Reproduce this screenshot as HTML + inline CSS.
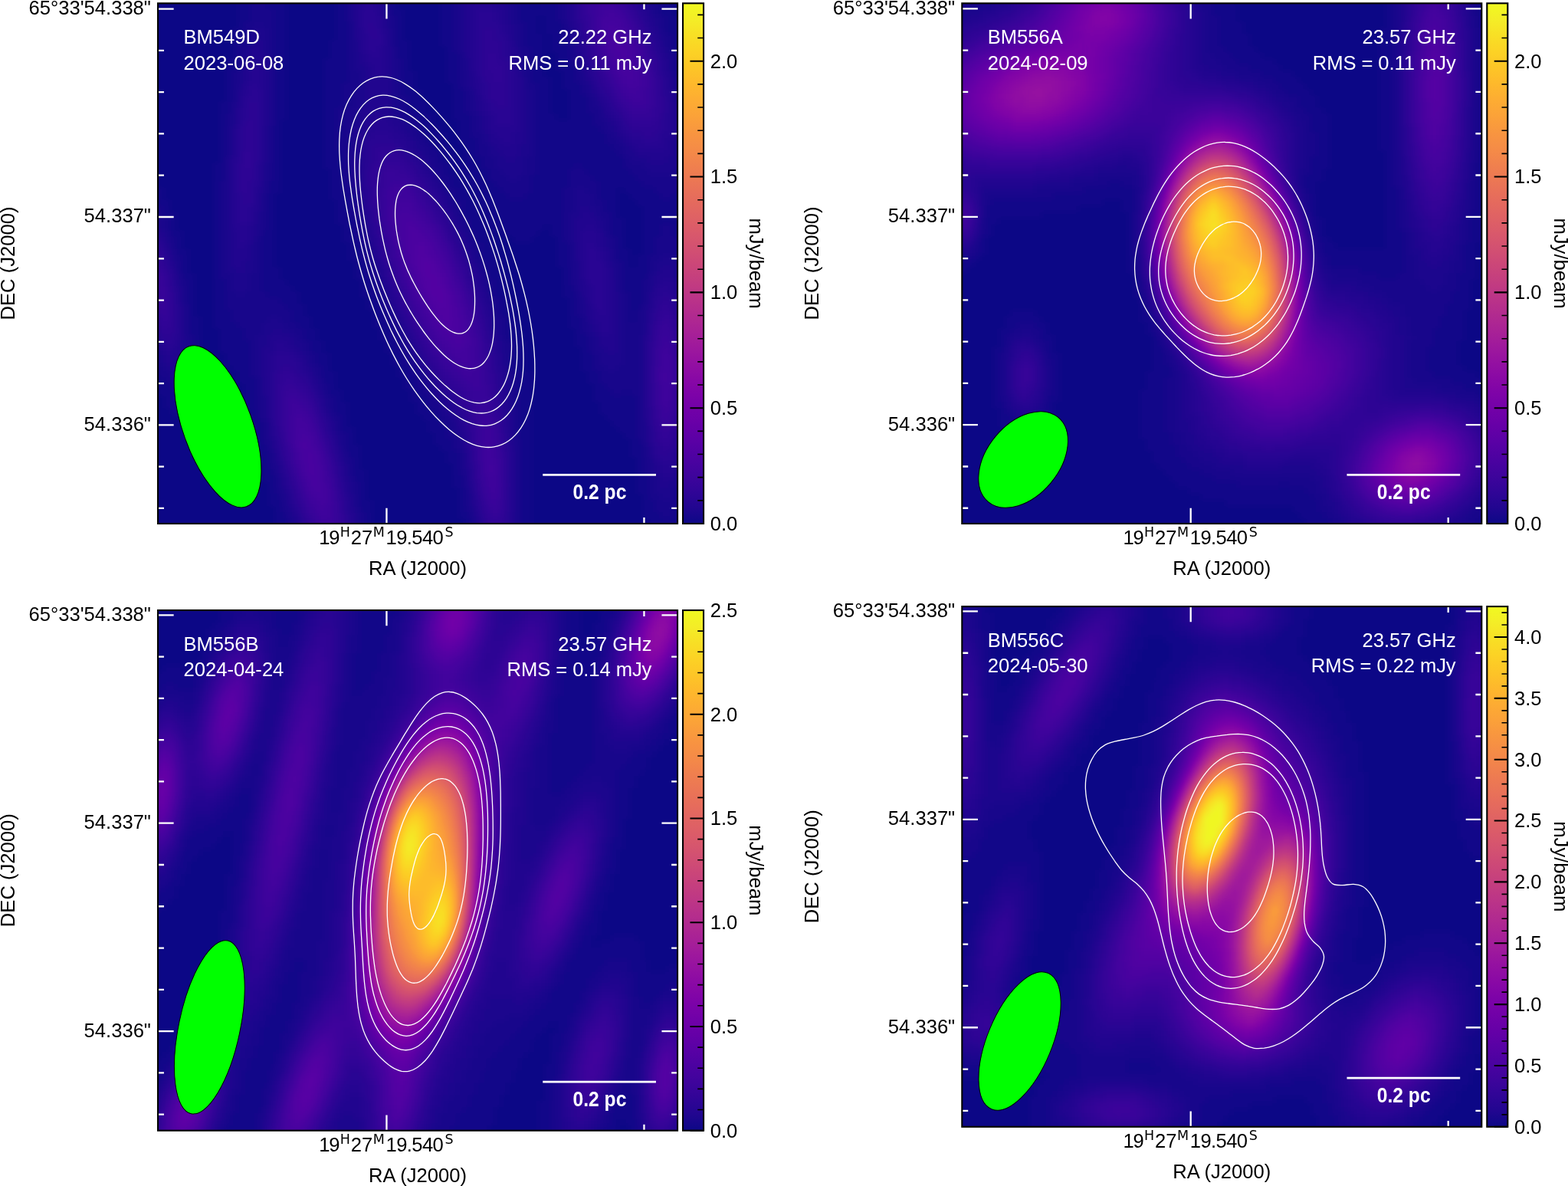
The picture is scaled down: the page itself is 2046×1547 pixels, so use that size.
<!DOCTYPE html>
<html lang="en"><head><meta charset="utf-8"><title>VLBA maps</title>
<style>html,body{margin:0;padding:0;background:#fff;overflow:hidden}svg{display:block}text{font-family:"Liberation Sans", Arial, Helvetica, sans-serif;font-size:25.6px}.w{fill:#fff}.k{fill:#000}.b{font-weight:bold}.s{font-family:"DejaVu Sans", "Liberation Sans", sans-serif;font-size:17.5px}</style></head><body>
<svg width="2046" height="1547" viewBox="0 0 2046 1547">
<defs>
<filter id="pl" filterUnits="userSpaceOnUse" x="-40" y="-40" width="760" height="760" color-interpolation-filters="sRGB">
<feGaussianBlur stdDeviation="4"/>
<feComponentTransfer>
<feFuncR type="table" tableValues="0.050 0.096 0.132 0.164 0.193 0.221 0.248 0.274 0.300 0.325 0.350 0.375 0.399 0.424 0.448 0.471 0.501 0.524 0.546 0.568 0.590 0.611 0.631 0.651 0.670 0.688 0.706 0.723 0.740 0.756 0.772 0.787 0.805 0.820 0.833 0.847 0.860 0.872 0.884 0.896 0.907 0.918 0.928 0.938 0.947 0.955 0.963 0.970 0.978 0.983 0.987 0.991 0.993 0.994 0.994 0.993 0.991 0.988 0.983 0.976 0.968 0.959 0.949 0.940"/>
<feFuncG type="table" tableValues="0.030 0.025 0.022 0.020 0.018 0.016 0.014 0.012 0.010 0.007 0.004 0.002 0.001 0.001 0.002 0.006 0.014 0.025 0.039 0.056 0.073 0.090 0.108 0.125 0.143 0.161 0.178 0.196 0.214 0.232 0.249 0.267 0.289 0.307 0.325 0.343 0.361 0.379 0.397 0.416 0.435 0.454 0.473 0.493 0.513 0.533 0.554 0.575 0.602 0.624 0.647 0.670 0.693 0.717 0.741 0.765 0.791 0.816 0.842 0.868 0.895 0.921 0.948 0.975"/>
<feFuncB type="table" tableValues="0.528 0.547 0.563 0.577 0.590 0.602 0.613 0.623 0.632 0.640 0.646 0.652 0.656 0.659 0.660 0.660 0.657 0.653 0.647 0.639 0.630 0.620 0.608 0.596 0.582 0.568 0.554 0.539 0.524 0.509 0.495 0.480 0.462 0.448 0.434 0.421 0.407 0.393 0.380 0.366 0.353 0.340 0.326 0.313 0.299 0.285 0.272 0.258 0.241 0.228 0.215 0.202 0.189 0.177 0.166 0.157 0.149 0.144 0.142 0.143 0.147 0.152 0.152 0.131"/>
</feComponentTransfer></filter>
<linearGradient id="cb" x1="0" y1="1" x2="0" y2="0">
<stop offset="0" stop-color="#0d0887"/>
<stop offset="0.03125" stop-color="#220690"/>
<stop offset="0.0625" stop-color="#310597"/>
<stop offset="0.09375" stop-color="#3f049c"/>
<stop offset="0.125" stop-color="#4c02a1"/>
<stop offset="0.15625" stop-color="#5901a5"/>
<stop offset="0.1875" stop-color="#6600a7"/>
<stop offset="0.21875" stop-color="#7201a8"/>
<stop offset="0.25" stop-color="#7e03a8"/>
<stop offset="0.28125" stop-color="#8a09a5"/>
<stop offset="0.3125" stop-color="#9511a1"/>
<stop offset="0.34375" stop-color="#a01a9c"/>
<stop offset="0.375" stop-color="#aa2395"/>
<stop offset="0.40625" stop-color="#b32c8e"/>
<stop offset="0.4375" stop-color="#bc3587"/>
<stop offset="0.46875" stop-color="#c43e7f"/>
<stop offset="0.5" stop-color="#cc4778"/>
<stop offset="0.53125" stop-color="#d35171"/>
<stop offset="0.5625" stop-color="#da5a6a"/>
<stop offset="0.59375" stop-color="#e06363"/>
<stop offset="0.625" stop-color="#e66c5c"/>
<stop offset="0.65625" stop-color="#eb7655"/>
<stop offset="0.6875" stop-color="#f0804e"/>
<stop offset="0.71875" stop-color="#f58b47"/>
<stop offset="0.75" stop-color="#f89540"/>
<stop offset="0.78125" stop-color="#fba139"/>
<stop offset="0.8125" stop-color="#fdac33"/>
<stop offset="0.84375" stop-color="#feb82c"/>
<stop offset="0.875" stop-color="#fdc527"/>
<stop offset="0.90625" stop-color="#fcd225"/>
<stop offset="0.9375" stop-color="#f8df25"/>
<stop offset="0.96875" stop-color="#f4ed27"/>
<stop offset="1" stop-color="#f0f921"/>
</linearGradient>
<clipPath id="ax"><rect x="0" y="0" width="678" height="678.7"/></clipPath>
</defs>
<rect width="2046" height="1547" fill="#fff"/>
<g transform="translate(206.05 4.3)">
<g clip-path="url(#ax)">
<g filter="url(#pl)"><rect x="-24" y="-24" width="728" height="728" fill="#000000"/><g stroke-width="8.3" fill="none"><path stroke="#020202" d="M112 -20h48M232 -20h16M296 -20h16M368 -20h16M464 -20h16M496 -20h16M640 -20h16M112 -12h48M232 -12h16M296 -12h16M368 -12h16M464 -12h24M496 -12h24M648 -12h16M104 -4h24M144 -4h24M232 -4h16M304 -4h8M368 -4h16M464 -4h24M496 -4h24M648 -4h16M104 4h16M144 4h24M232 4h16M304 4h8M368 4h16M472 4h16M496 4h24M656 4h16M104 12h16M152 12h16M232 12h16M304 12h16M368 12h16M472 12h48M656 12h16M104 20h16M152 20h16M232 20h16M312 20h8M368 20h16M472 20h24M504 20h16M664 20h16M104 28h8M152 28h16M232 28h16M312 28h8M368 28h16M480 28h16M504 28h24M664 28h16M96 36h16M152 36h16M232 36h16M312 36h8M368 36h16M480 36h16M504 36h24M664 36h16M96 44h16M152 44h16M232 44h16M312 44h8M368 44h16M480 44h24M512 44h16M672 44h16M96 52h8M152 52h16M224 52h24M312 52h16M368 52h16M480 52h24M512 52h16M672 52h16M96 60h8M152 60h16M224 60h24M312 60h16M376 60h8M488 60h16M512 60h24M672 60h16M96 68h8M152 68h16M224 68h24M312 68h16M376 68h16M488 68h16M520 68h16M680 68h16M88 76h16M152 76h16M216 76h32M320 76h8M376 76h16M488 76h16M520 76h16M680 76h16M88 84h16M152 84h16M216 84h32M320 84h8M376 84h16M488 84h16M520 84h24M680 84h16M88 92h8M152 92h16M216 92h32M320 92h16M376 92h16M488 92h16M528 92h16M688 92h8M88 100h8M152 100h16M216 100h32M320 100h16M376 100h16M488 100h24M528 100h16M688 100h16M88 108h8M152 108h16M216 108h24M320 108h16M384 108h8M496 108h16M528 108h24M688 108h16M88 116h8M152 116h16M216 116h24M320 116h24M384 116h16M496 116h16M536 116h16M688 116h16M88 124h8M152 124h16M216 124h24M328 124h16M384 124h16M496 124h16M536 124h24M688 124h16M80 132h16M152 132h16M216 132h24M328 132h24M384 132h16M496 132h16M536 132h24M696 132h8M80 140h16M152 140h16M216 140h16M328 140h24M384 140h16M496 140h16M536 140h24M696 140h8M80 148h8M152 148h16M216 148h16M336 148h24M384 148h24M496 148h24M536 148h32M696 148h8M80 156h8M152 156h8M216 156h16M344 156h16M392 156h16M496 156h72M696 156h8M80 164h8M152 164h8M216 164h16M344 164h24M392 164h16M496 164h80M696 164h8M80 172h8M152 172h8M216 172h16M352 172h24M392 172h16M496 172h88M696 172h8M80 180h8M152 180h8M216 180h16M352 180h24M392 180h24M496 180h88M696 180h8M80 188h8M152 188h8M216 188h16M360 188h24M400 188h16M496 188h96M696 188h8M80 196h8M152 196h8M216 196h24M368 196h16M400 196h16M496 196h104M696 196h8M80 204h8M152 204h8M216 204h24M368 204h24M400 204h24M496 204h112M696 204h8M72 212h16M152 212h8M216 212h24M376 212h48M496 212h48M552 212h56M696 212h8M-24 220h16M72 220h16M152 220h8M224 220h16M376 220h56M496 220h40M560 220h56M688 220h16M-24 228h24M72 228h16M152 228h8M224 228h16M384 228h48M488 228h48M568 228h56M688 228h16M-24 236h24M72 236h8M144 236h16M224 236h16M384 236h56M488 236h48M576 236h56M688 236h16M-24 244h32M72 244h8M144 244h16M224 244h16M392 244h56M488 244h40M576 244h24M608 244h40M680 244h24M-8 252h16M72 252h8M144 252h8M224 252h24M392 252h64M480 252h48M576 252h24M616 252h40M672 252h32M0 260h16M72 260h8M144 260h8M232 260h16M400 260h128M584 260h16M624 260h80M8 268h8M72 268h8M144 268h8M232 268h16M400 268h128M584 268h16M632 268h72M8 276h16M72 276h8M144 276h8M232 276h16M400 276h128M592 276h8M632 276h72M16 284h8M72 284h8M144 284h8M232 284h24M408 284h120M592 284h16M632 284h64M16 292h8M72 292h8M144 292h8M240 292h16M408 292h96M512 292h16M592 292h16M632 292h24M672 292h24M16 300h16M72 300h8M136 300h16M240 300h16M416 300h24M448 300h48M512 300h16M592 300h16M632 300h24M672 300h24M24 308h8M72 308h8M136 308h16M240 308h16M416 308h24M464 308h24M520 308h8M600 308h8M632 308h16M680 308h16M24 316h8M72 316h8M136 316h16M248 316h16M424 316h16M520 316h16M600 316h8M632 316h16M680 316h16M24 324h16M72 324h8M136 324h16M248 324h16M424 324h16M520 324h16M600 324h16M632 324h16M680 324h16M32 332h8M72 332h8M136 332h16M248 332h16M424 332h24M520 332h16M600 332h16M624 332h16M688 332h8M32 340h8M72 340h8M136 340h16M256 340h16M432 340h16M520 340h16M608 340h8M624 340h16M688 340h8M32 348h8M72 348h8M136 348h24M256 348h16M432 348h16M528 348h8M608 348h32M688 348h8M32 356h16M72 356h8M136 356h24M256 356h16M432 356h24M528 356h8M608 356h32M688 356h16M40 364h8M72 364h16M136 364h32M264 364h16M440 364h16M528 364h8M608 364h24M688 364h16M40 372h8M72 372h16M136 372h40M264 372h16M440 372h16M528 372h16M608 372h24M696 372h8M40 380h8M72 380h16M144 380h40M264 380h16M440 380h16M528 380h16M616 380h16M696 380h8M40 388h8M72 388h16M160 388h24M272 388h16M448 388h16M536 388h8M616 388h16M696 388h8M40 396h8M72 396h16M168 396h24M272 396h16M448 396h16M536 396h8M616 396h16M696 396h8M40 404h8M72 404h24M176 404h16M280 404h16M448 404h16M536 404h8M616 404h8M696 404h8M40 412h16M72 412h24M176 412h24M280 412h16M456 412h16M536 412h16M616 412h8M696 412h8M40 420h16M72 420h32M184 420h16M280 420h24M456 420h16M536 420h16M696 420h8M40 428h16M80 428h32M192 428h16M288 428h16M456 428h16M544 428h8M696 428h8M-24 436h8M48 436h8M80 436h32M192 436h16M288 436h16M456 436h16M544 436h16M696 436h8M-24 444h8M48 444h8M80 444h40M200 444h16M296 444h16M464 444h16M544 444h16M696 444h8M-24 452h8M40 452h16M80 452h40M200 452h16M296 452h16M464 452h16M552 452h8M696 452h8M-24 460h16M40 460h16M88 460h32M208 460h16M304 460h16M464 460h16M552 460h16M696 460h8M-16 468h8M40 468h16M88 468h32M208 468h16M304 468h16M464 468h16M552 468h16M696 468h8M-16 476h16M40 476h16M96 476h24M216 476h8M312 476h16M464 476h16M552 476h16M696 476h8M-16 484h16M40 484h16M104 484h16M216 484h16M312 484h16M472 484h16M560 484h16M696 484h8M-8 492h16M40 492h16M104 492h24M216 492h16M320 492h16M472 492h16M560 492h16M696 492h8M-8 500h24M32 500h16M112 500h16M224 500h8M320 500h16M472 500h16M568 500h16M696 500h8M0 508h48M112 508h16M224 508h16M328 508h16M472 508h16M568 508h24M608 508h8M696 508h8M8 516h40M112 516h16M232 516h8M328 516h24M472 516h16M568 516h56M696 516h8M8 524h40M112 524h16M232 524h16M336 524h16M472 524h16M576 524h48M696 524h8M16 532h24M120 532h8M232 532h16M336 532h24M472 532h16M576 532h48M696 532h8M120 540h8M240 540h8M344 540h24M472 540h16M584 540h40M696 540h8M120 548h16M240 548h8M352 548h16M472 548h16M592 548h32M696 548h8M120 556h16M240 556h16M352 556h24M472 556h16M600 556h24M696 556h8M128 564h8M248 564h8M360 564h16M472 564h16M608 564h16M696 564h8M128 572h8M248 572h8M360 572h24M472 572h16M616 572h16M696 572h8M128 580h16M248 580h16M368 580h16M472 580h16M616 580h16M696 580h8M128 588h16M248 588h16M376 588h16M472 588h16M616 588h16M696 588h8M136 596h8M256 596h8M376 596h16M472 596h16M624 596h8M696 596h8M136 604h8M256 604h8M384 604h8M472 604h16M624 604h8M688 604h16M136 612h16M256 612h16M384 612h8M472 612h16M624 612h8M688 612h16M136 620h16M256 620h16M384 620h16M472 620h16M624 620h16M688 620h8M144 628h8M264 628h8M384 628h16M472 628h16M624 628h16M688 628h8M144 636h8M264 636h8M392 636h8M472 636h16M624 636h16M688 636h8M144 644h16M264 644h8M392 644h8M472 644h16M632 644h8M680 644h16M144 652h16M264 652h16M392 652h8M472 652h16M632 652h16M680 652h16M152 660h8M264 660h16M392 660h8M472 660h16M632 660h16M672 660h24M152 668h16M272 668h8M392 668h16M472 668h16M632 668h24M672 668h16M152 676h16M272 676h8M400 676h8M472 676h16M640 676h48M160 684h8M272 684h8M400 684h8M472 684h16M640 684h48M160 692h16M272 692h16M400 692h8M472 692h8M640 692h40M160 700h16M272 700h16M400 700h16M472 700h8M648 700h32"/><path stroke="#040404" d="M248 -20h8M288 -20h8M384 -20h8M448 -20h16M512 -20h16M632 -20h8M248 -12h8M384 -12h8M456 -12h8M520 -12h8M640 -12h8M128 -4h16M296 -4h8M384 -4h8M456 -4h8M520 -4h8M640 -4h8M120 4h24M296 4h8M384 4h8M464 4h8M520 4h8M648 4h8M120 12h32M384 12h8M464 12h8M520 12h8M648 12h8M120 20h32M304 20h8M384 20h8M464 20h8M520 20h8M656 20h8M112 28h16M136 28h16M248 28h8M304 28h8M384 28h8M472 28h8M528 28h8M656 28h8M112 36h8M144 36h8M248 36h8M304 36h8M384 36h8M472 36h8M528 36h8M656 36h8M112 44h8M144 44h8M248 44h8M304 44h8M384 44h8M472 44h8M528 44h8M664 44h8M104 52h16M144 52h8M248 52h8M304 52h8M384 52h8M472 52h8M528 52h8M664 52h8M104 60h8M144 60h8M248 60h8M384 60h8M472 60h16M536 60h8M664 60h8M104 68h8M144 68h8M248 68h8M392 68h8M480 68h8M536 68h8M672 68h8M104 76h8M248 76h8M312 76h8M392 76h8M480 76h8M536 76h8M672 76h8M104 84h8M248 84h8M312 84h8M392 84h8M480 84h8M544 84h8M672 84h8M96 92h8M248 92h16M312 92h8M392 92h8M480 92h8M544 92h8M672 92h16M96 100h8M248 100h16M312 100h8M392 100h8M480 100h8M544 100h8M680 100h8M96 108h8M240 108h24M312 108h8M392 108h8M480 108h16M552 108h8M680 108h8M96 116h8M240 116h16M312 116h8M400 116h8M488 116h8M552 116h8M680 116h8M96 124h8M240 124h16M312 124h16M400 124h8M488 124h8M560 124h8M680 124h8M240 132h16M312 132h16M400 132h8M488 132h8M560 132h8M680 132h16M232 140h16M320 140h8M400 140h8M488 140h8M560 140h16M688 140h8M88 148h8M232 148h16M320 148h16M408 148h8M488 148h8M568 148h8M688 148h8M88 156h8M232 156h16M328 156h16M408 156h8M488 156h8M568 156h16M688 156h8M88 164h8M144 164h8M232 164h16M336 164h8M408 164h8M488 164h8M576 164h8M688 164h8M88 172h8M144 172h8M232 172h16M336 172h16M408 172h16M488 172h8M584 172h8M688 172h8M88 180h8M144 180h8M232 180h16M344 180h8M416 180h8M488 180h8M584 180h16M688 180h8M88 188h8M144 188h8M232 188h16M352 188h8M416 188h16M488 188h8M592 188h16M680 188h16M88 196h8M144 196h8M240 196h8M352 196h16M416 196h16M488 196h8M600 196h8M680 196h16M144 204h8M240 204h8M360 204h8M424 204h16M480 204h16M608 204h8M680 204h16M144 212h8M240 212h8M360 212h16M424 212h16M480 212h16M544 212h8M608 212h24M680 212h16M144 220h8M240 220h8M368 220h8M432 220h16M480 220h16M536 220h24M616 220h24M672 220h16M144 228h8M240 228h8M368 228h16M432 228h24M472 228h16M536 228h32M624 228h64M80 236h8M240 236h8M376 236h8M440 236h48M536 236h40M632 236h56M80 244h8M240 244h16M376 244h16M448 244h40M528 244h16M560 244h16M648 244h32M-24 252h16M80 252h8M136 252h8M248 252h8M384 252h8M456 252h24M528 252h16M568 252h8M656 252h16M-24 260h24M80 260h8M136 260h8M248 260h8M384 260h16M528 260h16M568 260h16M-8 268h16M80 268h8M136 268h8M248 268h8M392 268h8M528 268h16M576 268h8M0 276h8M80 276h8M136 276h8M248 276h8M392 276h8M528 276h8M576 276h16M8 284h8M80 284h8M136 284h8M256 284h8M400 284h8M528 284h8M584 284h8M8 292h8M80 292h8M136 292h8M256 292h8M400 292h8M528 292h8M584 292h8M656 292h16M80 300h8M256 300h8M408 300h8M528 300h8M584 300h8M656 300h16M16 308h8M80 308h8M128 308h8M256 308h8M408 308h8M528 308h8M592 308h8M648 308h32M16 316h8M80 316h8M128 316h8M264 316h8M408 316h16M536 316h8M592 316h8M648 316h32M80 324h8M128 324h8M264 324h8M416 324h8M536 324h8M592 324h8M648 324h32M24 332h8M80 332h8M128 332h8M264 332h8M416 332h8M536 332h8M592 332h8M640 332h16M672 332h16M24 340h8M80 340h8M128 340h8M272 340h8M424 340h8M536 340h8M600 340h8M640 340h8M680 340h8M24 348h8M80 348h8M128 348h8M272 348h8M424 348h8M536 348h8M600 348h8M640 348h8M680 348h8M80 356h16M120 356h16M272 356h8M424 356h8M536 356h8M600 356h8M680 356h8M32 364h8M88 364h8M120 364h16M280 364h8M432 364h8M536 364h8M600 364h8M632 364h8M32 372h8M88 372h8M120 372h16M280 372h8M432 372h8M600 372h8M632 372h8M688 372h8M32 380h8M88 380h16M112 380h32M280 380h16M432 380h8M544 380h8M608 380h8M632 380h8M688 380h8M32 388h8M88 388h72M288 388h8M440 388h8M544 388h8M608 388h8M632 388h8M688 388h8M88 396h80M288 396h8M440 396h8M544 396h8M608 396h8M688 396h8M96 404h80M296 404h8M440 404h8M544 404h8M608 404h8M624 404h8M688 404h8M-24 412h8M96 412h48M160 412h16M296 412h8M448 412h8M552 412h8M608 412h8M624 412h8M688 412h8M-24 420h8M104 420h32M168 420h16M304 420h8M448 420h8M552 420h8M608 420h24M-24 428h8M112 428h24M176 428h16M304 428h8M448 428h8M552 428h8M608 428h24M40 436h8M112 436h16M184 436h8M304 436h16M448 436h8M560 436h8M608 436h24M-16 444h8M40 444h8M120 444h8M192 444h8M312 444h8M456 444h8M560 444h8M608 444h24M-16 452h8M120 452h8M192 452h8M312 452h16M456 452h8M560 452h8M608 452h24M-8 460h8M120 460h8M200 460h8M320 460h8M456 460h8M568 460h8M608 460h24M-8 468h8M32 468h8M120 468h8M200 468h8M320 468h16M456 468h8M568 468h8M608 468h24M0 476h8M32 476h8M120 476h8M208 476h8M328 476h8M456 476h8M568 476h16M600 476h32M0 484h16M24 484h16M120 484h8M208 484h8M328 484h16M464 484h8M576 484h56M8 492h32M128 492h8M336 492h8M464 492h8M576 492h56M16 500h16M128 500h8M216 500h8M336 500h16M464 500h8M584 500h48M128 508h8M216 508h8M344 508h8M464 508h8M592 508h16M616 508h16M128 516h8M224 516h8M352 516h8M464 516h8M624 516h8M128 524h8M224 524h8M352 524h16M464 524h8M624 524h8M128 532h8M224 532h8M360 532h8M464 532h8M624 532h8M128 540h8M232 540h8M368 540h8M464 540h8M624 540h8M136 548h8M232 548h8M368 548h16M464 548h8M624 548h8M136 556h8M232 556h8M376 556h8M464 556h8M624 556h8M136 564h8M240 564h8M376 564h16M464 564h8M624 564h8M688 564h8M136 572h8M240 572h8M384 572h8M688 572h8M240 580h8M384 580h8M632 580h8M688 580h8M144 588h8M392 588h8M632 588h8M688 588h8M144 596h8M248 596h8M392 596h8M632 596h8M688 596h8M144 604h8M248 604h8M392 604h8M632 604h8M248 612h8M392 612h8M632 612h8M680 612h8M152 620h8M640 620h8M680 620h8M152 628h8M256 628h8M640 628h8M680 628h8M152 636h8M256 636h8M400 636h8M640 636h8M672 636h16M256 644h8M400 644h8M640 644h16M672 644h8M160 652h8M256 652h8M400 652h8M648 652h32M160 660h8M400 660h8M648 660h24M264 668h8M656 668h16M168 676h8M264 676h8M408 676h8M168 684h8M264 684h8M408 684h8M464 684h8M176 692h8M264 692h8M408 692h8M464 692h8M176 700h8M264 700h8M464 700h8"/><path stroke="#060606" d="M256 -20h8M280 -20h8M392 -20h16M440 -20h8M528 -20h8M624 -20h8M288 -12h8M392 -12h8M448 -12h8M528 -12h8M632 -12h8M248 -4h8M288 -4h8M392 -4h8M448 -4h8M528 -4h8M632 -4h8M248 4h8M392 4h8M456 4h8M528 4h8M640 4h8M248 12h8M296 12h8M392 12h8M456 12h8M528 12h8M640 12h8M248 20h8M296 20h8M392 20h8M456 20h8M528 20h8M648 20h8M128 28h8M296 28h8M392 28h8M464 28h8M648 28h8M120 36h24M392 36h8M464 36h8M536 36h8M120 44h24M392 44h8M464 44h8M536 44h8M656 44h8M120 52h8M136 52h8M256 52h8M392 52h8M464 52h8M536 52h8M656 52h8M112 60h8M136 60h8M256 60h8M304 60h8M392 60h8M112 68h8M256 68h8M304 68h8M472 68h8M544 68h8M664 68h8M112 76h8M144 76h8M256 76h8M304 76h8M400 76h8M472 76h8M544 76h8M664 76h8M144 84h8M256 84h16M304 84h8M400 84h8M472 84h8M664 84h8M104 92h8M144 92h8M264 92h8M304 92h8M400 92h8M472 92h8M552 92h8M104 100h8M144 100h8M264 100h8M304 100h8M400 100h8M552 100h8M672 100h8M104 108h8M144 108h8M264 108h8M304 108h8M400 108h8M560 108h8M672 108h8M144 116h8M256 116h16M304 116h8M408 116h8M480 116h8M560 116h8M672 116h8M144 124h8M256 124h16M304 124h8M408 124h8M480 124h8M568 124h8M672 124h8M96 132h8M144 132h8M256 132h16M304 132h8M408 132h8M480 132h8M568 132h8M96 140h8M144 140h8M248 140h16M304 140h16M408 140h8M480 140h8M576 140h8M680 140h8M96 148h8M144 148h8M248 148h16M312 148h8M416 148h8M480 148h8M576 148h8M680 148h8M96 156h8M144 156h8M248 156h16M320 156h8M416 156h8M480 156h8M584 156h8M680 156h8M248 164h8M320 164h16M416 164h8M480 164h8M584 164h16M680 164h8M248 172h8M328 172h8M424 172h8M480 172h8M592 172h8M680 172h8M248 180h8M336 180h8M424 180h8M480 180h8M600 180h8M672 180h16M248 188h8M336 188h16M432 188h8M472 188h16M608 188h8M672 188h8M248 196h8M344 196h8M432 196h16M472 196h16M608 196h16M672 196h8M88 204h8M248 204h8M352 204h8M440 204h16M464 204h16M616 204h24M664 204h16M88 212h8M136 212h8M248 212h8M352 212h8M440 212h40M632 212h48M88 220h8M136 220h8M248 220h8M360 220h8M448 220h32M640 220h32M88 228h8M136 228h8M248 228h8M360 228h8M456 228h16M88 236h8M136 236h8M248 236h8M368 236h8M88 244h8M136 244h8M368 244h8M544 244h16M88 252h8M256 252h8M376 252h8M544 252h24M88 260h8M256 260h8M376 260h8M544 260h24M-24 268h16M88 268h8M256 268h8M384 268h8M544 268h8M560 268h16M-24 276h24M88 276h8M128 276h8M256 276h8M384 276h8M536 276h16M568 276h8M0 284h8M88 284h8M128 284h8M264 284h8M392 284h8M536 284h8M576 284h8M0 292h8M88 292h8M128 292h8M264 292h8M392 292h8M536 292h8M576 292h8M8 300h8M88 300h8M128 300h8M264 300h8M400 300h8M536 300h8M8 308h8M88 308h8M264 308h8M400 308h8M536 308h8M584 308h8M88 316h8M120 316h8M272 316h8M584 316h8M16 324h8M88 324h8M120 324h8M272 324h8M408 324h8M16 332h8M88 332h8M120 332h8M272 332h8M408 332h8M656 332h16M88 340h8M112 340h16M280 340h8M416 340h8M544 340h8M592 340h8M648 340h32M88 348h16M112 348h16M280 348h8M416 348h8M544 348h8M592 348h8M648 348h8M672 348h8M24 356h8M96 356h24M280 356h8M544 356h8M592 356h8M640 356h8M672 356h8M24 364h8M96 364h24M288 364h8M424 364h8M544 364h8M640 364h8M680 364h8M96 372h24M288 372h8M424 372h8M544 372h8M640 372h8M680 372h8M104 380h8M600 380h8M680 380h8M296 388h8M432 388h8M552 388h8M600 388h8M680 388h8M-24 396h8M32 396h8M296 396h8M432 396h8M552 396h8M600 396h8M632 396h8M-24 404h8M32 404h8M304 404h8M552 404h8M600 404h8M632 404h8M32 412h8M144 412h16M304 412h8M440 412h8M600 412h8M632 412h8M32 420h8M136 420h32M312 420h8M440 420h8M560 420h8M600 420h8M632 420h8M688 420h8M-16 428h8M32 428h8M136 428h16M160 428h16M312 428h8M440 428h8M560 428h8M600 428h8M632 428h8M688 428h8M-16 436h8M32 436h8M128 436h16M176 436h8M568 436h8M600 436h8M688 436h8M32 444h8M128 444h16M176 444h16M320 444h8M448 444h8M568 444h8M600 444h8M688 444h8M-8 452h8M32 452h8M128 452h8M184 452h8M448 452h8M568 452h16M600 452h8M688 452h8M0 460h8M32 460h8M128 460h8M192 460h8M328 460h8M448 460h8M576 460h32M688 460h8M0 468h8M24 468h8M128 468h8M192 468h8M448 468h8M576 468h32M688 468h8M8 476h24M128 476h8M200 476h8M336 476h8M584 476h16M688 476h8M16 484h8M128 484h8M200 484h8M344 484h8M456 484h8M688 484h8M208 492h8M344 492h8M456 492h8M688 492h8M208 500h8M352 500h8M456 500h8M688 500h8M352 508h8M456 508h8M688 508h8M136 516h8M216 516h8M360 516h8M456 516h8M688 516h8M136 524h8M216 524h8M368 524h8M456 524h8M688 524h8M136 532h8M368 532h8M688 532h8M136 540h8M224 540h8M376 540h8M688 540h8M384 548h8M632 548h8M688 548h8M384 556h8M632 556h8M688 556h8M232 564h8M632 564h8M144 572h8M232 572h8M392 572h8M464 572h8M632 572h8M144 580h8M392 580h8M464 580h8M240 588h8M464 588h8M680 588h8M240 596h8M464 596h8M640 596h8M680 596h8M152 604h8M464 604h8M640 604h8M680 604h8M152 612h8M400 612h8M464 612h8M640 612h8M248 620h8M400 620h8M464 620h8M648 620h8M672 620h8M248 628h8M400 628h8M464 628h8M648 628h8M664 628h16M160 636h8M248 636h8M464 636h8M648 636h24M160 644h8M464 644h8M656 644h16M464 652h8M168 660h8M256 660h8M408 660h8M464 660h8M168 668h8M256 668h8M408 668h8M464 668h8M176 676h8M256 676h8M464 676h8M176 684h8M256 684h8M256 692h8M416 692h8M184 700h8M256 700h8M416 700h8M456 700h8"/><path stroke="#080808" d="M264 -20h16M408 -20h32M616 -20h8M256 -12h16M280 -12h8M400 -12h16M432 -12h16M624 -12h8M256 -4h8M280 -4h8M400 -4h16M440 -4h8M256 4h8M288 4h8M400 4h8M440 4h16M536 4h8M632 4h8M256 12h8M288 12h8M400 12h8M448 12h8M536 12h8M256 20h8M400 20h8M448 20h8M536 20h8M640 20h8M256 28h8M400 28h8M456 28h8M536 28h8M640 28h8M256 36h8M296 36h8M400 36h8M456 36h8M648 36h8M256 44h8M296 44h8M400 44h8M456 44h8M544 44h8M648 44h8M128 52h8M296 52h8M400 52h8M544 52h8M120 60h16M296 60h8M400 60h8M464 60h8M544 60h8M656 60h8M120 68h24M264 68h8M296 68h8M400 68h8M464 68h8M656 68h8M120 76h24M264 76h8M296 76h8M464 76h8M552 76h8M112 84h8M136 84h8M272 84h8M296 84h8M464 84h8M552 84h8M112 92h8M136 92h8M272 92h8M296 92h8M408 92h8M664 92h8M112 100h8M136 100h8M272 100h32M408 100h8M472 100h8M560 100h8M664 100h8M136 108h8M272 108h32M408 108h8M472 108h8M664 108h8M104 116h8M136 116h8M272 116h32M472 116h8M568 116h8M104 124h8M136 124h8M272 124h32M416 124h8M472 124h8M104 132h8M136 132h8M272 132h32M416 132h8M472 132h8M576 132h8M672 132h8M136 140h8M264 140h40M416 140h8M472 140h8M672 140h8M136 148h8M264 148h16M296 148h16M424 148h8M472 148h8M584 148h8M672 148h8M136 156h8M264 156h8M304 156h16M424 156h8M472 156h8M592 156h8M672 156h8M96 164h8M136 164h8M256 164h16M312 164h8M424 164h8M472 164h8M672 164h8M96 172h8M136 172h8M256 172h8M320 172h8M432 172h8M464 172h16M600 172h8M672 172h8M96 180h8M136 180h8M256 180h8M328 180h8M432 180h16M464 180h16M608 180h8M664 180h8M96 188h8M136 188h8M256 188h8M328 188h8M440 188h32M616 188h8M664 188h8M96 196h8M136 196h8M256 196h8M336 196h8M448 196h24M624 196h48M136 204h8M256 204h8M344 204h8M456 204h8M640 204h24M256 212h8M344 212h8M256 220h8M352 220h8M256 228h8M256 236h8M360 236h8M128 244h8M256 244h8M128 252h8M368 252h8M128 260h8M264 260h8M128 268h8M264 268h8M376 268h8M552 268h8M264 276h8M552 276h16M-24 284h24M384 284h8M544 284h32M-24 292h8M-8 292h8M120 292h8M544 292h16M568 292h8M0 300h8M96 300h8M120 300h8M272 300h8M392 300h8M544 300h8M576 300h8M96 308h8M120 308h8M272 308h8M544 308h8M576 308h8M8 316h8M96 316h8M112 316h8M400 316h8M544 316h8M576 316h8M96 324h24M280 324h8M400 324h8M544 324h8M584 324h8M96 332h24M280 332h8M544 332h8M584 332h8M16 340h8M96 340h16M408 340h8M584 340h8M104 348h8M288 348h8M656 348h16M288 356h8M416 356h8M648 356h24M416 364h8M552 364h8M592 364h8M648 364h8M672 364h8M24 372h8M296 372h8M552 372h8M592 372h8M672 372h8M-24 380h8M24 380h8M296 380h8M424 380h8M552 380h8M592 380h8M640 380h8M-24 388h8M24 388h8M424 388h8M592 388h8M640 388h8M304 396h8M560 396h8M592 396h8M640 396h8M680 396h8M432 404h8M560 404h8M592 404h8M680 404h8M-16 412h8M312 412h8M432 412h8M560 412h8M592 412h8M-16 420h8M432 420h8M568 420h8M592 420h8M152 428h8M320 428h8M568 428h8M592 428h8M-8 436h8M144 436h32M320 436h8M440 436h8M576 436h24M632 436h8M-8 444h8M24 444h8M144 444h8M168 444h8M328 444h8M440 444h8M576 444h24M632 444h8M0 452h8M24 452h8M136 452h16M176 452h8M328 452h8M440 452h8M584 452h16M632 452h8M8 460h24M136 460h8M184 460h8M336 460h8M632 460h8M8 468h16M136 468h8M336 468h8M632 468h8M136 476h8M192 476h8M344 476h8M448 476h8M632 476h8M136 484h8M448 484h8M632 484h8M136 492h8M200 492h8M352 492h8M448 492h8M632 492h8M136 500h8M360 500h8M448 500h8M632 500h8M136 508h8M208 508h8M360 508h8M632 508h8M368 516h8M632 516h8M376 524h8M632 524h8M216 532h8M376 532h8M456 532h8M632 532h8M384 540h8M456 540h8M632 540h8M144 548h8M224 548h8M456 548h8M144 556h8M224 556h8M392 556h8M456 556h8M144 564h8M392 564h8M456 564h8M680 564h8M456 572h8M680 572h8M232 580h8M640 580h8M680 580h8M152 588h8M400 588h8M640 588h8M152 596h8M400 596h8M240 604h8M400 604h8M648 604h8M672 604h8M240 612h8M648 612h8M672 612h8M160 620h8M240 620h8M656 620h16M160 628h8M656 628h8M168 644h8M248 644h8M408 644h8M168 652h8M248 652h8M408 652h8M248 660h8M176 668h8M416 676h8M416 684h8M456 684h8M184 692h8M456 692h8M424 700h8"/><path stroke="#0a0a0a" d="M536 -20h8M272 -12h8M416 -12h16M536 -12h8M616 -12h8M264 -4h16M416 -4h24M536 -4h8M624 -4h8M264 4h8M280 4h8M408 4h32M624 4h8M408 12h8M440 12h8M632 12h8M288 20h8M408 20h8M440 20h8M632 20h8M288 28h8M408 28h8M448 28h8M544 28h8M264 36h8M288 36h8M408 36h8M448 36h8M544 36h8M640 36h8M264 44h8M408 44h8M264 52h8M408 52h8M456 52h8M648 52h8M264 60h8M288 60h8M408 60h8M456 60h8M552 60h8M648 60h8M272 68h8M288 68h8M408 68h8M456 68h8M552 68h8M272 76h24M408 76h8M656 76h8M120 84h16M280 84h16M408 84h8M560 84h8M656 84h8M120 92h16M280 92h16M464 92h8M560 92h8M656 92h8M120 100h16M416 100h8M464 100h8M112 108h8M128 108h8M416 108h8M464 108h8M568 108h8M112 116h8M416 116h8M464 116h8M664 116h8M464 124h8M576 124h8M664 124h8M424 132h8M464 132h8M584 132h8M664 132h8M104 140h8M424 140h8M464 140h8M584 140h8M664 140h8M104 148h8M280 148h16M432 148h8M464 148h8M592 148h8M664 148h8M104 156h8M272 156h32M432 156h8M464 156h8M600 156h8M664 156h8M272 164h40M432 164h40M600 164h8M664 164h8M264 172h16M304 172h16M440 172h24M608 172h8M656 172h16M264 180h8M312 180h16M448 180h16M616 180h16M656 180h8M264 188h8M320 188h8M624 188h40M264 196h8M328 196h8M96 204h8M264 204h8M336 204h8M96 212h8M128 212h8M264 212h8M96 220h8M128 220h8M264 220h8M344 220h8M96 228h8M128 228h8M264 228h8M352 228h8M96 236h8M128 236h8M264 236h8M352 236h8M96 244h8M264 244h8M360 244h8M96 252h8M264 252h8M96 260h8M368 260h8M96 268h8M120 268h8M96 276h8M120 276h8M272 276h8M376 276h8M96 284h8M120 284h8M272 284h8M-16 292h8M96 292h24M272 292h8M384 292h8M560 292h8M-24 300h24M104 300h16M384 300h8M552 300h24M-24 308h8M0 308h8M104 308h16M280 308h8M392 308h8M552 308h24M-24 316h8M104 316h8M280 316h8M392 316h8M552 316h8M568 316h8M-24 324h8M8 324h8M552 324h8M576 324h8M400 332h8M552 332h8M576 332h8M288 340h8M552 340h8M16 348h8M408 348h8M552 348h8M584 348h8M-24 356h8M16 356h8M408 356h8M552 356h8M584 356h8M-24 364h8M296 364h8M584 364h8M656 364h16M-24 372h8M416 372h8M560 372h8M584 372h8M648 372h8M664 372h8M304 380h8M416 380h8M560 380h8M584 380h8M648 380h8M672 380h8M304 388h8M560 388h8M584 388h8M672 388h8M24 396h8M424 396h8M584 396h8M-16 404h8M24 404h8M312 404h8M424 404h8M568 404h8M584 404h8M640 404h8M24 412h8M568 412h24M640 412h8M680 412h8M24 420h8M320 420h8M576 420h16M680 420h8M-8 428h8M24 428h8M432 428h8M576 428h16M680 428h8M24 436h8M328 436h8M432 436h8M680 436h8M0 444h8M152 444h16M8 452h16M152 452h24M336 452h8M144 460h8M176 460h8M440 460h8M144 468h8M184 468h8M344 468h8M440 468h8M144 476h8M184 476h8M440 476h8M144 484h8M192 484h8M352 484h8M144 492h8M360 492h8M144 500h8M200 500h8M144 508h8M368 508h8M448 508h8M144 516h8M208 516h8M376 516h8M448 516h8M144 524h8M208 524h8M384 524h8M448 524h8M144 532h8M384 532h8M448 532h8M144 540h8M216 540h8M392 540h8M680 540h8M392 548h8M680 548h8M640 556h8M680 556h8M224 564h8M400 564h8M640 564h8M152 572h8M400 572h8M640 572h8M152 580h8M400 580h8M456 580h8M232 588h8M456 588h8M672 588h8M232 596h8M456 596h8M648 596h8M672 596h8M160 604h8M456 604h8M656 604h16M160 612h8M456 612h8M656 612h16M456 620h8M240 628h8M408 628h8M456 628h8M168 636h8M240 636h8M408 636h8M456 636h8M456 644h8M456 652h8M176 660h8M456 660h8M248 668h8M416 668h8M456 668h8M184 676h8M248 676h8M456 676h8M184 684h8M248 684h8M248 692h8M424 692h8M448 692h8M192 700h8M248 700h8M432 700h8M448 700h8"/><path stroke="#0c0c0c" d="M544 -20h8M608 -20h8M544 -12h8M544 -4h8M616 -4h8M272 4h8M544 4h8M264 12h24M416 12h24M544 12h8M624 12h8M264 20h24M416 20h24M544 20h8M264 28h8M280 28h8M416 28h32M632 28h8M416 36h8M440 36h8M272 44h8M288 44h8M416 44h8M440 44h16M552 44h8M640 44h8M272 52h24M416 52h8M448 52h8M552 52h8M272 60h16M416 60h8M448 60h8M280 68h8M416 68h8M448 68h8M648 68h8M416 76h8M456 76h8M560 76h8M416 84h8M456 84h8M416 92h8M456 92h8M568 92h8M456 100h8M568 100h8M656 100h8M120 108h8M424 108h8M456 108h8M656 108h8M120 116h16M424 116h8M456 116h8M576 116h8M656 116h8M112 124h24M424 124h8M456 124h8M584 124h8M112 132h8M128 132h8M432 132h8M456 132h8M112 140h8M128 140h8M432 140h32M592 140h8M112 148h8M128 148h8M440 148h24M600 148h8M656 148h8M128 156h8M440 156h24M656 156h8M104 164h8M128 164h8M608 164h8M656 164h8M104 172h8M128 172h8M280 172h24M616 172h16M648 172h8M104 180h8M128 180h8M272 180h40M632 180h24M104 188h8M128 188h8M272 188h8M312 188h8M104 196h8M128 196h8M272 196h8M320 196h8M104 204h8M128 204h8M272 204h8M328 204h8M272 212h8M336 212h8M336 220h8M344 228h8M120 236h8M120 244h8M272 244h8M352 244h8M104 252h8M120 252h8M272 252h8M360 252h8M104 260h8M120 260h8M272 260h8M360 260h8M104 268h16M272 268h8M368 268h8M104 276h16M104 284h16M376 284h8M280 292h8M376 292h8M280 300h8M-16 308h16M384 308h8M0 316h8M560 316h8M288 324h8M392 324h8M560 324h16M-24 332h8M8 332h8M288 332h8M560 332h16M-24 340h8M8 340h8M400 340h8M560 340h24M-24 348h8M296 348h8M560 348h24M296 356h8M560 356h24M16 364h8M408 364h8M560 364h24M16 372h8M304 372h8M568 372h16M656 372h8M568 380h16M656 380h16M-16 388h8M312 388h8M416 388h8M568 388h16M648 388h8M-16 396h8M312 396h8M568 396h16M648 396h8M672 396h8M576 404h8M672 404h8M320 412h8M424 412h8M-8 420h8M424 420h8M640 420h8M328 428h8M640 428h8M0 436h8M16 436h8M640 436h8M8 444h16M336 444h8M432 444h8M680 444h8M432 452h8M680 452h8M152 460h24M344 460h8M680 460h8M152 468h32M680 468h8M152 476h8M176 476h8M352 476h8M680 476h8M184 484h8M360 484h8M440 484h8M680 484h8M192 492h8M440 492h8M680 492h8M368 500h8M440 500h8M680 500h8M200 508h8M376 508h8M440 508h8M680 508h8M384 516h8M680 516h8M680 524h8M208 532h8M392 532h8M640 532h8M680 532h8M448 540h8M640 540h8M216 548h8M400 548h8M448 548h8M640 548h8M152 556h8M216 556h8M400 556h8M448 556h8M152 564h8M224 572h8M672 572h8M224 580h8M648 580h8M672 580h8M648 588h8M664 588h8M160 596h8M656 596h16M232 604h8M408 604h8M232 612h8M408 612h8M168 620h8M408 620h8M168 628h8M240 644h8M176 652h8M240 652h8M416 652h8M240 660h8M416 660h8M184 668h8M424 684h8M448 684h8M192 692h8M432 692h16M200 700h8M440 700h8"/><path stroke="#0e0e0e" d="M552 -20h8M600 -20h8M608 -12h8M616 4h8M624 20h8M272 28h8M552 28h8M272 36h16M424 36h16M552 36h8M632 36h8M280 44h8M424 44h16M424 52h24M640 52h8M424 60h24M560 60h8M640 60h8M424 68h8M440 68h8M560 68h8M424 76h8M440 76h16M648 76h8M424 84h8M448 84h8M568 84h8M648 84h8M424 92h16M448 92h8M648 92h8M424 100h16M448 100h8M576 100h8M432 108h24M576 108h8M432 116h24M584 116h8M432 124h24M656 124h8M120 132h8M440 132h16M592 132h8M656 132h8M120 140h8M600 140h8M656 140h8M120 148h8M112 156h16M608 156h8M648 156h8M112 164h16M616 164h40M112 172h16M632 172h16M112 180h16M112 188h16M280 188h32M120 196h8M280 196h8M312 196h8M120 204h8M280 204h8M320 204h8M104 212h8M120 212h8M328 212h8M104 220h24M272 220h8M104 228h24M272 228h8M336 228h8M104 236h16M272 236h8M344 236h8M104 244h16M112 252h8M352 252h8M112 260h8M280 268h8M360 268h8M280 276h8M368 276h8M280 284h8M368 284h8M376 300h8M288 308h8M-16 316h16M288 316h8M384 316h8M-16 324h8M0 324h8M0 332h8M392 332h8M296 340h8M8 348h8M400 348h8M400 356h8M304 364h8M-16 372h8M408 372h8M-16 380h8M16 380h8M312 380h8M16 388h8M656 388h16M16 396h8M416 396h8M664 396h8M16 404h8M320 404h8M416 404h8M648 404h8M-8 412h8M16 412h8M648 412h8M672 412h8M16 420h8M328 420h8M672 420h8M0 428h24M424 428h8M8 436h8M336 436h8M424 436h8M640 444h8M344 452h8M640 452h8M432 460h8M640 460h8M352 468h8M432 468h8M640 468h8M160 476h16M360 476h8M432 476h8M640 476h8M152 484h8M176 484h8M640 484h8M152 492h8M184 492h8M368 492h8M640 492h8M152 500h8M192 500h8M376 500h8M640 500h8M152 508h8M384 508h8M640 508h8M152 516h8M200 516h8M440 516h8M640 516h8M152 524h8M392 524h8M440 524h8M640 524h8M152 532h8M400 532h8M440 532h8M152 540h8M208 540h8M400 540h8M152 548h8M672 556h8M216 564h8M448 564h8M648 564h8M672 564h8M448 572h8M648 572h8M160 580h8M408 580h8M448 580h8M656 580h16M160 588h8M224 588h8M408 588h8M656 588h8M408 596h8M168 612h8M232 620h8M232 628h8M176 636h8M176 644h8M416 644h8M184 660h8M240 668h8M424 668h8M448 668h8M192 676h8M240 676h8M424 676h8M448 676h8M192 684h8M240 684h8M432 684h16M200 692h8M240 692h8M240 700h8"/><path stroke="#101010" d="M592 -20h8M552 -12h8M600 -12h8M552 -4h8M608 -4h8M552 4h8M552 12h8M616 12h8M552 20h8M624 28h8M560 44h8M632 44h8M560 52h8M432 68h8M640 68h8M432 76h8M568 76h8M432 84h16M440 92h8M576 92h8M440 100h8M648 100h8M584 108h8M648 108h8M648 116h8M592 124h8M648 124h8M648 132h8M648 140h8M608 148h8M648 148h8M616 156h32M112 196h8M288 196h24M112 204h8M288 204h32M112 212h8M280 212h16M320 212h8M280 220h8M328 220h8M280 228h8M280 236h8M336 236h8M280 244h8M344 244h8M280 252h8M280 260h8M352 260h8M360 276h8M288 292h8M288 300h8M376 308h8M-8 324h8M296 324h8M384 324h8M-16 332h16M296 332h8M-16 340h8M0 340h8M392 340h8M-16 348h8M304 348h8M-16 356h8M8 356h8M304 356h8M-16 364h8M8 364h8M400 364h8M312 372h8M408 380h8M408 388h8M-8 396h8M320 396h8M656 396h8M-8 404h8M656 404h16M0 412h8M328 412h8M416 412h8M0 420h16M648 420h8M336 428h8M672 428h8M672 436h8M344 444h8M424 444h8M424 452h8M352 460h8M360 468h8M160 484h16M368 484h8M432 484h8M160 492h8M176 492h8M376 492h8M432 492h8M184 500h8M384 500h8M432 500h8M192 508h8M392 508h8M432 508h8M392 516h8M200 524h8M400 524h8M440 540h8M672 540h8M208 548h8M408 548h8M440 548h8M648 548h8M672 548h8M408 556h8M648 556h8M160 564h8M408 564h8M664 564h8M160 572h8M216 572h8M408 572h8M656 572h16M448 588h8M224 596h8M448 596h8M168 604h8M448 604h8M448 612h8M448 620h8M176 628h8M416 628h8M232 636h8M416 636h8M448 636h8M232 644h8M448 644h8M184 652h8M448 652h8M424 660h8M448 660h8M432 676h16M200 684h8M208 700h8M232 700h8"/><path stroke="#121212" d="M560 -20h32M560 -12h8M592 -12h8M560 -4h8M600 -4h8M608 4h8M560 20h8M616 20h8M560 28h8M560 36h8M624 36h8M632 52h8M568 60h8M568 68h8M640 76h8M576 84h8M640 84h8M584 100h8M592 116h8M600 132h8M608 140h8M640 140h8M616 148h32M296 212h24M288 220h8M312 220h16M288 228h8M328 228h8M288 236h8M288 244h8M336 244h8M344 252h8M288 260h8M288 268h8M352 268h8M288 276h8M288 284h8M360 284h8M368 292h8M296 308h8M296 316h8M384 332h8M-8 340h8M304 340h8M-8 348h16M392 348h8M312 364h8M8 372h8M400 372h8M-8 380h8M8 380h8M320 380h8M-8 388h8M8 388h8M320 388h8M8 396h8M408 396h8M0 404h16M328 404h8M8 412h8M656 412h16M336 420h8M416 420h8M664 420h8M416 428h8M648 428h8M344 436h8M648 436h8M648 444h8M672 444h8M352 452h8M672 452h8M360 460h8M424 460h8M672 460h8M424 468h8M368 476h8M424 476h8M376 484h8M424 484h8M168 492h8M384 492h8M424 492h8M160 500h24M392 500h8M160 508h8M184 508h8M400 508h8M672 508h8M160 516h8M192 516h8M400 516h8M432 516h8M672 516h8M160 524h8M408 524h8M432 524h8M672 524h8M160 532h8M200 532h8M408 532h8M432 532h8M648 532h8M672 532h8M160 540h8M408 540h8M648 540h8M160 548h8M160 556h8M208 556h8M440 556h8M656 556h16M440 564h8M656 564h8M216 580h8M168 588h8M168 596h8M224 604h8M416 604h8M224 612h8M416 612h8M176 620h8M416 620h8M448 628h8M184 644h8M232 652h8M424 652h8M232 660h8M192 668h8M232 668h8M432 668h16M200 676h8M232 676h8M232 684h8M208 692h8M232 692h8M216 700h16"/><path stroke="#141414" d="M568 -12h24M568 -4h8M560 4h8M600 4h8M560 12h8M608 12h8M616 28h8M624 44h8M568 52h8M632 60h8M632 68h8M576 76h8M584 92h8M640 92h8M640 100h8M592 108h8M640 108h8M640 116h8M600 124h8M640 124h8M608 132h8M640 132h8M616 140h24M296 220h16M296 228h32M296 236h8M328 236h8M288 252h8M336 252h8M344 260h8M352 276h8M296 292h8M296 300h8M368 300h8M376 316h8M304 324h8M304 332h8M384 340h8M-8 356h16M312 356h8M392 356h8M-8 364h16M-8 372h16M320 372h8M0 380h8M400 380h8M0 388h8M0 396h8M328 396h8M408 404h8M336 412h8M408 412h8M656 420h8M344 428h8M656 428h16M416 436h8M664 436h8M352 444h8M416 444h8M416 452h8M648 452h8M416 460h8M648 460h8M368 468h8M648 468h8M672 468h8M376 476h8M672 476h8M384 484h8M672 484h8M392 492h8M672 492h8M400 500h8M424 500h8M648 500h8M672 500h8M168 508h16M408 508h24M648 508h8M184 516h8M408 516h24M648 516h8M192 524h8M416 524h16M648 524h8M416 532h16M200 540h8M416 540h8M432 540h8M664 540h8M416 548h8M432 548h8M656 548h16M416 556h8M208 564h8M416 564h8M416 572h8M440 572h8M168 580h8M416 580h8M440 580h8M216 588h8M416 588h8M440 588h8M416 596h8M176 612h8M224 620h8M224 628h8M184 636h8M424 636h8M424 644h8M440 652h8M192 660h8M432 660h16M200 668h8M208 684h24M216 692h16"/><path stroke="#161616" d="M576 -4h24M568 4h8M568 12h8M568 20h8M608 20h8M568 28h8M568 36h8M616 36h8M568 44h8M624 52h8M576 68h8M632 76h8M584 84h8M632 84h8M592 100h8M600 116h8M632 116h8M608 124h8M632 124h8M616 132h24M304 236h24M296 244h8M328 244h8M296 252h8M296 260h8M336 260h8M296 268h8M344 268h8M296 276h8M296 284h8M352 284h8M360 292h8M368 308h8M304 316h8M376 324h8M312 340h8M312 348h8M384 348h8M320 364h8M392 364h8M328 388h8M400 388h8M336 404h8M344 420h8M408 420h8M408 428h8M352 436h8M656 436h8M656 444h16M360 452h8M664 452h8M368 460h8M376 468h8M416 468h8M384 476h8M416 476h8M648 476h8M392 484h8M408 484h16M648 484h8M400 492h24M648 492h8M408 500h16M168 516h16M168 524h8M184 524h8M664 524h8M168 532h8M192 532h8M656 532h16M168 540h8M424 540h8M656 540h8M168 548h8M200 548h8M424 548h8M168 556h8M424 556h16M168 564h8M424 564h16M168 572h8M208 572h8M432 572h8M216 596h8M440 596h8M176 604h8M216 604h8M440 604h8M440 612h8M424 620h8M440 620h8M184 628h8M424 628h8M440 628h8M224 636h8M440 636h8M224 644h8M432 644h16M192 652h8M224 652h8M432 652h8M200 660h8M224 660h8M224 668h8M208 676h24"/><path stroke="#181818" d="M576 4h24M576 12h8M600 12h8M608 28h8M616 44h8M576 52h8M576 60h8M624 60h8M624 68h8M584 76h8M592 92h8M632 92h8M632 100h8M600 108h8M632 108h8M608 116h8M624 116h8M616 124h16M304 244h24M304 252h32M304 260h8M336 268h8M344 276h8M304 292h8M304 300h8M360 300h8M304 308h8M368 316h8M312 332h8M376 332h8M320 356h8M384 356h8M392 372h8M328 380h8M336 396h8M400 396h8M400 404h8M344 412h8M352 428h8M408 436h8M360 444h8M408 444h8M368 452h8M408 452h8M656 452h8M376 460h8M408 460h8M656 460h16M384 468h8M408 468h8M656 468h16M392 476h24M656 476h16M400 484h8M664 484h8M664 492h8M656 500h16M656 508h16M656 516h16M176 524h8M656 524h8M176 532h16M192 540h8M200 556h8M424 572h8M208 580h8M424 580h16M176 588h8M424 588h16M176 596h8M424 596h16M424 604h8M216 612h8M424 612h8M184 620h8M216 620h8M432 620h8M432 628h8M432 636h8M192 644h8M200 652h8M216 660h8M208 668h16"/><path stroke="#1a1a1a" d="M584 12h16M576 20h32M576 28h8M600 28h8M576 36h8M608 36h8M576 44h8M616 52h8M584 68h8M624 76h8M592 84h8M624 84h8M624 92h8M600 100h8M624 100h8M608 108h24M616 116h8M312 260h24M304 268h16M328 268h8M304 276h8M336 276h8M304 284h8M344 284h8M352 292h8M360 308h8M312 316h8M312 324h8M368 324h8M376 340h8M320 348h8M384 364h8M328 372h8M392 380h8M336 388h8M392 388h8M344 404h8M400 412h8M352 420h8M400 420h8M400 428h8M360 436h8M368 444h8M376 452h8M400 452h8M384 460h24M392 468h16M656 484h8M656 492h8M176 540h16M176 548h24M176 556h8M192 556h8M176 564h8M200 564h8M176 572h8M200 572h8M176 580h8M208 588h8M208 596h8M184 604h8M432 604h8M184 612h8M432 612h8M192 628h8M216 628h8M192 636h8M216 636h8M200 644h8M216 644h8M208 652h16M208 660h8"/><path stroke="#1c1c1c" d="M584 28h16M584 36h8M600 36h8M584 44h8M608 44h8M584 52h8M608 52h8M584 60h8M616 60h8M592 68h8M616 68h8M592 76h8M616 76h8M600 84h8M616 84h8M600 92h24M608 100h16M320 268h8M312 276h24M312 284h8M336 284h8M312 292h8M344 292h8M312 300h8M352 300h8M312 308h8M360 316h8M320 332h8M368 332h8M320 340h8M376 348h8M328 356h8M328 364h8M384 372h8M336 380h8M344 396h8M392 396h8M392 404h8M352 412h8M360 428h8M368 436h8M400 436h8M376 444h8M400 444h8M384 452h16M184 556h8M184 564h16M200 580h8M184 588h8M184 596h8M208 604h8M208 612h8M192 620h8M208 620h8M208 628h8M200 636h16M208 644h8"/><path stroke="#1e1e1e" d="M592 36h8M592 44h16M592 52h16M592 60h24M600 68h16M600 76h16M608 84h8M320 284h16M320 292h8M336 292h8M320 300h8M344 300h8M320 308h8M352 308h8M320 316h8M320 324h8M360 324h8M368 340h8M328 348h8M376 356h8M376 364h8M336 372h8M384 380h8M344 388h8M384 388h8M352 404h8M392 412h8M360 420h8M392 420h8M368 428h8M392 428h8M376 436h24M384 444h16M184 572h16M184 580h16M192 588h16M192 596h16M192 604h16M192 612h16M200 620h8M200 628h8"/><path stroke="#202020" d="M328 292h8M328 300h16M328 308h24M328 316h8M352 316h8M328 324h8M352 324h8M328 332h8M360 332h8M328 340h8M368 348h8M336 356h8M336 364h8M376 372h8M344 380h8M352 396h8M384 396h8M384 404h8M360 412h8M384 412h8M368 420h8M384 420h8M376 428h16"/><path stroke="#222222" d="M336 316h16M336 324h16M336 332h8M352 332h8M336 340h8M360 340h8M336 348h8M360 348h8M368 356h8M344 364h8M368 364h8M344 372h8M376 380h8M352 388h8M376 388h8M360 396h8M376 396h8M360 404h24M368 412h16M376 420h8"/><path stroke="#242424" d="M344 332h8M344 340h16M344 348h16M344 356h24M352 364h16M352 372h24M352 380h24M360 388h16M368 396h8"/></g></g>
<g fill="none" stroke="#fff" stroke-width="1.3" stroke-linejoin="round">
<path d="M476.7 372.8C478.3 378.8 479.9 384.8 481.2 390.9C482.6 396.9 483.9 403.1 485.0 409.2C486.2 415.3 487.2 421.5 488.1 427.6C489.0 433.8 489.7 439.9 490.3 446.0C490.9 452.2 491.3 458.3 491.6 464.3C491.8 470.3 491.9 476.3 491.8 482.1C491.7 488.0 491.4 493.7 490.8 499.2C490.3 504.7 489.5 510.1 488.5 515.2C487.5 520.3 486.3 525.2 484.9 529.8C483.5 534.4 481.8 538.7 479.9 542.8C478.0 546.8 476.0 550.5 473.7 553.9C471.4 557.3 469.0 560.4 466.4 563.1C463.8 565.9 461.0 568.3 458.0 570.4C455.1 572.5 452.0 574.3 448.8 575.6C445.6 577.0 442.2 578.0 438.7 578.6C435.2 579.2 431.5 579.3 427.8 579.1C424.1 578.8 420.2 578.1 416.3 577.0C412.4 575.9 408.4 574.3 404.4 572.3C400.4 570.4 396.4 567.9 392.3 565.2C388.3 562.5 384.2 559.4 380.2 556.1C376.2 552.8 372.2 549.1 368.3 545.2C364.4 541.4 360.5 537.3 356.8 533.0C353.0 528.7 349.2 524.2 345.6 519.5C341.9 514.9 338.4 510.0 334.9 505.1C331.4 500.1 328.1 495.0 324.8 489.7C321.5 484.5 318.4 479.1 315.3 473.7C312.3 468.2 309.4 462.7 306.5 457.1C303.7 451.5 301.0 445.9 298.4 440.2C295.9 434.6 293.4 428.9 291.0 423.2C288.6 417.5 286.3 411.8 284.1 406.2C281.9 400.5 279.8 394.8 277.8 389.2C275.7 383.5 273.8 377.8 271.9 372.2C270.0 366.5 268.3 360.9 266.6 355.2C264.9 349.5 263.3 343.9 261.8 338.2C260.2 332.5 258.8 326.9 257.5 321.2C256.1 315.5 254.8 309.8 253.6 304.1C252.4 298.4 251.2 292.8 250.0 287.0C248.9 281.2 247.8 275.4 246.7 269.5C245.6 263.6 244.5 257.7 243.5 251.6C242.4 245.6 241.4 239.4 240.6 233.2C239.7 227.0 238.8 220.7 238.2 214.5C237.6 208.2 237.1 201.9 236.8 195.7C236.6 189.6 236.5 183.4 236.8 177.6C237.0 171.7 237.5 166.0 238.3 160.6C239.1 155.2 240.2 150.1 241.5 145.3C242.8 140.5 244.4 136.0 246.2 131.9C248.1 127.8 250.1 124.0 252.4 120.5C254.6 117.1 257.1 113.9 259.7 111.1C262.3 108.3 265.2 105.8 268.1 103.7C271.1 101.6 274.2 99.9 277.5 98.5C280.7 97.2 284.2 96.3 287.7 95.9C291.3 95.4 295.0 95.5 298.8 96.0C302.6 96.6 306.6 97.6 310.6 99.2C314.6 100.7 318.7 102.8 322.7 105.3C326.8 107.7 330.9 110.7 334.9 113.8C339.0 117.0 343.0 120.6 347.0 124.2C350.9 127.9 354.8 131.8 358.6 135.8C362.5 139.8 366.2 143.9 369.9 148.1C373.6 152.3 377.2 156.5 380.8 160.9C384.4 165.3 387.9 169.7 391.3 174.3C394.8 178.9 398.2 183.7 401.4 188.5C404.7 193.4 407.9 198.5 411.0 203.7C414.1 208.8 417.0 214.2 419.9 219.7C422.7 225.1 425.4 230.7 428.0 236.3C430.6 241.9 433.0 247.6 435.4 253.3C437.7 258.9 439.9 264.6 442.1 270.3C444.3 275.9 446.3 281.5 448.4 287.1C450.5 292.7 452.5 298.3 454.5 303.9C456.4 309.5 458.4 315.0 460.4 320.7C462.3 326.3 464.3 331.9 466.1 337.7C468.0 343.4 469.9 349.2 471.7 355.0C473.4 360.9 475.1 366.8 476.7 372.8Z"/>
<path d="M463.6 367.4C464.8 372.7 465.9 377.9 467.0 383.2C468.1 388.4 469.1 393.7 470.1 399.1C471.0 404.4 472.0 409.8 472.8 415.3C473.6 420.7 474.4 426.1 475.0 431.6C475.6 437.0 476.1 442.5 476.5 447.9C476.8 453.3 477.0 458.8 477.0 464.0C477.0 469.3 476.9 474.5 476.5 479.4C476.1 484.4 475.5 489.3 474.7 493.9C473.9 498.5 472.8 502.9 471.6 507.1C470.4 511.3 469.0 515.2 467.3 518.9C465.7 522.5 463.9 525.9 461.9 529.0C459.9 532.1 457.8 534.9 455.5 537.4C453.1 539.9 450.6 542.1 448.0 544.0C445.4 545.8 442.5 547.4 439.6 548.5C436.7 549.6 433.6 550.4 430.4 550.8C427.2 551.2 423.9 551.1 420.5 550.7C417.1 550.3 413.6 549.5 410.1 548.4C406.6 547.2 403.0 545.6 399.4 543.8C395.7 541.9 392.1 539.7 388.5 537.2C384.9 534.8 381.2 532.0 377.6 529.0C374.1 526.1 370.5 522.8 367.0 519.4C363.5 516.0 360.0 512.3 356.6 508.5C353.2 504.7 349.8 500.7 346.6 496.6C343.3 492.5 340.1 488.2 337.0 483.8C333.9 479.3 330.8 474.8 327.9 470.1C325.0 465.5 322.1 460.7 319.4 455.9C316.6 451.1 314.0 446.2 311.4 441.2C308.9 436.3 306.4 431.3 304.0 426.4C301.7 421.4 299.4 416.4 297.2 411.3C295.0 406.3 292.8 401.3 290.8 396.3C288.8 391.2 286.8 386.2 284.9 381.1C283.0 376.1 281.2 371.0 279.5 366.0C277.8 360.9 276.2 355.8 274.6 350.7C273.1 345.6 271.7 340.6 270.3 335.5C268.9 330.4 267.7 325.3 266.4 320.3C265.2 315.2 264.1 310.1 263.0 305.0C261.9 299.9 260.9 294.9 259.8 289.7C258.8 284.6 257.8 279.4 256.9 274.2C255.9 269.0 255.0 263.7 254.1 258.3C253.2 253.0 252.4 247.5 251.7 242.1C250.9 236.7 250.2 231.1 249.7 225.6C249.2 220.2 248.8 214.6 248.6 209.2C248.5 203.8 248.4 198.4 248.6 193.2C248.8 188.1 249.2 182.9 249.9 178.1C250.5 173.3 251.4 168.6 252.4 164.2C253.5 159.8 254.9 155.6 256.4 151.8C257.9 147.9 259.6 144.3 261.6 141.1C263.5 137.8 265.7 134.9 268.0 132.3C270.3 129.8 272.8 127.5 275.5 125.7C278.2 123.9 281.1 122.5 284.1 121.5C287.1 120.5 290.3 120.0 293.6 119.9C296.9 119.8 300.4 120.2 303.8 121.0C307.3 121.8 311.0 123.1 314.6 124.7C318.2 126.3 321.9 128.4 325.5 130.7C329.2 133.1 332.8 135.8 336.4 138.6C340.0 141.5 343.6 144.6 347.2 147.8C350.7 151.1 354.1 154.5 357.6 158.0C361.0 161.4 364.3 165.0 367.6 168.7C370.9 172.3 374.2 176.0 377.4 179.9C380.6 183.7 383.7 187.6 386.8 191.6C389.9 195.6 393.0 199.6 395.9 203.9C398.9 208.1 401.8 212.4 404.7 216.8C407.5 221.3 410.3 225.8 413.0 230.5C415.7 235.1 418.3 239.9 420.8 244.7C423.3 249.6 425.7 254.5 428.1 259.5C430.4 264.4 432.6 269.5 434.7 274.6C436.9 279.6 438.9 284.7 440.8 289.9C442.8 295.0 444.6 300.1 446.4 305.3C448.1 310.5 449.8 315.6 451.3 320.8C452.9 326.0 454.4 331.1 455.9 336.3C457.3 341.5 458.6 346.7 459.9 351.9C461.2 357.0 462.4 362.2 463.6 367.4Z"/>
<path d="M455.3 365.3C456.6 370.2 457.8 375.1 458.9 380.0C460.0 385.0 461.0 389.9 462.0 394.9C463.0 400.0 463.9 405.0 464.7 410.1C465.5 415.1 466.3 420.3 466.9 425.3C467.4 430.4 467.9 435.5 468.2 440.5C468.6 445.5 468.7 450.5 468.7 455.4C468.7 460.2 468.6 465.0 468.2 469.6C467.8 474.3 467.3 478.8 466.5 483.0C465.8 487.3 464.8 491.4 463.7 495.2C462.6 499.0 461.2 502.7 459.7 506.0C458.2 509.4 456.5 512.5 454.7 515.3C452.8 518.1 450.8 520.7 448.6 523.0C446.4 525.2 444.1 527.2 441.6 528.8C439.2 530.4 436.5 531.7 433.8 532.7C431.1 533.7 428.2 534.3 425.2 534.6C422.3 534.8 419.2 534.7 416.0 534.3C412.9 533.8 409.6 533.0 406.4 531.9C403.1 530.7 399.7 529.2 396.4 527.4C393.1 525.7 389.7 523.6 386.3 521.2C383.0 518.9 379.6 516.3 376.3 513.5C373.0 510.7 369.7 507.7 366.5 504.5C363.2 501.4 360.0 498.0 356.9 494.5C353.7 491.0 350.6 487.4 347.6 483.6C344.6 479.9 341.6 475.9 338.7 471.9C335.8 467.9 333.0 463.8 330.2 459.5C327.5 455.3 324.8 450.9 322.2 446.5C319.6 442.1 317.2 437.6 314.7 433.1C312.3 428.6 310.0 424.0 307.8 419.3C305.5 414.7 303.4 410.1 301.3 405.4C299.2 400.8 297.2 396.1 295.3 391.4C293.3 386.8 291.5 382.1 289.7 377.4C287.9 372.7 286.2 368.0 284.5 363.2C282.9 358.5 281.3 353.8 279.8 349.0C278.3 344.3 276.9 339.5 275.6 334.8C274.3 330.0 273.1 325.3 271.9 320.5C270.8 315.8 269.7 311.0 268.8 306.3C267.8 301.5 266.8 296.8 266.0 292.1C265.1 287.3 264.3 282.6 263.5 277.8C262.7 273.0 262.0 268.2 261.3 263.3C260.6 258.5 260.0 253.6 259.4 248.7C258.8 243.7 258.3 238.7 257.9 233.7C257.4 228.8 257.1 223.7 256.9 218.8C256.7 213.8 256.6 208.8 256.8 204.0C256.9 199.2 257.2 194.4 257.7 189.8C258.2 185.3 258.9 180.8 259.8 176.7C260.7 172.6 261.9 168.6 263.2 165.0C264.5 161.3 266.1 157.9 267.9 154.9C269.6 151.9 271.6 149.2 273.8 146.8C275.9 144.5 278.3 142.4 280.7 140.8C283.2 139.2 285.9 137.9 288.7 137.0C291.5 136.1 294.4 135.6 297.5 135.5C300.5 135.4 303.7 135.7 306.9 136.4C310.1 137.1 313.4 138.2 316.7 139.6C320.1 141.0 323.5 142.8 326.8 144.8C330.2 146.9 333.6 149.3 337.0 151.9C340.3 154.4 343.7 157.3 347.0 160.3C350.3 163.3 353.5 166.5 356.7 169.8C359.9 173.1 363.0 176.5 366.1 180.0C369.2 183.5 372.2 187.1 375.2 190.8C378.1 194.5 381.1 198.2 383.9 202.1C386.8 205.9 389.6 209.9 392.3 213.9C395.0 217.9 397.7 222.1 400.3 226.3C402.9 230.5 405.4 234.8 407.9 239.2C410.3 243.5 412.7 248.0 414.9 252.5C417.2 257.0 419.4 261.6 421.5 266.2C423.6 270.8 425.6 275.5 427.5 280.1C429.4 284.8 431.3 289.4 433.0 294.1C434.8 298.8 436.5 303.5 438.2 308.2C439.8 312.9 441.4 317.6 442.9 322.3C444.5 327.0 445.9 331.8 447.4 336.5C448.8 341.3 450.2 346.0 451.5 350.8C452.8 355.6 454.1 360.4 455.3 365.3Z"/>
<path d="M449.1 362.8C450.2 367.4 451.3 371.9 452.3 376.5C453.3 381.1 454.3 385.7 455.1 390.4C456.0 395.0 456.9 399.7 457.7 404.4C458.4 409.1 459.1 413.9 459.7 418.6C460.2 423.3 460.7 428.1 461.0 432.7C461.3 437.4 461.5 442.0 461.5 446.5C461.5 451.0 461.3 455.5 461.0 459.7C460.6 464.0 460.1 468.2 459.4 472.1C458.7 476.1 457.9 479.8 456.8 483.4C455.8 487.0 454.6 490.4 453.2 493.6C451.9 496.7 450.4 499.7 448.7 502.4C447.0 505.1 445.2 507.6 443.2 509.9C441.3 512.1 439.2 514.0 436.9 515.7C434.6 517.3 432.2 518.6 429.7 519.6C427.2 520.5 424.5 521.1 421.7 521.4C418.9 521.6 416.0 521.4 413.0 520.9C410.1 520.3 407.0 519.4 403.9 518.2C400.8 516.9 397.6 515.3 394.5 513.4C391.3 511.6 388.1 509.3 385.0 507.0C381.8 504.7 378.7 502.0 375.6 499.3C372.5 496.6 369.5 493.7 366.5 490.8C363.4 487.8 360.5 484.7 357.5 481.4C354.6 478.2 351.7 474.9 348.9 471.5C346.1 468.0 343.3 464.5 340.6 460.8C337.9 457.2 335.2 453.4 332.7 449.5C330.1 445.6 327.6 441.6 325.1 437.5C322.7 433.4 320.4 429.2 318.1 425.0C315.9 420.8 313.7 416.5 311.6 412.2C309.5 407.9 307.5 403.5 305.5 399.2C303.6 394.9 301.7 390.5 299.9 386.2C298.1 381.8 296.3 377.4 294.6 373.1C292.9 368.7 291.2 364.3 289.6 359.9C288.0 355.5 286.5 351.1 285.0 346.7C283.5 342.3 282.1 337.8 280.8 333.4C279.5 328.9 278.3 324.4 277.2 320.0C276.1 315.5 275.0 311.0 274.0 306.5C273.1 302.1 272.2 297.6 271.4 293.2C270.5 288.7 269.8 284.2 269.1 279.8C268.3 275.3 267.7 270.8 267.0 266.2C266.4 261.7 265.8 257.1 265.3 252.5C264.8 248.0 264.3 243.3 263.9 238.7C263.6 234.1 263.2 229.4 263.1 224.8C262.9 220.2 262.9 215.5 263.0 211.1C263.1 206.6 263.4 202.2 263.9 198.0C264.4 193.7 265.0 189.6 265.9 185.8C266.8 182.0 267.8 178.3 269.1 175.0C270.4 171.6 271.8 168.5 273.5 165.7C275.1 162.9 277.0 160.4 278.9 158.2C280.9 156.0 283.1 154.1 285.4 152.6C287.8 151.1 290.2 149.9 292.8 149.1C295.4 148.3 298.2 147.8 301.0 147.7C303.8 147.6 306.8 147.9 309.8 148.5C312.8 149.1 315.9 150.1 319.0 151.4C322.1 152.7 325.2 154.4 328.4 156.3C331.6 158.2 334.7 160.5 337.9 162.9C341.0 165.3 344.2 168.0 347.2 170.8C350.3 173.6 353.4 176.6 356.4 179.7C359.3 182.8 362.3 186.0 365.2 189.3C368.1 192.6 370.9 196.0 373.7 199.5C376.5 203.0 379.2 206.6 381.9 210.2C384.5 213.8 387.2 217.6 389.7 221.4C392.3 225.2 394.8 229.1 397.2 233.0C399.6 237.0 402.0 241.0 404.2 245.1C406.5 249.2 408.7 253.3 410.9 257.5C413.0 261.7 415.1 266.0 417.1 270.2C419.1 274.5 421.0 278.8 422.8 283.2C424.7 287.5 426.5 291.8 428.2 296.2C429.9 300.6 431.5 305.0 433.1 309.4C434.7 313.8 436.2 318.2 437.6 322.6C439.1 327.0 440.5 331.5 441.8 335.9C443.1 340.4 444.4 344.8 445.6 349.3C446.8 353.8 448.0 358.3 449.1 362.8Z"/>
<path d="M430.2 356.9C431.1 360.4 431.9 363.9 432.7 367.4C433.4 371.0 434.2 374.5 434.8 378.0C435.4 381.6 436.0 385.1 436.5 388.6C437.0 392.1 437.4 395.7 437.7 399.2C438.1 402.7 438.3 406.2 438.5 409.6C438.6 413.0 438.7 416.5 438.7 419.8C438.7 423.2 438.5 426.5 438.3 429.7C438.1 432.9 437.7 436.1 437.2 439.1C436.8 442.1 436.2 445.1 435.5 447.9C434.8 450.7 433.9 453.4 432.9 455.8C432.0 458.3 430.9 460.6 429.6 462.7C428.4 464.8 427.0 466.7 425.5 468.4C424.0 470.1 422.4 471.5 420.6 472.7C418.9 473.8 417.0 474.7 415.0 475.3C413.1 476.0 411.0 476.3 408.8 476.4C406.7 476.5 404.4 476.3 402.2 475.8C399.9 475.3 397.5 474.6 395.1 473.6C392.8 472.6 390.3 471.3 387.9 469.9C385.5 468.5 383.1 466.8 380.6 464.9C378.2 463.1 375.8 461.1 373.4 458.9C371.1 456.8 368.7 454.4 366.4 452.0C364.1 449.6 361.8 447.1 359.6 444.5C357.4 441.9 355.2 439.3 353.0 436.6C350.9 433.8 348.8 431.1 346.7 428.2C344.7 425.4 342.7 422.5 340.7 419.6C338.7 416.7 336.8 413.8 334.9 410.8C333.0 407.9 331.2 404.8 329.4 401.8C327.6 398.7 325.8 395.6 324.1 392.5C322.4 389.3 320.7 386.2 319.1 382.9C317.5 379.7 315.9 376.4 314.4 373.1C312.9 369.8 311.5 366.5 310.1 363.1C308.7 359.8 307.4 356.4 306.2 353.0C304.9 349.6 303.7 346.1 302.6 342.7C301.5 339.3 300.5 335.9 299.5 332.4C298.5 329.0 297.6 325.6 296.7 322.1C295.9 318.7 295.1 315.3 294.4 311.9C293.6 308.5 292.9 305.1 292.3 301.7C291.6 298.2 291.0 294.8 290.5 291.4C289.9 288.0 289.4 284.6 288.9 281.1C288.5 277.7 288.1 274.3 287.7 270.8C287.3 267.4 287.0 263.9 286.8 260.5C286.5 257.0 286.4 253.5 286.3 250.1C286.2 246.7 286.2 243.3 286.3 239.9C286.4 236.6 286.6 233.3 287.0 230.1C287.3 226.9 287.7 223.8 288.4 220.8C289.0 217.9 289.7 215.0 290.6 212.4C291.5 209.8 292.5 207.3 293.7 205.1C294.9 202.9 296.3 200.9 297.8 199.2C299.3 197.5 300.9 196.1 302.7 194.9C304.4 193.8 306.3 192.9 308.3 192.3C310.3 191.7 312.4 191.4 314.6 191.4C316.8 191.4 319.1 191.7 321.4 192.3C323.7 192.8 326.1 193.7 328.5 194.8C330.9 195.8 333.3 197.1 335.8 198.7C338.2 200.2 340.6 201.9 343.1 203.8C345.5 205.7 347.9 207.8 350.3 210.0C352.6 212.2 355.0 214.5 357.3 217.0C359.6 219.4 361.9 222.0 364.1 224.6C366.3 227.2 368.5 229.9 370.6 232.7C372.7 235.4 374.8 238.3 376.8 241.1C378.8 244.0 380.8 246.9 382.7 249.8C384.6 252.8 386.5 255.7 388.4 258.7C390.2 261.7 392.0 264.8 393.7 267.8C395.5 270.9 397.2 274.0 398.8 277.1C400.5 280.2 402.1 283.3 403.7 286.5C405.3 289.7 406.8 292.9 408.3 296.1C409.8 299.3 411.3 302.6 412.7 305.8C414.1 309.1 415.4 312.4 416.8 315.8C418.1 319.1 419.3 322.4 420.6 325.8C421.8 329.2 423.0 332.6 424.1 336.1C425.2 339.5 426.3 342.9 427.3 346.4C428.3 349.9 429.3 353.4 430.2 356.9Z"/>
<path d="M409.0 349.0C409.6 351.4 410.0 353.7 410.5 356.1C410.9 358.4 411.3 360.7 411.6 363.1C411.9 365.4 412.2 367.7 412.5 370.0C412.7 372.3 413.0 374.6 413.1 376.9C413.3 379.2 413.4 381.4 413.5 383.7C413.5 385.9 413.6 388.2 413.5 390.4C413.5 392.6 413.4 394.8 413.3 397.0C413.2 399.1 413.0 401.3 412.7 403.3C412.4 405.4 412.1 407.4 411.7 409.4C411.2 411.3 410.8 413.2 410.2 415.0C409.6 416.8 408.9 418.5 408.2 420.0C407.4 421.6 406.5 423.0 405.6 424.3C404.7 425.6 403.6 426.7 402.5 427.6C401.4 428.5 400.1 429.3 398.8 429.8C397.5 430.4 396.1 430.7 394.7 430.8C393.2 431.0 391.7 430.9 390.1 430.6C388.6 430.3 386.9 429.8 385.3 429.1C383.7 428.4 382.0 427.5 380.3 426.5C378.6 425.4 376.9 424.1 375.2 422.8C373.6 421.4 371.9 419.9 370.2 418.2C368.6 416.6 367.0 414.9 365.4 413.1C363.8 411.3 362.3 409.4 360.8 407.4C359.3 405.5 357.8 403.5 356.4 401.6C355.0 399.6 353.6 397.6 352.2 395.6C350.9 393.5 349.6 391.5 348.3 389.5C347.0 387.5 345.8 385.5 344.5 383.5C343.3 381.5 342.1 379.5 340.9 377.4C339.7 375.4 338.6 373.4 337.4 371.3C336.3 369.3 335.2 367.2 334.1 365.2C333.0 363.1 331.9 361.0 330.8 358.8C329.8 356.7 328.7 354.5 327.7 352.3C326.7 350.2 325.7 347.9 324.8 345.7C323.9 343.4 323.0 341.2 322.1 338.9C321.2 336.6 320.4 334.2 319.6 331.9C318.9 329.6 318.1 327.2 317.4 324.9C316.7 322.5 316.1 320.1 315.5 317.7C314.9 315.4 314.3 313.0 313.8 310.6C313.3 308.2 312.8 305.8 312.4 303.4C312.0 301.0 311.6 298.6 311.2 296.2C310.9 293.8 310.6 291.4 310.4 289.1C310.1 286.7 309.9 284.3 309.8 281.9C309.6 279.6 309.5 277.2 309.5 274.9C309.5 272.6 309.5 270.3 309.7 268.0C309.8 265.8 310.0 263.6 310.3 261.5C310.6 259.4 310.9 257.3 311.4 255.4C311.9 253.4 312.4 251.6 313.1 249.9C313.8 248.2 314.5 246.6 315.4 245.2C316.3 243.8 317.2 242.5 318.3 241.4C319.3 240.4 320.5 239.5 321.7 238.8C322.9 238.1 324.3 237.5 325.6 237.2C327.0 236.9 328.5 236.8 330.0 236.8C331.5 236.9 333.0 237.1 334.6 237.5C336.2 237.9 337.8 238.5 339.4 239.3C341.1 240.0 342.7 240.9 344.3 241.9C346.0 242.9 347.6 244.1 349.3 245.3C350.9 246.5 352.6 247.9 354.2 249.3C355.8 250.8 357.4 252.3 358.9 253.9C360.5 255.4 362.0 257.1 363.6 258.8C365.1 260.5 366.6 262.2 368.0 264.0C369.5 265.8 370.9 267.6 372.4 269.5C373.8 271.4 375.2 273.3 376.5 275.2C377.9 277.2 379.2 279.2 380.5 281.2C381.8 283.2 383.1 285.2 384.4 287.3C385.6 289.4 386.8 291.5 388.0 293.6C389.2 295.8 390.4 297.9 391.5 300.1C392.6 302.3 393.7 304.6 394.8 306.8C395.8 309.1 396.8 311.4 397.8 313.7C398.8 316.0 399.7 318.3 400.6 320.6C401.5 323.0 402.3 325.3 403.1 327.7C403.9 330.1 404.7 332.4 405.4 334.8C406.1 337.2 406.7 339.5 407.3 341.9C408.0 344.3 408.5 346.6 409.0 349.0Z"/>
</g>
<ellipse cx="78" cy="552" rx="45.3" ry="111.1" transform="rotate(-19.8 78 552)" fill="#00ff00" stroke="#000" stroke-width="1.0"/>
</g>
<path d="M502.2 615.1H649.9" stroke="#fff" stroke-width="2.8" fill="none"/>
<text class="w b" transform="translate(576.4 646.9) scale(0.985 1.09)" style="font-size:25px" text-anchor="middle">0.2 pc</text>
<text class="w" x="33.4" y="52.7">BM549D</text>
<text class="w" x="33.4" y="86.3">2023-06-08</text>
<text class="w" x="644.5" y="52.7" text-anchor="end">22.22 GHz</text>
<text class="w" x="644.3" y="86.3" text-anchor="end" letter-spacing="-0.08">RMS = 0.11 mJy</text>
<path d="M0 7.3h20.6M678 7.3h-20.6M0 61.58h7.9M678 61.58h-7.9M0 115.86h7.9M678 115.86h-7.9M0 170.14h7.9M678 170.14h-7.9M0 224.42h7.9M678 224.42h-7.9M0 278.7h20.6M678 278.7h-20.6M0 332.98h7.9M678 332.98h-7.9M0 387.26h7.9M678 387.26h-7.9M0 441.54h7.9M678 441.54h-7.9M0 495.82h7.9M678 495.82h-7.9M0 550.1h20.6M678 550.1h-20.6M0 604.38h7.9M678 604.38h-7.9M0 658.66h7.9M678 658.66h-7.9M298.4 0v20.2M298.4 678.7v-20.2M634.4 0v7.9M634.4 678.7v-7.9" stroke="#fff" stroke-width="2.3" fill="none"/>
<rect x="0" y="0" width="678" height="678.7" fill="none" stroke="#000" stroke-width="2.1"/>
<text class="k" x="-9.1" y="14.8" text-anchor="end">65°33'54.338"</text>
<text class="k" x="-9.1" y="286.2" text-anchor="end">54.337"</text>
<text class="k" x="-9.1" y="557.6" text-anchor="end">54.336"</text>
<text class="k" y="705.8"><tspan x="210.2" letter-spacing="-1.2">19</tspan><tspan class="s" x="237.8" dy="-9.7">H</tspan><tspan x="251.8" dy="9.7">27</tspan><tspan class="s" x="280.6" dy="-9.7">M</tspan><tspan x="297.5" dy="9.7" letter-spacing="-0.6">19.540</tspan><tspan class="s" x="374.4" dy="-9.7">S</tspan></text>
<text class="k" x="339" y="745.9" text-anchor="middle">RA (J2000)</text>
<text class="k" transform="translate(-186.9 339.2) rotate(-90)" text-anchor="middle">DEC (J2000)</text>
<rect x="685" y="0" width="27" height="678.7" fill="url(#cb)"/>
<path d="M712 648.536h-7.8M712 618.371h-7.8M712 588.207h-7.8M712 558.042h-7.8M712 497.713h-7.8M712 467.549h-7.8M712 437.384h-7.8M712 407.22h-7.8M712 346.891h-7.8M712 316.727h-7.8M712 286.562h-7.8M712 256.398h-7.8M712 196.069h-7.8M712 165.904h-7.8M712 135.74h-7.8M712 105.576h-7.8M712 45.2467h-7.8M712 15.0822h-7.8" stroke="#000" stroke-width="1.6" fill="none"/>
<path d="M712 678.7h-17.6M712 527.878h-17.6M712 377.056h-17.6M712 226.233h-17.6M712 75.4111h-17.6" stroke="#000" stroke-width="2.1" fill="none"/>
<rect x="685" y="0" width="27" height="678.7" fill="none" stroke="#000" stroke-width="2.1"/>
<text class="k" x="720.7" y="687.6">0.0</text>
<text class="k" x="720.7" y="536.778">0.5</text>
<text class="k" x="720.7" y="385.956">1.0</text>
<text class="k" x="720.7" y="235.133">1.5</text>
<text class="k" x="720.7" y="84.3111">2.0</text>
<text class="k" transform="translate(772.3 339.2) rotate(90)" text-anchor="middle">mJy/beam</text>
</g>
<g transform="translate(1255.3 4.3)">
<g clip-path="url(#ax)">
<g filter="url(#pl)"><rect x="-24" y="-24" width="728" height="728" fill="#000000"/><g stroke-width="8.3" fill="none"><path stroke="#020202" d="M-8 -20h48M320 -20h24M552 -20h16M672 -20h16M-24 -12h48M320 -12h32M552 -12h8M672 -12h16M-24 -4h32M328 -4h24M552 -4h8M672 -4h16M-24 4h16M328 4h32M552 4h8M672 4h16M328 12h32M552 12h8M672 12h16M336 20h24M552 20h8M672 20h16M336 28h32M552 28h8M672 28h16M336 36h32M544 36h16M680 36h8M336 44h40M544 44h16M680 44h8M336 52h40M544 52h16M680 52h8M344 60h40M544 60h16M680 60h8M352 68h40M544 68h16M680 68h8M360 76h48M544 76h16M680 76h8M376 84h40M544 84h16M680 84h8M392 92h40M544 92h16M680 92h8M408 100h32M544 100h16M680 100h8M416 108h32M544 108h16M680 108h8M424 116h32M544 116h16M680 116h8M440 124h24M544 124h16M680 124h8M440 132h24M544 132h16M680 132h8M448 140h24M544 140h16M680 140h8M456 148h24M544 148h16M680 148h8M456 156h24M544 156h16M680 156h8M456 164h24M544 164h16M680 164h8M464 172h16M544 172h16M680 172h8M464 180h16M544 180h16M680 180h8M464 188h16M544 188h16M680 188h8M464 196h16M552 196h8M672 196h16M456 204h24M552 204h8M672 204h16M456 212h24M552 212h8M672 212h16M456 220h16M552 220h8M672 220h16M448 228h24M552 228h8M672 228h16M192 236h16M448 236h16M552 236h8M672 236h16M160 244h64M448 244h16M552 244h16M672 244h16M120 252h104M456 252h8M552 252h16M672 252h8M40 260h144M208 260h16M456 260h8M552 260h16M672 260h8M32 268h120M208 268h16M456 268h8M552 268h16M672 268h8M32 276h72M216 276h8M456 276h8M552 276h16M664 276h16M32 284h16M216 284h8M464 284h8M552 284h16M664 284h16M32 292h8M216 292h8M464 292h8M552 292h16M664 292h16M32 300h8M216 300h8M464 300h8M552 300h24M664 300h16M24 308h8M216 308h8M464 308h16M552 308h24M664 308h16M-24 316h8M24 316h8M216 316h8M472 316h16M552 316h24M656 316h16M-24 324h8M24 324h8M216 324h8M472 324h104M656 324h16M-24 332h16M16 332h8M216 332h8M480 332h96M656 332h16M-16 340h32M216 340h8M480 340h96M656 340h16M-8 348h16M216 348h8M520 348h56M656 348h16M224 356h8M544 356h24M648 356h24M224 364h8M648 364h16M224 372h8M648 372h16M224 380h8M640 380h24M640 388h24M232 396h8M632 396h32M64 404h32M232 404h8M632 404h24M56 412h48M232 412h16M624 412h32M56 420h16M96 420h16M240 420h8M624 420h32M48 428h16M104 428h8M240 428h8M616 428h40M48 436h8M104 436h16M248 436h8M616 436h40M48 444h8M112 444h8M248 444h8M616 444h32M40 452h16M112 452h8M248 452h16M608 452h40M40 460h8M112 460h16M248 460h16M608 460h40M40 468h8M120 468h8M248 468h16M608 468h40M40 476h8M120 476h8M248 476h24M608 476h48M40 484h8M120 484h8M240 484h32M616 484h56M40 492h8M120 492h8M240 492h24M640 492h48M40 500h8M120 500h8M240 500h24M656 500h40M40 508h8M120 508h8M232 508h32M672 508h32M40 516h8M112 516h16M232 516h32M688 516h16M40 524h16M112 524h8M232 524h32M696 524h8M48 532h8M112 532h8M232 532h32M48 540h16M104 540h16M232 540h32M48 548h16M96 548h16M232 548h32M56 556h24M88 556h24M232 556h32M64 564h40M232 564h40M72 572h24M240 572h32M240 580h40M248 588h32M248 596h40M256 604h40M264 612h48M272 620h56M280 628h80M416 628h8M296 636h152M312 644h144M344 652h120M696 652h8M432 660h32M688 660h16M440 668h32M680 668h24M448 676h32M672 676h24M456 684h32M656 684h32M464 692h32M640 692h32M480 700h40M624 700h40"/><path stroke="#040404" d="M40 -20h24M304 -20h16M568 -20h8M664 -20h8M24 -12h24M312 -12h8M560 -12h8M664 -12h8M8 -4h32M312 -4h16M560 -4h8M664 -4h8M-8 4h32M312 4h16M560 4h8M664 4h8M-24 12h24M320 12h8M560 12h8M664 12h8M-24 20h8M320 20h16M560 20h8M320 28h16M560 28h8M320 36h16M560 36h8M672 36h8M320 44h16M560 44h8M672 44h8M320 52h16M560 52h8M672 52h8M320 60h24M560 60h8M672 60h8M328 68h24M560 68h8M672 68h8M336 76h24M560 76h8M672 76h8M344 84h32M560 84h8M672 84h8M360 92h32M560 92h8M672 92h8M384 100h24M560 100h8M672 100h8M400 108h16M560 108h8M672 108h8M408 116h16M560 116h8M672 116h8M424 124h16M560 124h8M672 124h8M432 132h8M560 132h8M672 132h8M432 140h16M560 140h8M672 140h8M440 148h16M560 148h8M672 148h8M448 156h8M560 156h8M672 156h8M448 164h8M560 164h8M672 164h8M448 172h16M560 172h8M672 172h8M448 180h16M560 180h8M672 180h8M448 188h16M560 188h8M672 188h8M448 196h16M560 196h8M448 204h8M560 204h8M448 212h8M560 212h8M664 212h8M440 220h16M560 220h8M664 220h8M176 228h48M440 228h8M560 228h8M664 228h8M144 236h48M208 236h16M440 236h8M560 236h8M664 236h8M96 244h64M224 244h8M568 244h8M664 244h8M32 252h88M224 252h8M448 252h8M568 252h8M664 252h8M32 260h8M224 260h8M448 260h8M568 260h8M664 260h8M224 268h8M448 268h8M568 268h8M664 268h8M568 276h8M656 276h8M24 284h8M456 284h8M568 284h8M656 284h8M24 292h8M456 292h8M568 292h8M656 292h8M24 300h8M576 300h8M656 300h8M-24 308h8M576 308h8M656 308h8M16 316h8M464 316h8M576 316h8M648 316h8M-16 324h8M16 324h8M464 324h8M576 324h8M648 324h8M-8 332h24M224 332h8M472 332h8M576 332h16M648 332h8M224 340h8M472 340h8M576 340h16M640 340h16M224 348h8M480 348h40M576 348h16M640 348h16M488 356h56M568 356h24M632 356h16M520 364h80M632 364h16M536 372h72M624 372h24M232 380h8M552 380h88M232 388h8M560 388h80M576 396h56M240 404h8M576 404h56M584 412h40M72 420h24M248 420h8M584 420h40M64 428h16M88 428h16M248 428h8M584 428h32M56 436h8M96 436h8M592 436h24M56 444h8M104 444h8M256 444h8M584 444h32M104 452h8M584 452h24M48 460h8M264 460h8M584 460h24M48 468h8M112 468h8M264 468h8M584 468h24M48 476h8M112 476h8M272 476h8M584 476h24M48 484h8M112 484h8M272 484h8M584 484h32M48 492h8M112 492h8M264 492h16M592 492h48M48 500h8M112 500h8M264 500h16M624 500h32M48 508h8M112 508h8M264 508h16M648 508h24M48 516h8M264 516h16M672 516h16M104 524h8M264 524h16M680 524h16M56 532h8M104 532h8M264 532h16M688 532h16M64 540h8M96 540h8M264 540h16M696 540h8M64 548h32M264 548h16M80 556h8M264 556h16M272 564h16M272 572h16M280 580h16M280 588h24M288 596h24M296 604h32M312 612h40M328 620h128M360 628h56M424 628h40M448 636h16M696 636h8M456 644h16M688 644h16M464 652h8M680 652h16M464 660h16M672 660h16M472 668h16M664 668h16M480 676h16M656 676h16M488 684h16M640 684h16M496 692h24M616 692h24M520 700h40M576 700h48"/><path stroke="#060606" d="M64 -20h8M296 -20h8M656 -20h8M48 -12h16M296 -12h16M568 -12h8M656 -12h8M40 -4h16M304 -4h8M568 -4h8M24 4h16M304 4h8M568 4h8M0 12h24M312 12h8M568 12h8M-16 20h24M312 20h8M568 20h8M664 20h8M-24 28h8M312 28h8M568 28h8M664 28h8M312 36h8M664 36h8M312 44h8M664 44h8M312 52h8M664 52h8M312 60h8M664 60h8M312 68h16M664 68h8M312 76h24M664 76h8M320 84h24M664 84h8M336 92h24M664 92h8M360 100h24M664 100h8M384 108h16M664 108h8M400 116h8M664 116h8M408 124h16M664 124h8M416 132h16M664 132h8M424 140h8M664 140h8M432 148h8M664 148h8M432 156h16M664 156h8M440 164h8M664 164h8M440 172h8M664 172h8M440 180h8M664 180h8M440 188h8M664 188h8M440 196h8M568 196h8M664 196h8M440 204h8M568 204h8M664 204h8M200 212h16M440 212h8M568 212h8M176 220h56M568 220h8M144 228h32M224 228h8M568 228h8M-24 236h8M96 236h48M224 236h8M568 236h8M656 236h8M-24 244h8M24 244h72M440 244h8M656 244h8M-24 252h8M24 252h8M440 252h8M656 252h8M-24 260h8M24 260h8M576 260h8M656 260h8M-24 268h8M24 268h8M576 268h8M656 268h8M-24 276h8M24 276h8M224 276h8M448 276h8M576 276h8M-24 284h8M224 284h8M576 284h8M648 284h8M-24 292h8M224 292h8M576 292h8M648 292h8M-24 300h8M224 300h8M456 300h8M584 300h8M648 300h8M16 308h8M224 308h8M584 308h8M648 308h8M-16 316h8M224 316h8M584 316h8M640 316h8M-8 324h8M8 324h8M224 324h8M584 324h16M640 324h8M464 332h8M592 332h8M632 332h16M464 340h8M592 340h16M624 340h16M472 348h8M592 348h48M472 356h16M592 356h40M232 364h8M480 364h40M600 364h32M232 372h8M512 372h24M608 372h16M528 380h24M544 388h16M240 396h8M552 396h24M560 404h16M248 412h8M568 412h16M568 420h16M80 428h8M568 428h16M64 436h16M88 436h8M256 436h8M576 436h16M96 444h8M576 444h8M56 452h8M264 452h8M576 452h8M56 460h8M104 460h8M272 460h8M576 460h8M104 468h8M272 468h8M576 468h8M576 476h8M280 484h8M576 484h8M280 492h8M576 492h16M280 500h8M576 500h48M104 508h8M280 508h8M616 508h32M56 516h8M104 516h8M280 516h8M648 516h24M56 524h8M280 524h8M672 524h8M64 532h8M96 532h8M280 532h8M680 532h8M72 540h24M280 540h8M688 540h8M280 548h16M696 548h8M280 556h16M696 556h8M288 564h16M288 572h16M296 580h16M304 588h24M312 596h24M328 604h40M416 604h40M352 612h112M456 620h16M696 620h8M464 628h8M696 628h8M464 636h16M688 636h8M472 644h8M680 644h8M472 652h16M672 652h8M480 660h8M664 660h8M488 668h8M656 668h8M496 676h8M640 676h16M504 684h16M624 684h16M520 692h24M592 692h24M560 700h16"/><path stroke="#080808" d="M72 -20h16M288 -20h8M576 -20h8M64 -12h8M576 -12h8M56 -4h8M296 -4h8M656 -4h8M40 4h16M296 4h8M656 4h8M24 12h16M304 12h8M656 12h8M8 20h16M304 20h8M656 20h8M-16 28h16M304 28h8M656 28h8M-24 36h8M304 36h8M568 36h8M304 44h8M568 44h8M304 52h8M568 52h8M304 60h8M568 60h8M304 68h8M568 68h8M304 76h8M568 76h8M304 84h16M568 84h8M312 92h24M568 92h8M336 100h24M568 100h8M368 108h16M568 108h8M384 116h16M568 116h8M400 124h8M568 124h8M408 132h8M568 132h8M416 140h8M568 140h8M424 148h8M568 148h8M568 156h8M432 164h8M568 164h8M432 172h8M568 172h8M432 180h8M568 180h8M432 188h8M568 188h8M432 196h8M656 196h8M208 204h16M432 204h8M656 204h8M176 212h24M216 212h16M432 212h8M656 212h8M152 220h24M432 220h8M656 220h8M-24 228h8M112 228h32M232 228h8M432 228h8M576 228h8M656 228h8M24 236h72M232 236h8M432 236h8M576 236h8M232 244h8M576 244h8M576 252h8M440 260h8M648 260h8M648 268h8M584 276h8M648 276h8M448 284h8M584 284h8M584 292h8M640 292h8M16 300h8M592 300h8M640 300h8M-16 308h8M456 308h8M592 308h8M632 308h16M8 316h8M456 316h8M592 316h16M632 316h8M0 324h8M600 324h8M624 324h16M600 332h32M608 340h16M464 348h8M232 356h8M472 364h8M480 372h32M504 380h24M240 388h8M528 388h16M536 396h16M544 404h16M552 412h16M560 420h8M256 428h8M560 428h8M80 436h8M560 436h16M64 444h8M88 444h8M264 444h8M560 444h16M96 452h8M560 452h16M560 460h16M56 468h8M280 468h8M560 468h16M56 476h8M104 476h8M280 476h8M560 476h16M56 484h8M104 484h8M288 484h8M560 484h16M56 492h8M104 492h8M288 492h8M560 492h16M56 500h8M104 500h8M288 500h8M560 500h16M56 508h8M288 508h8M568 508h48M288 516h8M632 516h16M64 524h8M96 524h8M288 524h8M656 524h16M72 532h24M288 532h8M672 532h8M288 540h16M680 540h8M296 548h8M688 548h8M296 556h8M688 556h8M304 564h8M696 564h8M304 572h16M696 572h8M312 580h16M696 580h8M328 588h16M696 588h8M336 596h32M424 596h40M696 596h8M368 604h48M456 604h16M696 604h8M464 612h16M696 612h8M472 620h8M688 620h8M472 628h8M688 628h8M680 636h8M480 644h8M672 644h8M488 652h8M664 652h8M488 660h8M656 660h8M496 668h8M648 668h8M504 676h16M632 676h8M520 684h16M608 684h16M544 692h48"/><path stroke="#0a0a0a" d="M88 -20h8M280 -20h8M648 -20h8M72 -12h8M288 -12h8M648 -12h8M64 -4h8M288 -4h8M576 -4h8M56 4h8M576 4h8M40 12h8M296 12h8M576 12h8M24 20h8M296 20h8M576 20h8M0 28h16M296 28h8M-16 36h16M296 36h8M656 36h8M-24 44h8M296 44h8M656 44h8M296 52h8M656 52h8M296 60h8M656 60h8M296 68h8M656 68h8M296 76h8M656 76h8M296 84h8M656 84h8M304 92h8M312 100h24M344 108h24M376 116h8M392 124h8M400 132h8M408 140h8M656 140h8M416 148h8M656 148h8M424 156h8M656 156h8M424 164h8M656 164h8M656 172h8M656 180h8M656 188h8M208 196h16M184 204h24M224 204h8M576 204h8M160 212h16M232 212h8M576 212h8M-24 220h16M128 220h24M232 220h8M576 220h8M-16 228h8M16 228h96M-16 236h8M16 236h8M648 236h8M-16 244h8M16 244h8M432 244h8M648 244h8M-16 252h8M16 252h8M232 252h8M584 252h8M648 252h8M16 260h8M232 260h8M584 260h8M232 268h8M584 268h8M640 268h8M640 276h8M592 284h8M640 284h8M16 292h8M448 292h8M592 292h8M632 292h8M600 300h8M632 300h8M600 308h16M624 308h8M-8 316h16M608 316h24M456 324h8M608 324h16M232 340h8M232 348h8M464 356h8M472 372h8M240 380h8M480 380h24M504 388h24M520 396h16M248 404h8M536 404h8M544 412h8M256 420h8M544 420h16M552 428h8M264 436h8M552 436h8M72 444h16M552 444h8M64 452h8M272 452h8M552 452h8M64 460h8M96 460h8M552 460h8M552 468h8M288 476h8M552 476h8M552 484h8M552 492h8M296 500h8M552 500h8M96 508h8M296 508h8M552 508h16M64 516h8M96 516h8M296 516h8M560 516h72M72 524h8M88 524h8M296 524h8M640 524h16M296 532h8M664 532h8M304 540h8M672 540h8M304 548h8M680 548h8M304 556h16M312 564h8M688 564h8M320 572h16M328 580h16M344 588h24M432 588h48M368 596h56M464 596h16M472 604h8M688 604h8M688 612h8M480 620h8M480 628h8M680 628h8M480 636h8M672 636h8M488 644h8M496 660h8M648 660h8M504 668h8M640 668h8M520 676h8M624 676h8M536 684h24M584 684h24"/><path stroke="#0c0c0c" d="M272 -20h8M584 -20h8M80 -12h8M280 -12h8M584 -12h8M72 -4h8M648 -4h8M64 4h8M288 4h8M648 4h8M48 12h16M288 12h8M648 12h8M32 20h16M288 20h8M16 28h16M288 28h8M576 28h8M0 36h8M288 36h8M576 36h8M-16 44h8M288 44h8M576 44h8M-24 52h8M288 52h8M576 52h8M288 60h8M576 60h8M288 68h8M288 76h8M288 84h8M288 92h16M656 92h8M296 100h16M656 100h8M320 108h24M656 108h8M360 116h16M656 116h8M384 124h8M656 124h8M392 132h8M656 132h8M408 148h8M416 156h8M576 164h8M424 172h8M576 172h8M424 180h8M576 180h8M424 188h8M576 188h8M192 196h16M224 196h16M424 196h8M576 196h8M168 204h16M232 204h8M424 204h8M-24 212h16M144 212h16M424 212h8M648 212h8M-8 220h8M96 220h32M424 220h8M648 220h8M-8 228h24M648 228h8M-8 236h24M584 236h8M8 244h8M584 244h8M640 252h8M-16 260h8M640 260h8M16 268h8M440 268h8M592 268h8M16 276h8M232 276h8M592 276h8M632 276h8M16 284h8M232 284h8M600 284h8M632 284h8M232 292h8M600 292h8M624 292h8M-16 300h8M448 300h8M608 300h24M8 308h8M616 308h8M232 316h8M232 324h8M232 332h8M456 332h8M464 364h8M240 372h8M472 380h8M488 388h16M248 396h8M512 396h8M520 404h16M528 412h16M536 420h8M544 428h8M544 436h8M544 444h8M72 452h24M280 460h8M64 468h8M96 468h8M544 468h8M96 476h8M544 476h8M96 484h8M296 484h8M544 484h8M96 492h8M296 492h8M544 492h8M96 500h8M544 500h8M64 508h8M304 508h8M544 508h8M88 516h8M304 516h8M544 516h16M80 524h8M304 524h8M632 524h8M304 532h8M656 532h8M312 540h8M664 540h8M312 548h8M672 548h8M320 556h8M680 556h8M320 564h16M336 572h8M688 572h8M344 580h16M440 580h48M688 580h8M368 588h64M480 588h8M688 588h8M480 596h8M688 596h8M480 604h8M480 612h8M680 620h8M488 628h8M488 636h8M664 644h8M496 652h8M656 652h8M504 660h8M512 668h8M632 668h8M528 676h8M608 676h16M560 684h24"/><path stroke="#0e0e0e" d="M96 -20h8M640 -20h8M88 -12h8M272 -12h8M640 -12h8M80 -4h8M280 -4h8M584 -4h8M72 4h8M280 4h8M584 4h8M64 12h8M584 12h8M48 20h8M648 20h8M32 28h8M648 28h8M8 36h16M648 36h8M-8 44h16M280 44h8M648 44h8M-16 52h8M280 52h8M280 60h8M280 68h8M576 68h8M280 76h8M576 76h8M280 84h8M576 84h8M280 92h8M576 92h8M280 100h16M576 100h8M288 108h32M576 108h8M344 116h16M576 116h8M376 124h8M576 124h8M384 132h8M576 132h8M400 140h8M576 140h8M576 148h8M576 156h8M416 164h8M416 172h8M648 180h8M200 188h40M648 188h8M176 196h16M648 196h8M-24 204h8M152 204h16M240 204h8M648 204h8M-8 212h8M120 212h24M240 212h8M584 212h8M0 220h96M240 220h8M584 220h8M240 228h8M424 228h8M584 228h8M240 236h8M640 236h8M-8 244h16M640 244h8M8 252h8M432 252h8M592 252h8M592 260h8M-16 268h8M632 268h8M-16 276h8M440 276h8M600 276h8M-16 284h8M608 284h24M-16 292h8M608 292h16M232 300h8M-8 308h8M232 308h8M456 340h8M456 348h8M240 364h8M464 372h8M472 388h16M488 396h24M512 404h8M256 412h8M520 412h8M528 420h8M264 428h8M536 428h8M536 436h8M272 444h8M544 452h8M72 460h8M88 460h8M544 460h8M288 468h8M64 476h8M64 484h8M536 484h8M64 492h8M304 492h8M536 492h8M64 500h8M304 500h8M536 500h8M88 508h8M528 508h16M72 516h16M312 516h8M528 516h16M312 524h8M528 524h104M312 532h8M528 532h16M640 532h16M320 540h8M656 540h8M320 548h8M328 556h8M672 556h8M336 564h8M480 564h16M680 564h8M344 572h16M448 572h48M680 572h8M360 580h32M408 580h32M488 580h8M488 588h8M488 596h8M488 604h8M680 604h8M488 612h8M680 612h8M488 620h8M672 628h8M664 636h8M496 644h8M656 644h8M504 652h8M648 652h8M512 660h8M640 660h8M520 668h8M624 668h8M536 676h16M592 676h16"/><path stroke="#101010" d="M104 -20h8M264 -20h8M592 -20h8M96 -12h8M592 -12h8M88 -4h8M272 -4h8M640 -4h8M80 4h8M640 4h8M280 12h8M56 20h8M280 20h8M584 20h8M40 28h8M280 28h8M584 28h8M24 36h8M280 36h8M584 36h8M8 44h8M-8 52h8M648 52h8M-24 60h8M272 60h8M648 60h8M272 68h8M648 68h8M272 76h8M648 76h8M272 84h8M648 84h8M272 92h8M648 92h8M272 100h8M280 108h8M288 116h56M360 124h16M648 132h8M392 140h8M648 140h8M400 148h8M648 148h8M408 156h8M648 156h8M648 164h8M648 172h8M208 180h32M416 180h8M184 188h16M240 188h8M416 188h8M584 188h8M168 196h8M240 196h8M416 196h8M584 196h8M-16 204h16M136 204h16M416 204h8M584 204h8M0 212h32M96 212h24M640 220h8M640 228h8M424 236h8M592 236h8M240 244h8M592 244h8M-8 252h8M632 252h8M600 260h8M632 260h8M600 268h8M624 268h8M608 276h24M8 300h8M0 308h8M448 308h8M456 356h8M464 380h8M248 388h8M480 396h8M496 404h16M512 412h8M520 420h8M528 428h8M528 436h8M536 444h8M280 452h8M536 452h8M80 460h8M536 460h8M72 468h8M88 468h8M536 468h8M296 476h8M536 476h8M528 492h8M88 500h8M528 500h8M72 508h16M312 508h8M520 516h8M320 524h8M520 524h8M320 532h8M512 532h16M544 532h24M632 532h8M504 540h40M648 540h8M328 548h8M496 548h24M664 548h8M336 556h8M480 556h32M344 564h8M456 564h24M496 564h16M672 564h8M360 572h16M432 572h16M496 572h8M392 580h16M496 580h8M680 580h8M496 588h8M680 588h8M680 596h8M672 620h8M496 628h8M496 636h8M504 644h8M632 660h8M528 668h8M616 668h8M552 676h40"/><path stroke="#121212" d="M256 -20h8M632 -20h8M264 -12h8M632 -12h8M592 -4h8M272 4h8M592 4h8M72 12h8M640 12h8M64 20h8M640 20h8M48 28h8M32 36h8M272 36h8M16 44h8M272 44h8M584 44h8M0 52h8M272 52h8M584 52h8M-16 60h8M584 60h8M-24 68h8M264 68h8M264 76h8M264 84h8M264 92h8M264 100h8M648 100h8M264 108h16M648 108h8M272 116h16M648 116h8M352 124h8M648 124h8M376 132h8M384 140h8M400 156h8M408 164h8M584 164h8M216 172h32M408 172h8M584 172h8M192 180h16M240 180h8M584 180h8M176 188h8M-24 196h16M152 196h16M0 204h8M128 204h8M640 204h8M32 212h64M416 212h8M640 212h8M592 220h8M592 228h8M632 236h8M600 244h8M632 244h8M0 252h8M240 252h8M600 252h8M-8 260h8M8 260h8M432 260h8M608 260h24M608 268h16M440 284h8M8 292h8M-8 300h8M448 316h8M240 356h8M456 364h8M464 388h8M472 396h8M480 404h16M504 412h8M512 420h8M520 428h8M272 436h8M528 444h8M528 452h8M288 460h8M528 460h8M80 468h8M528 468h8M72 476h8M88 476h8M528 476h8M72 484h8M88 484h8M304 484h8M528 484h8M72 492h8M88 492h8M72 500h16M312 500h8M520 500h8M520 508h8M320 516h8M512 516h8M512 524h8M328 532h8M504 532h8M568 532h24M616 532h16M328 540h8M496 540h8M544 540h8M336 548h8M480 548h16M520 548h16M656 548h8M344 556h8M464 556h16M512 556h16M664 556h8M352 564h16M440 564h16M512 564h8M376 572h56M504 572h8M672 572h8M504 580h8M496 596h8M496 604h8M496 612h8M672 612h8M496 620h8M664 628h8M504 636h8M656 636h8M648 644h8M512 652h8M640 652h8M520 660h8M624 660h8M536 668h8M608 668h8"/><path stroke="#141414" d="M112 -20h8M600 -20h8M624 -20h8M104 -12h8M600 -12h8M96 -4h8M264 -4h8M632 -4h8M88 4h8M80 12h8M272 12h8M592 12h8M72 20h8M272 20h8M592 20h8M56 28h8M272 28h8M640 28h8M40 36h8M640 36h8M24 44h8M640 44h8M8 52h8M264 52h8M-8 60h8M264 60h8M584 68h8M584 76h8M256 84h8M584 84h8M256 92h8M584 92h8M256 100h8M584 100h8M256 108h8M584 108h8M256 116h16M584 116h8M264 124h88M584 124h8M368 132h8M584 132h8M584 140h8M392 148h8M584 148h8M584 156h8M216 164h40M200 172h16M248 172h8M184 180h8M248 180h8M408 180h8M640 180h8M-24 188h8M168 188h8M248 188h8M408 188h8M640 188h8M-8 196h8M144 196h8M248 196h8M640 196h8M8 204h24M104 204h24M248 204h8M592 204h8M248 212h8M592 212h8M248 220h8M416 220h8M632 228h8M600 236h8M424 244h8M624 244h8M608 252h24M0 260h8M240 260h8M8 268h8M8 276h8M8 284h8M0 300h8M448 324h8M240 348h8M456 372h8M248 380h8M464 396h8M256 404h8M472 404h8M488 412h16M264 420h8M504 420h8M512 428h8M520 436h8M520 444h8M80 476h8M80 484h8M520 484h8M80 492h8M312 492h8M520 492h8M320 508h8M512 508h8M504 516h8M328 524h8M504 524h8M496 532h8M592 532h24M336 540h8M480 540h16M552 540h8M640 540h8M344 548h8M472 548h8M536 548h8M352 556h8M456 556h8M368 564h16M424 564h16M512 572h8M672 580h8M504 588h8M672 588h8M672 596h8M672 604h8M664 620h8M504 628h8M512 644h8M520 652h8M632 652h8M528 660h8M544 668h16M592 668h16"/><path stroke="#161616" d="M120 -20h8M248 -20h8M608 -20h16M256 -12h8M608 -12h8M624 -12h8M600 -4h8M264 4h8M600 4h8M632 4h8M88 12h8M632 12h8M64 28h8M592 28h8M48 36h8M264 36h8M592 36h8M32 44h8M264 44h8M16 52h8M640 52h8M0 60h8M256 60h8M640 60h8M-16 68h8M256 68h8M640 68h8M-24 76h8M256 76h8M248 116h8M248 124h16M248 132h48M360 132h8M248 140h24M376 140h8M232 148h32M384 148h8M640 148h8M224 156h40M392 156h8M640 156h8M208 164h8M256 164h8M400 164h8M640 164h8M192 172h8M640 172h8M176 180h8M-16 188h8M160 188h8M592 188h8M0 196h8M136 196h8M408 196h8M592 196h8M32 204h72M632 212h8M600 220h8M632 220h8M248 228h8M416 228h8M600 228h8M608 236h8M624 236h8M608 244h16M-8 268h8M240 268h8M432 268h8M-8 292h8M440 292h8M240 340h8M456 380h8M464 404h8M480 412h8M496 420h8M504 428h8M512 436h8M280 444h8M520 452h8M520 460h8M296 468h8M520 468h8M304 476h8M520 476h8M512 492h8M320 500h8M512 500h8M504 508h8M328 516h8M336 524h8M496 524h8M336 532h8M488 532h8M344 540h8M472 540h8M560 540h16M632 540h8M352 548h8M464 548h8M544 548h8M648 548h8M360 556h16M440 556h16M528 556h8M656 556h8M384 564h40M520 564h8M664 564h8M512 580h8M504 596h8M504 604h8M504 612h8M664 612h8M504 620h8M656 628h8M648 636h8M640 644h8M536 660h8M616 660h8M560 668h32"/><path stroke="#181818" d="M112 -12h8M616 -12h8M104 -4h8M608 -4h24M96 4h8M624 4h8M264 12h8M600 12h8M80 20h8M264 20h8M632 20h8M72 28h8M264 28h8M632 28h8M56 36h8M40 44h8M592 44h8M256 52h8M592 52h8M8 60h8M592 60h8M-8 68h8M-16 76h8M248 76h8M640 76h8M248 84h8M640 84h8M248 92h8M640 92h8M248 100h8M640 100h8M248 108h8M640 108h8M640 116h8M240 124h8M640 124h8M240 132h8M296 132h16M344 132h16M640 132h8M232 140h16M272 140h16M368 140h8M640 140h8M224 148h8M264 148h8M216 156h8M264 156h8M200 164h8M592 164h8M184 172h8M256 172h8M400 172h8M592 172h8M-24 180h8M168 180h8M256 180h8M592 180h8M-8 188h8M152 188h8M256 188h8M8 196h16M120 196h16M256 196h8M632 196h8M408 204h8M632 204h8M600 212h8M624 220h8M608 228h24M248 236h8M616 236h8M424 252h8M0 268h8M-8 276h8M240 276h8M-8 284h8M240 284h8M0 292h8M240 332h8M448 332h8M248 372h8M456 388h8M256 396h8M472 412h8M488 420h8M496 428h8M504 436h8M512 444h8M512 452h8M512 460h8M512 468h8M512 476h8M312 484h8M512 484h8M504 500h8M328 508h8M336 516h8M496 516h8M488 524h8M344 532h8M480 532h8M352 540h8M464 540h8M576 540h8M616 540h16M360 548h8M456 548h8M552 548h8M640 548h8M376 556h8M424 556h16M536 556h8M528 564h8M520 572h8M664 572h8M512 588h8M664 604h8M512 636h8M520 644h8M528 652h8M624 652h8M544 660h8M608 660h8"/><path stroke="#1a1a1a" d="M128 -20h8M240 -20h8M248 -12h8M256 -4h8M608 4h16M96 12h8M624 12h8M88 20h8M600 20h8M600 28h8M64 36h8M632 36h8M48 44h8M256 44h8M632 44h8M24 52h8M248 60h8M0 68h8M248 68h8M592 68h8M592 76h8M-24 84h8M592 84h8M240 92h8M592 92h8M240 100h8M240 108h8M240 116h8M232 132h8M312 132h32M592 132h8M224 140h8M288 140h8M592 140h8M216 148h8M272 148h8M376 148h8M592 148h8M208 156h8M384 156h8M592 156h8M192 164h8M264 164h8M392 164h8M-24 172h8M-16 180h8M160 180h8M400 180h8M632 180h8M0 188h8M136 188h16M400 188h8M632 188h8M24 196h16M104 196h16M600 196h8M256 204h8M600 204h8M408 212h8M608 212h8M624 212h8M608 220h16M416 236h8M0 276h8M432 276h8M0 284h8M240 292h8M240 300h8M440 300h8M240 308h8M240 316h8M240 324h8M448 340h8M456 396h8M264 412h8M464 412h8M472 420h16M272 428h8M488 428h8M496 436h8M504 444h8M288 452h8M320 492h8M504 492h8M328 500h8M496 508h8M488 516h8M344 524h8M480 524h8M352 532h8M472 532h8M360 540h8M584 540h32M368 548h8M440 548h16M560 548h8M384 556h40M544 556h8M648 556h8M656 564h8M664 580h8M664 588h8M512 596h8M664 596h8M656 620h8M512 628h8M632 644h8M600 660h8"/><path stroke="#1c1c1c" d="M120 -12h8M112 -4h8M104 4h8M256 4h8M256 12h8M608 12h16M608 20h8M624 20h8M80 28h8M256 28h8M624 28h8M72 36h8M256 36h8M600 36h8M600 44h8M32 52h8M248 52h8M632 52h8M16 60h8M632 60h8M240 68h8M632 68h8M-8 76h8M240 76h8M-16 84h8M240 84h8M-24 92h8M592 100h8M232 108h8M592 108h8M232 116h8M592 116h8M232 124h8M592 124h8M224 132h8M216 140h8M296 140h8M360 140h8M208 148h8M280 148h8M200 156h8M272 156h8M632 156h8M632 164h8M176 172h8M264 172h8M392 172h8M632 172h8M-8 180h8M152 180h8M264 180h8M600 180h8M8 188h8M128 188h8M600 188h8M40 196h64M624 196h8M608 204h8M624 204h8M256 212h8M616 212h8M408 220h8M248 244h8M448 348h8M248 364h8M456 404h8M480 428h8M496 444h8M504 452h8M296 460h8M504 460h8M504 468h8M504 476h8M504 484h8M496 500h8M336 508h8M488 508h8M344 516h8M464 532h8M448 540h16M376 548h16M432 548h8M568 548h8M632 548h8M536 564h8M528 572h8M656 572h8M520 580h8M512 604h8M512 612h8M656 612h8M512 620h8M648 628h8M520 636h8M640 636h8M536 652h8M616 652h8M552 660h16M592 660h8"/><path stroke="#1e1e1e" d="M136 -20h8M232 -20h8M248 -4h8M104 12h8M96 20h8M256 20h8M616 20h8M88 28h8M608 28h16M624 36h8M56 44h8M248 44h8M624 44h8M40 52h8M600 52h8M24 60h8M240 60h8M600 60h8M8 68h8M0 76h8M632 76h8M232 84h8M632 84h8M232 92h8M632 92h8M-24 100h8M232 100h8M632 100h8M632 108h8M632 116h8M224 124h8M632 124h8M632 132h8M304 140h16M344 140h16M632 140h8M288 148h8M368 148h8M632 148h8M192 156h8M280 156h8M-24 164h8M184 164h8M272 164h8M600 164h8M-16 172h8M168 172h8M600 172h8M0 180h8M144 180h8M624 180h8M16 188h16M120 188h8M264 188h8M608 188h8M624 188h8M400 196h8M608 196h16M616 204h8M248 252h8M424 260h8M440 308h8M448 356h8M448 364h8M256 388h8M456 412h8M464 420h8M472 428h8M280 436h8M488 436h8M496 452h8M304 468h8M312 476h8M496 484h8M496 492h8M480 516h8M352 524h8M472 524h8M360 532h8M456 532h8M368 540h16M440 540h8M392 548h40M576 548h8M624 548h8M552 556h8M640 556h8M648 564h8M656 580h8M520 588h8M656 604h8M528 644h8M568 660h24"/><path stroke="#202020" d="M128 -12h8M240 -12h8M120 -4h8M112 4h8M248 4h8M80 36h8M248 36h8M608 36h16M64 44h8M608 44h16M48 52h8M240 52h8M624 52h8M32 60h8M624 60h8M16 68h8M232 68h8M600 68h8M232 76h8M600 76h8M-8 84h8M600 84h8M-16 92h8M600 92h8M224 108h8M224 116h8M216 132h8M600 132h8M208 140h8M320 140h24M600 140h8M200 148h8M296 148h8M600 148h8M-24 156h8M376 156h8M600 156h8M-16 164h8M176 164h8M384 164h8M624 164h8M-8 172h8M160 172h8M272 172h8M624 172h8M8 180h8M136 180h8M392 180h8M608 180h16M32 188h16M104 188h16M616 188h8M400 204h8M256 220h8M416 244h8M432 284h8M448 372h8M464 428h8M480 436h8M488 444h8M496 460h8M496 468h8M496 476h8M320 484h8M328 492h8M336 500h8M488 500h8M344 508h8M480 508h8M352 516h8M472 516h8M360 524h8M464 524h8M368 532h8M384 540h8M432 540h8M584 548h8M616 548h8M544 564h8M528 580h8M656 588h8M520 596h8M656 596h8M648 620h8M520 628h8M632 636h8M624 644h8M544 652h8M608 652h8"/><path stroke="#222222" d="M144 -20h8M224 -20h8M248 12h8M104 20h8M248 20h8M96 28h8M248 28h8M88 36h8M72 44h8M56 52h8M608 52h16M232 60h8M608 60h8M624 68h8M8 76h8M624 76h8M224 84h8M624 84h8M224 92h8M-16 100h8M224 100h8M600 100h8M-24 108h8M600 108h8M-24 116h8M216 116h8M600 116h8M216 124h8M600 124h8M208 132h8M624 140h8M-24 148h8M192 148h8M360 148h8M624 148h8M184 156h8M288 156h8M608 156h8M624 156h8M168 164h8M280 164h8M608 164h16M0 172h8M152 172h8M608 172h16M16 180h8M128 180h8M48 188h56M392 188h8M264 196h8M256 228h8M408 228h8M248 260h8M440 316h8M248 356h8M448 380h8M448 388h8M264 404h8M272 420h8M456 420h8M472 436h8M288 444h8M480 444h8M488 452h8M488 460h8M488 484h8M488 492h8M480 500h8M456 524h8M376 532h8M440 532h16M392 540h40M592 548h24M560 556h8M632 556h8M536 572h8M648 572h8M520 604h8M520 612h8M520 620h8M640 628h8M528 636h8M536 644h8M552 652h8M600 652h8"/><path stroke="#242424" d="M152 -20h8M136 -12h8M232 -12h8M128 -4h8M240 -4h8M120 4h8M112 12h8M80 44h8M240 44h8M40 60h8M616 60h8M24 68h8M224 68h8M608 68h16M224 76h8M608 76h16M0 84h8M608 84h8M-8 92h8M608 92h8M624 92h8M216 100h8M624 100h8M216 108h8M624 108h8M624 116h8M-24 124h8M208 124h8M624 124h8M-24 132h8M608 132h8M624 132h8M-24 140h8M200 140h8M608 140h8M304 148h8M352 148h8M608 148h16M-16 156h8M176 156h8M368 156h8M616 156h8M-8 164h8M376 164h8M8 172h8M144 172h8M384 172h8M24 180h8M120 180h8M272 180h8M264 204h8M400 212h8M248 348h8M256 380h8M448 396h8M448 404h8M456 428h8M464 436h8M472 444h8M480 452h8M488 468h8M488 476h8M480 492h8M344 500h8M352 508h8M472 508h8M360 516h8M464 516h8M368 524h8M448 524h8M384 532h8M432 532h8M568 556h8M624 556h8M552 564h8M640 564h8M648 580h8M528 588h8M648 612h8M616 644h8M560 652h8M592 652h8"/><path stroke="#262626" d="M216 -20h8M240 4h8M112 20h8M104 28h8M96 36h8M240 36h8M64 52h8M232 52h8M48 60h8M224 60h8M32 68h8M16 76h8M8 84h8M216 84h8M616 84h8M216 92h8M616 92h8M-8 100h8M608 100h16M-16 108h8M608 108h16M-16 116h8M208 116h8M608 116h16M608 124h16M200 132h8M616 132h8M192 140h8M616 140h8M-16 148h8M184 148h8M312 148h8M344 148h8M-8 156h8M296 156h8M0 164h8M160 164h8M280 172h8M32 180h8M112 180h8M392 196h8M248 268h8M424 268h8M432 292h8M440 324h8M448 412h8M456 436h8M464 444h8M296 452h8M472 452h8M480 460h8M480 468h8M480 476h8M328 484h8M480 484h8M336 492h8M472 500h8M464 508h8M368 516h8M456 516h8M376 524h8M440 524h8M392 532h40M576 556h8M544 572h8M536 580h8M648 588h8M528 596h8M648 596h8M648 604h8M640 620h8M528 628h8M536 636h8M624 636h8M544 644h8M568 652h24"/><path stroke="#282828" d="M160 -20h8M208 -20h8M144 -12h8M224 -12h8M232 -4h8M120 12h8M240 12h8M240 20h8M240 28h8M104 36h8M88 44h8M232 44h8M72 52h8M56 60h8M216 68h8M216 76h8M0 92h8M208 100h8M208 108h8M-16 124h8M200 124h8M-16 132h8M-16 140h8M320 148h24M168 156h8M360 156h8M152 164h8M288 164h8M16 172h8M136 172h8M40 180h24M96 180h16M384 180h8M272 188h8M264 212h8M256 236h8M408 236h8M416 252h8M248 276h8M440 332h8M248 340h8M448 420h8M280 428h8M304 460h8M472 460h8M312 468h8M320 476h8M472 492h8M360 508h8M448 516h8M384 524h8M432 524h8M584 556h8M616 556h8M560 564h8M632 564h8M640 572h8M528 604h8M528 612h8M528 620h8M632 628h8M608 644h8"/><path stroke="#2a2a2a" d="M168 -20h8M200 -20h8M136 -4h8M128 4h8M120 20h8M112 28h8M232 36h8M96 44h8M80 52h8M224 52h8M216 60h8M40 68h8M24 76h8M16 84h8M208 84h8M208 92h8M0 100h8M-8 108h8M200 116h8M192 132h8M184 140h8M-8 148h8M176 148h8M0 156h8M304 156h8M8 164h8M368 164h8M24 172h8M128 172h8M376 172h8M64 180h32M400 220h8M256 372h8M264 396h8M272 412h8M448 428h8M456 444h8M464 452h8M464 460h8M472 468h8M472 476h8M472 484h8M352 500h8M464 500h8M456 508h8M376 516h8M440 516h8M392 524h40M592 556h24M536 588h8M640 612h8M536 628h8M552 644h8M600 644h8"/><path stroke="#2c2c2c" d="M176 -20h24M152 -12h8M216 -12h8M232 4h8M128 12h8M232 28h8M112 36h8M224 44h8M88 52h8M64 60h8M48 68h8M208 68h8M32 76h8M208 76h8M8 92h8M200 100h8M200 108h8M-8 116h8M-8 124h8M192 124h8M-8 132h8M-8 140h8M160 156h8M352 156h8M16 164h8M144 164h8M296 164h8M32 172h8M120 172h8M280 180h8M384 188h8M272 196h8M392 204h8M256 244h8M424 276h8M248 284h8M432 300h8M248 332h8M440 340h8M448 436h8M456 452h8M464 468h8M464 476h8M464 484h8M344 492h8M464 492h8M456 500h8M368 508h8M448 508h8M384 516h16M432 516h8M568 564h8M624 564h8M552 572h8M544 580h8M640 580h8M640 604h8M632 620h8M624 628h8M544 636h8M616 636h8M560 644h8M592 644h8"/><path stroke="#2e2e2e" d="M144 -4h8M224 -4h8M136 4h8M232 12h8M232 20h8M120 28h8M104 44h8M216 52h8M72 60h8M208 60h8M200 76h8M24 84h8M200 84h8M200 92h8M8 100h8M0 108h8M192 116h8M184 132h8M176 140h8M0 148h8M168 148h8M8 156h8M152 156h8M312 156h8M344 156h8M24 164h8M136 164h8M40 172h16M104 172h16M288 172h8M264 220h8M248 292h8M248 300h8M248 316h8M248 324h8M440 348h8M288 436h8M448 444h8M448 452h8M456 460h8M456 468h8M336 484h8M456 484h8M456 492h8M360 500h8M448 500h8M376 508h8M440 508h8M400 516h32M616 564h8M632 572h8M640 588h8M536 596h8M640 596h8M536 620h8M568 644h24"/><path stroke="#303030" d="M160 -12h8M208 -12h8M128 20h8M120 36h8M224 36h8M112 44h8M96 52h8M80 60h8M56 68h8M200 68h8M40 76h8M16 92h8M192 108h8M0 116h8M0 124h8M184 124h8M0 132h8M0 140h8M8 148h8M160 148h8M16 156h8M320 156h24M128 164h8M360 164h8M56 172h48M368 172h8M376 180h8M280 188h8M272 204h8M416 260h8M248 308h8M440 356h8M296 444h8M448 460h8M328 476h8M456 476h8M448 492h8M440 500h8M384 508h16M424 508h16M576 564h8M560 572h8M544 588h8M536 604h8M536 612h8M544 628h8M552 636h8M608 636h8"/><path stroke="#323232" d="M168 -12h8M200 -12h8M152 -4h8M216 -4h8M224 4h8M136 12h8M128 28h8M224 28h8M120 44h8M216 44h8M104 52h8M208 52h8M88 60h8M200 60h8M64 68h8M48 76h8M192 76h8M32 84h8M192 84h8M192 92h8M192 100h8M8 108h8M176 132h8M168 140h8M144 156h8M32 164h8M120 164h8M304 164h8M384 196h8M392 212h8M400 228h8M408 244h8M256 252h8M432 308h8M256 364h8M440 364h8M440 372h8M264 388h8M440 412h8M280 420h8M440 420h8M440 428h8M440 436h8M304 452h8M320 468h8M448 468h8M448 476h8M448 484h8M352 492h8M440 492h8M368 500h8M432 500h8M400 508h24M584 564h32M624 572h8M552 580h8M632 580h8M632 612h8M616 628h8"/><path stroke="#343434" d="M176 -12h24M144 4h8M224 12h8M136 20h8M224 20h8M128 36h8M216 36h8M112 52h8M96 60h8M72 68h8M192 68h8M24 92h8M16 100h8M184 108h8M8 116h8M184 116h8M8 124h8M8 132h8M8 140h8M16 148h8M152 148h8M24 156h8M136 156h8M40 164h16M112 164h8M352 164h8M296 172h8M288 180h8M264 228h8M424 284h8M440 380h8M440 388h8M440 396h8M272 404h8M440 404h8M440 444h8M440 452h8M312 460h8M440 460h8M440 468h8M440 476h8M440 484h8M432 492h8M376 500h8M416 500h16M568 572h8M632 588h8M544 596h8M632 604h8M544 620h8M624 620h8M560 636h8M600 636h8"/><path stroke="#363636" d="M160 -4h8M208 -4h8M216 4h8M144 12h8M136 28h8M128 44h8M208 44h8M120 52h8M200 52h8M104 60h8M192 60h8M80 68h8M184 68h8M56 76h8M184 76h8M40 84h8M184 84h8M32 92h8M184 92h8M184 100h8M16 108h8M176 124h8M168 132h8M16 140h8M160 140h8M32 156h8M56 164h8M96 164h16M312 164h8M376 188h8M256 356h8M344 484h8M432 484h8M360 492h8M424 492h8M384 500h32M616 572h8M632 596h8M544 604h8M544 612h8M552 628h8M568 636h8M592 636h8"/><path stroke="#383838" d="M168 -4h8M200 -4h8M152 4h8M216 12h8M144 20h8M216 20h8M216 28h8M136 36h8M208 36h8M136 44h8M200 44h8M128 52h8M192 52h8M112 60h8M184 60h8M88 68h8M64 76h8M176 76h8M48 84h8M176 84h8M24 100h8M176 108h8M16 116h8M176 116h8M16 124h8M16 132h8M24 148h8M144 148h8M40 156h8M128 156h8M64 164h32M320 164h8M344 164h8M360 172h8M368 180h8M280 196h8M384 204h8M272 212h8M256 260h8M432 316h8M432 468h8M432 476h8M424 484h8M416 492h8M576 572h8M560 580h8M624 580h8M552 588h8M624 612h8M608 628h8M576 636h16"/><path stroke="#3a3a3a" d="M176 -4h24M208 4h8M144 28h8M144 36h8M144 44h8M136 52h8M184 52h8M120 60h8M176 60h8M96 68h8M176 68h8M72 76h8M40 92h8M176 92h8M176 100h8M24 108h8M168 124h8M160 132h8M24 140h8M152 140h8M32 148h8M136 148h8M48 156h8M120 156h8M328 164h16M304 172h8M392 220h8M264 236h8M400 236h8M408 252h8M416 268h8M264 380h8M288 428h8M432 452h8M432 460h8M336 476h8M424 476h8M416 484h8M368 492h8M400 492h16M584 572h8M600 572h16M624 588h8M552 596h8M624 604h8M552 620h8M616 620h8M560 628h8"/><path stroke="#3c3c3c" d="M160 4h8M152 12h8M208 12h8M152 20h8M208 28h8M200 36h8M152 44h8M192 44h8M144 52h16M168 52h16M128 60h48M104 68h8M160 68h16M168 76h8M56 84h8M168 84h8M168 92h8M32 100h8M168 108h8M24 116h8M168 116h8M24 132h8M144 140h8M56 156h8M104 156h16M352 172h8M296 180h8M288 188h8M256 268h8M424 292h8M432 324h8M256 348h8M432 444h8M352 484h8M376 492h24M592 572h8M568 580h8M616 580h8M560 588h8M624 596h8M552 604h8M552 612h8M600 628h8"/><path stroke="#3e3e3e" d="M168 4h8M200 4h8M160 12h8M208 20h8M152 28h8M152 36h8M192 36h8M160 44h32M160 52h8M112 68h48M80 76h16M160 76h8M64 84h8M160 84h8M48 92h8M40 100h8M168 100h8M32 108h8M24 124h8M160 124h8M152 132h8M32 140h8M40 148h8M128 148h8M64 156h40M376 196h8M272 396h8M280 412h8M296 436h8M432 436h8M328 468h8M424 468h8M416 476h8M408 484h8M616 612h8M608 620h8M568 628h8M592 628h8"/><path stroke="#404040" d="M176 4h24M200 12h8M160 20h8M200 20h8M160 28h8M200 28h8M160 36h16M184 36h8M96 76h8M144 76h16M160 92h8M160 100h8M160 108h8M32 116h8M160 116h8M32 132h8M136 140h8M48 148h8M120 148h8M312 172h8M360 180h8M368 188h8M280 204h8M384 212h8M272 220h8M256 276h8M256 340h8M432 428h8M304 444h8M320 460h8M424 460h8M360 484h8M400 484h8M576 580h8M608 580h8M616 588h8M560 596h8M560 620h8M576 628h16"/><path stroke="#424242" d="M168 12h16M192 12h8M168 20h8M192 20h8M168 28h8M184 28h16M176 36h8M104 76h40M72 84h8M152 84h8M56 92h8M48 100h8M40 108h8M32 124h8M152 124h8M144 132h8M40 140h8M56 148h8M112 148h8M344 172h8M392 228h8M264 244h8M416 276h8M432 332h8M264 372h8M432 420h8M312 452h8M344 476h8M584 580h24M568 588h8M616 596h8M560 604h8M616 604h8M560 612h8M600 620h8"/><path stroke="#444444" d="M184 12h8M176 20h16M176 28h8M80 84h16M144 84h8M64 92h8M152 92h8M152 100h8M152 108h8M40 116h8M152 116h8M40 124h8M144 124h8M40 132h8M136 132h8M48 140h8M128 140h8M64 148h48M320 172h24M304 180h8M288 196h8M400 244h8M256 284h8M424 300h8M256 332h8M432 340h8M432 412h8M424 452h8M416 468h8M408 476h8M368 484h32M608 588h8M608 612h8M568 620h8"/><path stroke="#464646" d="M96 84h16M120 84h24M72 92h8M144 92h8M56 100h8M48 108h8M144 116h8M48 132h8M56 140h8M120 140h8M296 188h8M376 204h8M408 260h8M432 404h8M288 420h8M576 588h8M568 596h8M608 596h8M608 604h8M568 612h8M576 620h24"/><path stroke="#484848" d="M112 84h8M80 92h8M136 92h8M64 100h8M144 100h8M56 108h8M144 108h8M48 116h8M48 124h8M136 124h8M128 132h8M64 140h8M104 140h16M352 180h8M280 212h8M272 228h8M256 292h8M256 316h8M256 324h8M432 348h8M272 388h8M432 396h8M424 444h8M416 460h8M336 468h8M352 476h8M400 476h8M584 588h24M568 604h8M600 612h8"/><path stroke="#4a4a4a" d="M88 92h16M120 92h16M72 100h8M136 100h8M136 108h8M56 116h8M136 116h8M56 124h8M128 124h8M56 132h8M120 132h8M72 140h32M360 188h8M368 196h8M384 220h8M264 252h8M256 300h8M256 308h8M432 356h8M264 364h8M432 388h8M280 404h8M408 468h8M576 596h8M600 596h8M576 604h8M600 604h8M576 612h24"/><path stroke="#4c4c4c" d="M104 92h16M80 100h8M128 100h8M64 108h8M128 108h8M128 116h8M64 132h16M112 132h8M312 180h8M344 180h8M416 284h8M424 308h8M432 364h8M432 372h8M432 380h8M296 428h8M424 436h8M328 460h8M392 476h8M584 596h16M584 604h16"/><path stroke="#4e4e4e" d="M88 100h40M72 108h8M120 108h8M64 116h8M120 116h8M64 124h16M112 124h16M80 132h32M392 236h8M416 452h8M360 476h8"/><path stroke="#505050" d="M80 108h16M104 108h16M72 116h16M112 116h8M80 124h32M320 180h8M336 180h8M304 188h8M288 204h8M376 212h8M400 252h8M408 268h8M424 428h8M304 436h8M312 444h8M320 452h8M344 468h8M368 476h24"/><path stroke="#525252" d="M96 108h8M88 116h24M328 180h8M352 188h8M296 196h8M272 236h8M264 260h8M424 316h8M264 356h8M272 380h8M408 460h8M400 468h8"/><path stroke="#545454" d="M368 204h8M280 220h8M288 412h8"/><path stroke="#565656" d="M360 196h8M384 228h8M416 292h8M280 396h8M424 420h8M416 444h8"/><path stroke="#585858" d="M312 188h8M264 268h8M424 324h8M264 348h8M336 460h8M352 468h8M392 468h8"/><path stroke="#5a5a5a" d="M344 188h8M288 212h8M392 244h8M424 412h8M296 420h8M408 452h8"/><path stroke="#5c5c5c" d="M320 188h8M376 220h8M272 244h8M400 260h8M408 276h8M264 340h8M272 372h8M416 436h8M400 460h8M384 468h8"/><path stroke="#5e5e5e" d="M328 188h16M304 196h8M296 204h8M280 228h8M264 276h8M416 300h8M424 332h8M304 428h8M328 452h8M360 468h8"/><path stroke="#606060" d="M352 196h8M368 212h8M288 404h8M424 404h8M312 436h8M320 444h8M368 468h16"/><path stroke="#626262" d="M360 204h8M384 236h8M264 284h8M264 332h8M424 340h8M280 388h8M344 460h8"/><path stroke="#646464" d="M272 252h8M264 324h8M424 396h8M416 428h8M408 444h8M392 460h8"/><path stroke="#666666" d="M312 196h8M392 252h8M408 284h8M264 292h8M424 348h8M272 364h8M424 388h8"/><path stroke="#686868" d="M344 196h8M288 220h8M376 228h8M400 268h8M264 300h8M264 308h8M416 308h8M264 316h8M424 356h8M424 364h8M424 380h8M296 412h8M400 452h8"/><path stroke="#6a6a6a" d="M280 236h8M424 372h8M336 452h8M352 460h8"/><path stroke="#6c6c6c" d="M320 196h8M336 196h8M304 204h8M296 212h8M272 356h8M280 380h8M416 420h8M384 460h8"/><path stroke="#6e6e6e" d="M328 196h8M352 204h8M368 220h8M272 260h8M416 316h8M288 396h8M304 420h8"/><path stroke="#707070" d="M360 212h8M384 244h8M408 292h8M408 436h8M328 444h8M360 460h8M376 460h8"/><path stroke="#727272" d="M392 260h8M312 428h8M320 436h8M368 460h8"/><path stroke="#747474" d="M400 276h8M272 348h8M416 412h8M400 444h8M344 452h8M392 452h8"/><path stroke="#767676" d="M312 204h8M344 204h8M288 228h8M376 236h8M280 244h8M272 268h8M416 324h8M280 372h8M296 404h8"/><path stroke="#7a7a7a" d="M304 212h8M296 220h8M408 300h8M272 340h8M288 388h8M416 404h8M408 428h8"/><path stroke="#7c7c7c" d="M320 204h8M336 204h8M352 212h8M368 228h8M384 252h8M272 276h8M416 332h8M304 412h8M336 444h8M384 452h8"/><path stroke="#7e7e7e" d="M328 204h8M360 220h8M392 268h8M400 284h8M352 452h8"/><path stroke="#808080" d="M272 332h8M416 340h8M280 364h8M416 396h8M312 420h8"/><path stroke="#828282" d="M288 236h8M280 252h8M272 284h8M408 308h8M320 428h8M328 436h8M400 436h8M392 444h8M360 452h8M376 452h8"/><path stroke="#848484" d="M376 244h8M272 324h8M416 348h8M288 380h8M416 388h8M296 396h8M408 420h8M368 452h8"/><path stroke="#868686" d="M312 212h8M344 212h8M272 292h8M272 316h8M416 356h8"/><path stroke="#888888" d="M384 260h8M400 292h8M272 300h8M272 308h8M280 356h8M416 364h8M416 372h8M416 380h8M344 444h8"/><path stroke="#8a8a8a" d="M296 228h8M368 236h8M392 276h8M408 316h8M304 404h8"/><path stroke="#8c8c8c" d="M304 220h8M352 220h8M360 228h8M280 260h8"/><path stroke="#8e8e8e" d="M320 212h8M336 212h8M288 372h8M296 388h8M408 412h8M336 436h8M384 444h8"/><path stroke="#909090" d="M328 212h8M288 244h8M376 252h8M408 324h8M280 348h8M312 412h8M400 428h8M352 444h8"/><path stroke="#929292" d="M400 300h8M320 420h8M328 428h8M392 436h8"/><path stroke="#949494" d="M384 268h8M392 284h8M376 444h8"/><path stroke="#969696" d="M344 220h8M368 244h8M280 268h8M280 340h8M288 364h8M304 396h8M408 404h8M360 444h8"/><path stroke="#989898" d="M312 220h8M408 332h8M296 380h8M368 444h8"/><path stroke="#9a9a9a" d="M352 228h8M296 236h8M360 236h8M400 308h8M344 436h8"/><path stroke="#9c9c9c" d="M304 228h8M376 260h8M280 276h8M280 332h8M408 340h8M312 404h8M400 420h8"/><path stroke="#9e9e9e" d="M336 220h8M288 252h8M384 276h8M392 292h8M288 356h8M408 396h8M384 436h8"/><path stroke="#a0a0a0" d="M320 220h8M280 324h8M408 348h8M304 388h8M320 412h8M336 428h8"/><path stroke="#a2a2a2" d="M328 220h8M368 252h8M280 284h8M400 316h8M296 372h8M408 388h8M328 420h8M392 428h8"/><path stroke="#a4a4a4" d="M280 292h8M280 316h8M408 356h8M352 436h8"/><path stroke="#a6a6a6" d="M344 228h8M376 268h8M384 284h8M280 300h8M392 300h8M280 308h8M288 348h8M408 364h8M408 372h8M408 380h8M312 396h8M400 412h8"/><path stroke="#a8a8a8" d="M312 228h8M296 244h8M360 244h8M288 260h8M400 324h8M376 436h8"/><path stroke="#aaaaaa" d="M352 236h8M296 364h8M304 380h8M360 436h16"/><path stroke="#acacac" d="M304 236h8M288 340h8M320 404h8M344 428h8"/><path stroke="#aeaeae" d="M336 228h8M368 260h8M376 276h8M384 292h8M392 308h8M400 332h8M328 412h8"/><path stroke="#b0b0b0" d="M320 228h8M312 388h8M400 404h8M336 420h8M392 420h8M384 428h8"/><path stroke="#b2b2b2" d="M328 228h8M288 268h8M288 332h8M296 356h8M304 372h8"/><path stroke="#b4b4b4" d="M360 252h8M392 316h8M400 340h8"/><path stroke="#b6b6b6" d="M344 236h8M352 244h8M296 252h8M368 268h8M376 284h8M384 300h8M320 396h8M352 428h8"/><path stroke="#b8b8b8" d="M288 324h8M296 348h8M304 364h8M312 380h8M400 396h8M376 428h8"/><path stroke="#bababa" d="M312 236h8M288 276h8M400 348h8M328 404h8M344 420h8M360 428h8"/><path stroke="#bcbcbc" d="M304 244h8M376 292h8M384 308h8M288 316h8M392 324h8M320 388h8M336 412h8M392 412h8M368 428h8"/><path stroke="#bebebe" d="M336 236h8M360 260h8M368 276h8M288 284h8M296 340h8M400 356h8M312 372h8M400 388h8M384 420h8"/><path stroke="#c0c0c0" d="M320 236h8M288 292h8M288 300h8M288 308h8M304 356h8M400 364h8M400 372h8M400 380h8"/><path stroke="#c2c2c2" d="M328 236h8M352 252h8M296 260h8M376 300h8M384 316h8M392 332h8M328 396h8"/><path stroke="#c4c4c4" d="M344 244h8M368 284h8M312 364h8M320 380h8M352 420h8"/><path stroke="#c6c6c6" d="M360 268h8M296 332h8M304 348h8M336 404h8M392 404h8"/><path stroke="#c8c8c8" d="M312 244h8M368 292h8M376 308h8M384 324h8M392 340h8M320 372h8M328 388h8M344 412h8M376 420h8"/><path stroke="#cacaca" d="M304 252h8M296 268h8M312 356h8M360 420h8"/><path stroke="#cccccc" d="M336 244h8M352 260h8M360 276h8M368 300h8M376 316h8M296 324h8M304 340h8M392 348h8M320 364h8M384 412h8M368 420h8"/><path stroke="#cecece" d="M344 252h8M384 332h8M312 348h8M328 380h8M336 396h8M392 396h8"/><path stroke="#d0d0d0" d="M320 244h16M360 284h8M368 308h8M296 316h8M320 356h8M328 372h8"/><path stroke="#d2d2d2" d="M352 268h8M296 276h8M376 324h8M304 332h8M392 356h8M344 404h8M352 412h8"/><path stroke="#d4d4d4" d="M304 260h8M360 292h8M296 308h8M368 316h8M312 340h8M384 340h8M320 348h8M328 364h8M392 364h8M336 388h8M392 388h8"/><path stroke="#d6d6d6" d="M312 252h8M296 284h8M296 300h8M360 300h8M376 332h8M328 356h8M392 372h8M336 380h8M392 380h8M384 404h8M376 412h8"/><path stroke="#d8d8d8" d="M336 252h8M344 260h8M352 276h8M296 292h8M360 308h8M304 324h8M368 324h8M344 396h8M360 412h8"/><path stroke="#dadada" d="M360 316h8M312 332h8M320 340h8M328 348h8M384 348h8M336 364h8M336 372h8M368 412h8"/><path stroke="#dcdcdc" d="M352 284h8M360 324h8M368 332h8M328 340h8M376 340h8M336 348h8M336 356h8M352 404h8"/><path stroke="#dedede" d="M320 252h16M304 268h8M344 268h8M352 292h8M352 300h8M352 308h8M304 316h8M352 316h8M352 324h8M360 332h8M336 340h8M344 388h8M384 396h8"/><path stroke="#e0e0e0" d="M312 324h8M320 332h40M344 340h8M368 340h8M344 348h8M344 356h8M384 356h8M344 380h8M376 404h8"/><path stroke="#e2e2e2" d="M312 260h8M336 260h8M344 324h8M352 340h16M376 348h8M344 364h8M384 364h8M344 372h8M352 396h8M360 404h8"/><path stroke="#e4e4e4" d="M304 276h8M344 276h8M304 308h8M344 308h8M344 316h8M320 324h8M336 324h8M352 348h8M384 388h8M368 404h8"/><path stroke="#e6e6e6" d="M344 284h8M344 292h8M304 300h8M344 300h8M312 316h8M328 324h8M360 348h16M352 356h8M376 356h8M384 372h8M384 380h8M352 388h8"/><path stroke="#e8e8e8" d="M320 260h16M336 268h8M304 284h8M304 292h8M336 316h8M360 356h8M352 364h8M352 372h8M352 380h8M360 396h8M376 396h8"/><path stroke="#eaeaea" d="M312 268h8M336 308h8M320 316h16M368 356h8"/><path stroke="#ececec" d="M312 308h8M360 364h8M376 364h8M376 388h8M368 396h8"/><path stroke="#eeeeee" d="M336 276h8M336 300h8M328 308h8M368 364h8M360 372h8M376 372h8M360 380h8M376 380h8M360 388h8"/><path stroke="#f0f0f0" d="M320 268h16M312 276h8M336 284h8M336 292h8M312 300h8M320 308h8M368 372h8M368 388h8"/><path stroke="#f2f2f2" d="M312 284h8M312 292h8M328 300h8M368 380h8"/><path stroke="#f4f4f4" d="M320 276h16M320 300h8"/><path stroke="#f6f6f6" d="M328 284h8M320 292h16"/><path stroke="#f8f8f8" d="M320 284h8"/></g></g>
<g fill="none" stroke="#fff" stroke-width="1.3" stroke-linejoin="round">
<path d="M458.9 335.1C458.8 339.3 458.4 343.4 457.9 347.5C457.4 351.5 456.7 355.6 455.9 359.5C455.0 363.5 454.0 367.4 453.0 371.2C452.0 375.0 450.8 378.8 449.6 382.6C448.4 386.3 447.1 390.0 445.8 393.7C444.5 397.4 443.2 401.1 441.8 404.7C440.4 408.4 439.0 412.1 437.4 415.7C435.8 419.3 434.2 423.0 432.5 426.5C430.7 430.1 428.8 433.6 426.8 437.0C424.8 440.4 422.6 443.7 420.3 446.9C418.0 450.0 415.5 453.0 412.9 455.9C410.3 458.7 407.6 461.4 404.7 463.9C401.9 466.5 398.9 468.8 395.8 470.9C392.8 473.1 389.6 475.1 386.4 476.9C383.1 478.6 379.8 480.3 376.4 481.7C373.0 483.1 369.6 484.3 366.1 485.2C362.6 486.2 359.0 486.9 355.5 487.4C351.9 487.8 348.3 488.0 344.7 487.8C341.1 487.6 337.5 487.1 334.0 486.3C330.5 485.5 327.0 484.4 323.6 483.0C320.2 481.6 316.9 479.9 313.7 477.9C310.5 476.0 307.4 473.8 304.4 471.5C301.4 469.3 298.6 466.7 295.8 464.2C293.0 461.7 290.4 459.1 287.8 456.5C285.2 453.9 282.6 451.2 280.1 448.6C277.6 445.9 275.1 443.3 272.7 440.6C270.2 437.9 267.8 435.3 265.3 432.6C262.9 429.8 260.5 427.1 258.1 424.3C255.7 421.4 253.3 418.5 251.0 415.5C248.7 412.4 246.4 409.3 244.3 406.0C242.2 402.7 240.1 399.3 238.2 395.7C236.3 392.1 234.6 388.4 233.0 384.5C231.5 380.7 230.1 376.7 229.0 372.6C227.9 368.5 227.0 364.3 226.4 360.0C225.8 355.8 225.4 351.5 225.3 347.2C225.2 342.9 225.4 338.5 225.7 334.3C226.1 330.0 226.8 325.8 227.6 321.6C228.3 317.5 229.4 313.4 230.5 309.5C231.6 305.5 232.9 301.6 234.3 297.8C235.6 294.0 237.1 290.4 238.5 286.7C240.0 283.1 241.6 279.5 243.1 276.0C244.7 272.5 246.3 269.0 247.9 265.6C249.5 262.1 251.1 258.7 252.9 255.3C254.6 251.9 256.3 248.5 258.2 245.2C260.0 241.9 261.9 238.6 264.0 235.3C266.0 232.1 268.1 228.9 270.3 225.8C272.6 222.7 274.9 219.7 277.4 216.8C279.8 213.9 282.4 211.0 285.1 208.4C287.8 205.7 290.6 203.1 293.5 200.7C296.4 198.3 299.4 196.1 302.5 194.0C305.6 192.0 308.9 190.1 312.2 188.5C315.5 186.8 318.9 185.4 322.4 184.3C325.9 183.2 329.4 182.3 333.0 181.8C336.5 181.3 340.2 181.1 343.8 181.2C347.4 181.2 351.0 181.7 354.5 182.4C358.1 183.1 361.6 184.1 365.0 185.3C368.5 186.6 371.9 188.1 375.2 189.8C378.4 191.5 381.7 193.4 384.8 195.4C387.9 197.4 390.9 199.6 393.9 201.9C396.9 204.1 399.7 206.5 402.5 209.0C405.3 211.4 408.1 214.0 410.7 216.7C413.4 219.3 416.0 222.0 418.5 224.9C421.0 227.7 423.4 230.7 425.7 233.7C428.0 236.8 430.2 239.9 432.3 243.2C434.4 246.4 436.4 249.8 438.3 253.3C440.2 256.7 441.9 260.2 443.6 263.9C445.2 267.5 446.8 271.2 448.2 274.9C449.7 278.7 451.0 282.5 452.2 286.4C453.3 290.3 454.4 294.2 455.3 298.2C456.2 302.2 457.0 306.3 457.6 310.4C458.2 314.4 458.6 318.6 458.8 322.7C459.1 326.8 459.1 331.0 458.9 335.1Z"/>
<path d="M442.7 334.3C442.6 337.7 442.3 341.1 441.9 344.5C441.4 347.9 440.9 351.3 440.3 354.7C439.6 358.0 438.9 361.3 438.0 364.6C437.1 367.9 436.2 371.1 435.1 374.4C434.1 377.6 432.9 380.7 431.6 383.8C430.4 386.9 429.1 390.0 427.6 393.0C426.2 396.0 424.7 399.0 423.1 401.9C421.5 404.8 419.8 407.6 418.0 410.4C416.2 413.2 414.3 415.9 412.4 418.5C410.4 421.1 408.4 423.7 406.2 426.1C404.1 428.6 401.9 431.0 399.6 433.2C397.2 435.5 394.8 437.7 392.4 439.7C389.9 441.7 387.4 443.6 384.7 445.4C382.1 447.2 379.4 448.9 376.6 450.3C373.9 451.8 371.1 453.2 368.2 454.4C365.3 455.5 362.4 456.5 359.5 457.4C356.5 458.2 353.5 458.8 350.5 459.3C347.5 459.7 344.5 460.0 341.5 460.1C338.5 460.1 335.4 460.0 332.4 459.7C329.5 459.4 326.5 458.9 323.6 458.2C320.6 457.6 317.7 456.7 314.9 455.7C312.1 454.7 309.3 453.5 306.6 452.1C303.8 450.8 301.2 449.3 298.6 447.7C296.0 446.1 293.5 444.4 291.0 442.5C288.6 440.7 286.2 438.7 283.9 436.6C281.6 434.6 279.4 432.4 277.2 430.1C275.0 427.9 273.0 425.5 271.0 423.0C269.0 420.6 267.0 418.0 265.2 415.4C263.4 412.8 261.7 410.0 260.1 407.2C258.4 404.4 256.9 401.5 255.5 398.5C254.1 395.5 252.8 392.4 251.7 389.3C250.6 386.1 249.5 382.9 248.7 379.6C247.8 376.3 247.1 373.0 246.6 369.6C246.0 366.2 245.6 362.8 245.3 359.4C245.1 355.9 245.0 352.5 245.0 349.1C245.0 345.6 245.2 342.2 245.5 338.8C245.8 335.4 246.3 332.0 246.8 328.6C247.3 325.2 248.0 321.9 248.7 318.6C249.5 315.4 250.3 312.1 251.2 308.9C252.1 305.7 253.1 302.5 254.2 299.4C255.3 296.3 256.4 293.2 257.6 290.1C258.8 287.0 260.1 284.0 261.5 281.0C262.8 278.0 264.3 275.1 265.8 272.2C267.3 269.2 268.9 266.4 270.6 263.5C272.2 260.7 274.0 257.9 275.8 255.2C277.7 252.5 279.6 249.8 281.7 247.3C283.7 244.7 285.9 242.2 288.1 239.8C290.3 237.4 292.7 235.1 295.1 233.0C297.5 230.8 300.0 228.8 302.6 226.9C305.3 225.0 308.0 223.2 310.7 221.7C313.5 220.1 316.3 218.7 319.2 217.5C322.1 216.3 325.1 215.2 328.0 214.4C331.0 213.6 334.1 212.9 337.1 212.5C340.1 212.1 343.2 211.9 346.2 211.8C349.2 211.8 352.3 212.0 355.3 212.4C358.3 212.8 361.3 213.4 364.2 214.2C367.1 214.9 370.0 215.9 372.8 217.0C375.7 218.1 378.4 219.4 381.1 220.9C383.8 222.3 386.4 223.9 389.0 225.6C391.5 227.3 394.0 229.1 396.4 231.1C398.7 233.0 401.1 235.1 403.3 237.2C405.5 239.3 407.7 241.6 409.8 243.9C411.9 246.2 413.9 248.6 415.8 251.1C417.7 253.5 419.6 256.1 421.4 258.7C423.1 261.3 424.8 264.0 426.4 266.8C428.0 269.6 429.5 272.5 430.9 275.4C432.3 278.3 433.6 281.4 434.8 284.4C436.0 287.5 437.1 290.7 438.0 293.9C438.9 297.1 439.7 300.4 440.4 303.7C441.1 307.0 441.6 310.4 442.0 313.8C442.4 317.1 442.7 320.6 442.8 324.0C442.9 327.4 442.9 330.8 442.7 334.3Z"/>
<path d="M432.7 334.1C432.6 337.1 432.3 340.1 432.0 343.1C431.7 346.1 431.2 349.1 430.7 352.0C430.1 354.9 429.5 357.9 428.7 360.8C428.0 363.7 427.2 366.5 426.2 369.4C425.3 372.2 424.3 375.0 423.2 377.7C422.1 380.5 420.9 383.2 419.6 385.9C418.3 388.5 416.9 391.1 415.5 393.7C414.0 396.2 412.5 398.7 410.8 401.1C409.2 403.5 407.5 405.9 405.7 408.1C403.9 410.4 402.0 412.6 400.0 414.7C398.1 416.8 396.1 418.8 394.0 420.8C391.9 422.7 389.7 424.5 387.5 426.2C385.3 428.0 383.0 429.6 380.6 431.1C378.3 432.6 375.9 434.0 373.4 435.3C371.0 436.6 368.5 437.7 365.9 438.7C363.4 439.8 360.8 440.6 358.2 441.4C355.6 442.1 352.9 442.7 350.3 443.2C347.6 443.6 345.0 443.9 342.3 444.0C339.6 444.1 337.0 444.1 334.3 443.9C331.7 443.7 329.0 443.3 326.4 442.8C323.8 442.3 321.2 441.6 318.7 440.8C316.2 440.0 313.7 439.0 311.3 437.9C308.9 436.8 306.5 435.5 304.2 434.1C301.9 432.8 299.6 431.3 297.4 429.7C295.3 428.1 293.1 426.4 291.1 424.6C289.0 422.8 287.1 420.9 285.1 418.9C283.2 417.0 281.4 414.9 279.6 412.8C277.9 410.6 276.1 408.4 274.5 406.1C272.9 403.8 271.4 401.4 269.9 399.0C268.5 396.5 267.1 394.0 265.9 391.4C264.6 388.8 263.5 386.1 262.4 383.3C261.4 380.6 260.5 377.8 259.7 374.9C258.9 372.1 258.3 369.1 257.8 366.2C257.3 363.2 256.9 360.2 256.7 357.2C256.5 354.2 256.4 351.1 256.4 348.1C256.5 345.1 256.7 342.1 257.0 339.1C257.3 336.1 257.8 333.1 258.3 330.1C258.9 327.2 259.5 324.3 260.3 321.4C261.0 318.6 261.8 315.7 262.7 312.9C263.6 310.2 264.6 307.4 265.6 304.7C266.6 302.0 267.7 299.3 268.9 296.7C270.0 294.0 271.2 291.4 272.4 288.9C273.7 286.3 274.9 283.7 276.3 281.2C277.6 278.6 279.0 276.1 280.5 273.7C282.0 271.2 283.5 268.7 285.1 266.3C286.8 263.9 288.5 261.6 290.2 259.3C292.0 257.0 293.9 254.7 295.9 252.6C297.8 250.5 299.9 248.4 302.0 246.4C304.1 244.5 306.4 242.7 308.7 241.0C311.0 239.3 313.4 237.7 315.9 236.3C318.3 234.9 320.9 233.6 323.4 232.6C326.0 231.5 328.7 230.6 331.3 229.9C334.0 229.2 336.7 228.6 339.4 228.3C342.1 227.9 344.8 227.7 347.5 227.7C350.2 227.7 352.9 227.9 355.5 228.3C358.2 228.6 360.8 229.2 363.4 229.8C366.0 230.5 368.6 231.3 371.1 232.3C373.6 233.2 376.0 234.3 378.4 235.5C380.8 236.8 383.1 238.1 385.4 239.5C387.6 241.0 389.8 242.5 392.0 244.2C394.1 245.8 396.2 247.6 398.2 249.4C400.2 251.2 402.1 253.1 404.0 255.1C405.9 257.1 407.7 259.2 409.4 261.3C411.1 263.5 412.8 265.7 414.3 268.0C415.9 270.3 417.4 272.7 418.8 275.1C420.2 277.5 421.5 280.1 422.7 282.6C423.9 285.2 425.0 287.9 426.0 290.6C427.0 293.3 427.9 296.1 428.7 298.9C429.5 301.7 430.2 304.6 430.8 307.5C431.3 310.3 431.8 313.3 432.1 316.2C432.4 319.2 432.6 322.2 432.7 325.2C432.8 328.1 432.8 331.2 432.7 334.1Z"/>
<path d="M425.2 335.1C425.1 337.8 425.0 340.5 424.7 343.2C424.4 345.8 424.0 348.5 423.5 351.2C423.1 353.9 422.5 356.5 421.8 359.1C421.2 361.7 420.4 364.3 419.6 366.9C418.8 369.4 417.9 372.0 416.9 374.5C415.9 376.9 414.8 379.4 413.6 381.8C412.5 384.2 411.2 386.6 409.9 388.9C408.6 391.2 407.2 393.4 405.8 395.6C404.3 397.8 402.7 399.9 401.1 402.0C399.5 404.0 397.8 406.0 396.0 407.9C394.3 409.8 392.4 411.6 390.5 413.4C388.6 415.1 386.6 416.7 384.6 418.3C382.6 419.8 380.5 421.2 378.4 422.6C376.2 423.9 374.0 425.1 371.8 426.2C369.6 427.3 367.3 428.3 365.0 429.2C362.7 430.0 360.3 430.8 358.0 431.4C355.6 432.0 353.2 432.5 350.8 432.9C348.4 433.2 346.0 433.5 343.6 433.6C341.2 433.7 338.8 433.6 336.4 433.4C334.0 433.3 331.6 432.9 329.2 432.5C326.9 432.0 324.6 431.4 322.3 430.7C320.0 430.0 317.7 429.1 315.5 428.1C313.3 427.1 311.1 426.0 309.0 424.8C306.9 423.6 304.9 422.3 302.9 420.8C300.9 419.4 298.9 417.9 297.1 416.2C295.2 414.6 293.4 412.9 291.7 411.1C289.9 409.3 288.3 407.4 286.6 405.5C285.0 403.5 283.5 401.5 282.0 399.4C280.6 397.3 279.2 395.2 277.9 392.9C276.6 390.7 275.4 388.4 274.2 386.1C273.1 383.7 272.1 381.3 271.1 378.8C270.2 376.3 269.4 373.8 268.6 371.2C267.9 368.6 267.3 366.0 266.9 363.3C266.4 360.6 266.0 357.9 265.8 355.2C265.6 352.5 265.5 349.8 265.5 347.0C265.5 344.3 265.7 341.6 265.9 338.9C266.2 336.2 266.6 333.5 267.0 330.8C267.5 328.2 268.1 325.5 268.7 322.9C269.3 320.3 270.1 317.8 270.9 315.3C271.6 312.7 272.5 310.2 273.4 307.8C274.3 305.3 275.3 302.9 276.3 300.5C277.3 298.1 278.4 295.8 279.5 293.4C280.6 291.1 281.7 288.8 283.0 286.5C284.2 284.2 285.5 281.9 286.8 279.7C288.1 277.5 289.5 275.2 291.0 273.1C292.5 271.0 294.1 268.8 295.7 266.8C297.3 264.8 299.1 262.8 300.8 260.9C302.6 259.0 304.5 257.2 306.5 255.5C308.4 253.8 310.5 252.2 312.6 250.7C314.6 249.2 316.8 247.8 319.1 246.6C321.3 245.4 323.6 244.3 325.9 243.3C328.2 242.4 330.6 241.6 333.0 241.0C335.4 240.3 337.8 239.8 340.3 239.5C342.7 239.1 345.2 238.9 347.6 238.9C350.0 238.9 352.5 239.0 354.9 239.3C357.3 239.6 359.7 240.0 362.1 240.5C364.4 241.1 366.8 241.8 369.1 242.6C371.3 243.5 373.6 244.5 375.8 245.5C377.9 246.6 380.1 247.9 382.1 249.2C384.2 250.5 386.2 251.9 388.1 253.4C390.1 254.9 391.9 256.6 393.7 258.3C395.6 259.9 397.3 261.7 399.0 263.6C400.6 265.4 402.2 267.3 403.8 269.3C405.3 271.3 406.7 273.4 408.1 275.5C409.5 277.6 410.8 279.7 412.1 282.0C413.3 284.2 414.5 286.5 415.6 288.8C416.7 291.1 417.7 293.5 418.6 295.9C419.6 298.4 420.4 300.8 421.1 303.4C421.9 305.9 422.5 308.5 423.1 311.1C423.6 313.6 424.1 316.3 424.4 318.9C424.8 321.6 425.0 324.3 425.1 327.0C425.3 329.6 425.3 332.4 425.2 335.1Z"/>
<path d="M390.0 333.1C389.8 334.5 389.6 336.0 389.3 337.4C389.0 338.8 388.6 340.3 388.2 341.7C387.8 343.1 387.3 344.5 386.8 345.9C386.4 347.3 385.8 348.6 385.2 350.0C384.7 351.3 384.0 352.6 383.4 353.9C382.8 355.3 382.1 356.5 381.4 357.8C380.7 359.1 379.9 360.3 379.1 361.5C378.4 362.8 377.6 364.0 376.7 365.2C375.9 366.3 375.0 367.5 374.1 368.6C373.2 369.7 372.2 370.8 371.3 371.9C370.3 372.9 369.3 374.0 368.2 374.9C367.2 375.9 366.1 376.9 365.0 377.8C363.9 378.6 362.8 379.5 361.6 380.3C360.4 381.1 359.3 381.8 358.0 382.5C356.8 383.2 355.6 383.8 354.4 384.4C353.1 385.0 351.9 385.5 350.6 385.9C349.3 386.4 348.0 386.8 346.7 387.1C345.4 387.5 344.1 387.7 342.8 387.9C341.5 388.1 340.2 388.3 338.9 388.3C337.6 388.4 336.3 388.4 335.1 388.3C333.8 388.2 332.5 388.1 331.3 387.8C330.0 387.6 328.8 387.3 327.6 386.9C326.4 386.5 325.2 386.0 324.1 385.5C322.9 385.0 321.8 384.3 320.8 383.7C319.7 383.0 318.7 382.2 317.7 381.4C316.7 380.6 315.8 379.7 314.9 378.8C314.0 377.9 313.2 376.9 312.4 375.9C311.6 374.9 310.8 373.8 310.1 372.7C309.4 371.6 308.8 370.5 308.2 369.3C307.6 368.1 307.0 366.9 306.5 365.6C306.0 364.4 305.5 363.1 305.1 361.8C304.7 360.5 304.4 359.1 304.1 357.8C303.8 356.4 303.6 355.0 303.4 353.6C303.3 352.2 303.2 350.8 303.1 349.3C303.1 347.9 303.2 346.5 303.2 345.0C303.3 343.6 303.5 342.1 303.7 340.7C304.0 339.2 304.3 337.8 304.6 336.3C304.9 334.9 305.3 333.5 305.8 332.1C306.2 330.7 306.7 329.3 307.2 328.0C307.7 326.6 308.3 325.3 308.9 324.0C309.4 322.6 310.1 321.3 310.7 320.1C311.4 318.8 312.0 317.5 312.7 316.3C313.4 315.0 314.1 313.8 314.9 312.6C315.6 311.4 316.4 310.2 317.2 309.0C318.0 307.8 318.9 306.6 319.7 305.5C320.6 304.3 321.5 303.2 322.4 302.1C323.4 301.0 324.4 300.0 325.4 298.9C326.4 297.9 327.4 296.9 328.5 296.0C329.6 295.0 330.7 294.1 331.8 293.2C333.0 292.4 334.2 291.6 335.4 290.9C336.6 290.1 337.8 289.4 339.1 288.8C340.3 288.2 341.6 287.6 342.9 287.2C344.2 286.7 345.5 286.3 346.8 285.9C348.1 285.6 349.4 285.3 350.7 285.2C352.0 285.0 353.4 284.9 354.7 284.8C356.0 284.8 357.3 284.9 358.6 285.0C359.8 285.1 361.1 285.3 362.3 285.6C363.6 285.9 364.8 286.3 366.0 286.7C367.2 287.2 368.3 287.7 369.4 288.3C370.5 288.9 371.6 289.6 372.6 290.3C373.7 291.0 374.6 291.8 375.6 292.6C376.5 293.5 377.4 294.4 378.3 295.3C379.2 296.2 380.0 297.2 380.8 298.3C381.5 299.3 382.3 300.3 383.0 301.4C383.7 302.5 384.3 303.7 384.9 304.8C385.5 306.0 386.1 307.2 386.6 308.4C387.1 309.6 387.6 310.9 388.0 312.2C388.5 313.4 388.8 314.8 389.1 316.1C389.5 317.4 389.7 318.8 389.9 320.2C390.1 321.6 390.2 323.0 390.3 324.4C390.4 325.8 390.4 327.3 390.3 328.7C390.3 330.2 390.2 331.6 390.0 333.1Z"/>
</g>
<ellipse cx="79.85" cy="595.2" rx="47.1" ry="71.5" transform="rotate(39.7 79.85 595.2)" fill="#00ff00" stroke="#000" stroke-width="1.0"/>
</g>
<path d="M502.2 615.1H649.9" stroke="#fff" stroke-width="2.8" fill="none"/>
<text class="w b" transform="translate(576.4 646.9) scale(0.985 1.09)" style="font-size:25px" text-anchor="middle">0.2 pc</text>
<text class="w" x="33.4" y="52.7">BM556A</text>
<text class="w" x="33.4" y="86.3">2024-02-09</text>
<text class="w" x="644.5" y="52.7" text-anchor="end">23.57 GHz</text>
<text class="w" x="644.3" y="86.3" text-anchor="end" letter-spacing="-0.08">RMS = 0.11 mJy</text>
<path d="M0 7.1h20.6M678 7.1h-20.6M0 61.38h7.9M678 61.38h-7.9M0 115.66h7.9M678 115.66h-7.9M0 169.94h7.9M678 169.94h-7.9M0 224.22h7.9M678 224.22h-7.9M0 278.5h20.6M678 278.5h-20.6M0 332.78h7.9M678 332.78h-7.9M0 387.06h7.9M678 387.06h-7.9M0 441.34h7.9M678 441.34h-7.9M0 495.62h7.9M678 495.62h-7.9M0 549.9h20.6M678 549.9h-20.6M0 604.18h7.9M678 604.18h-7.9M0 658.46h7.9M678 658.46h-7.9M298.4 0v20.2M298.4 678.7v-20.2M634.4 0v7.9M634.4 678.7v-7.9" stroke="#fff" stroke-width="2.3" fill="none"/>
<rect x="0" y="0" width="678" height="678.7" fill="none" stroke="#000" stroke-width="2.1"/>
<text class="k" x="-9.1" y="14.6" text-anchor="end">65°33'54.338"</text>
<text class="k" x="-9.1" y="286.0" text-anchor="end">54.337"</text>
<text class="k" x="-9.1" y="557.4" text-anchor="end">54.336"</text>
<text class="k" y="705.8"><tspan x="210.2" letter-spacing="-1.2">19</tspan><tspan class="s" x="237.8" dy="-9.7">H</tspan><tspan x="251.8" dy="9.7">27</tspan><tspan class="s" x="280.6" dy="-9.7">M</tspan><tspan x="297.5" dy="9.7" letter-spacing="-0.6">19.540</tspan><tspan class="s" x="374.4" dy="-9.7">S</tspan></text>
<text class="k" x="339" y="745.9" text-anchor="middle">RA (J2000)</text>
<text class="k" transform="translate(-186.9 339.2) rotate(-90)" text-anchor="middle">DEC (J2000)</text>
<rect x="685" y="0" width="27" height="678.7" fill="url(#cb)"/>
<path d="M712 648.536h-7.8M712 618.371h-7.8M712 588.207h-7.8M712 558.042h-7.8M712 497.713h-7.8M712 467.549h-7.8M712 437.384h-7.8M712 407.22h-7.8M712 346.891h-7.8M712 316.727h-7.8M712 286.562h-7.8M712 256.398h-7.8M712 196.069h-7.8M712 165.904h-7.8M712 135.74h-7.8M712 105.576h-7.8M712 45.2467h-7.8M712 15.0822h-7.8" stroke="#000" stroke-width="1.6" fill="none"/>
<path d="M712 678.7h-17.6M712 527.878h-17.6M712 377.056h-17.6M712 226.233h-17.6M712 75.4111h-17.6" stroke="#000" stroke-width="2.1" fill="none"/>
<rect x="685" y="0" width="27" height="678.7" fill="none" stroke="#000" stroke-width="2.1"/>
<text class="k" x="720.7" y="687.6">0.0</text>
<text class="k" x="720.7" y="536.778">0.5</text>
<text class="k" x="720.7" y="385.956">1.0</text>
<text class="k" x="720.7" y="235.133">1.5</text>
<text class="k" x="720.7" y="84.3111">2.0</text>
<text class="k" transform="translate(772.3 339.2) rotate(90)" text-anchor="middle">mJy/beam</text>
</g>
<g transform="translate(206.05 796)">
<g clip-path="url(#ax)">
<g filter="url(#pl)"><rect x="-24" y="-24" width="728" height="728" fill="#000000"/><g stroke-width="8.3" fill="none"><path stroke="#020202" d="M96 -20h64M176 -20h16M264 -20h56M536 -20h16M584 -20h16M96 -12h24M136 -12h56M264 -12h56M536 -12h16M584 -12h16M88 -4h16M144 -4h40M264 -4h48M536 -4h16M584 -4h8M80 4h16M152 4h32M264 4h48M536 4h16M576 4h16M80 12h16M152 12h32M264 12h40M536 12h16M576 12h8M72 20h16M152 20h24M264 20h40M536 20h16M568 20h16M64 28h16M160 28h16M264 28h40M536 28h16M568 28h16M64 36h16M160 36h8M264 36h32M536 36h16M560 36h16M56 44h16M160 44h8M264 44h32M536 44h16M560 44h16M56 52h16M264 52h32M536 52h40M56 60h8M256 60h32M536 60h40M48 68h16M256 68h32M536 68h32M8 76h24M40 76h16M256 76h32M528 76h40M0 84h56M256 84h24M528 84h40M-8 92h56M256 92h24M528 92h40M-16 100h24M24 100h24M256 100h16M528 100h40M696 100h8M-16 108h16M256 108h8M528 108h40M696 108h8M-16 116h8M520 116h48M688 116h16M-24 124h16M520 124h48M688 124h8M-24 132h8M520 132h48M680 132h16M-24 140h8M520 140h48M672 140h16M520 148h48M664 148h16M520 156h48M664 156h16M512 164h56M656 164h16M512 172h56M648 172h16M512 180h56M640 180h16M512 188h56M624 188h24M512 196h56M616 196h24M512 204h48M608 204h32M512 212h40M600 212h32M512 220h32M600 220h24M512 228h24M600 228h24M112 236h8M512 236h16M600 236h16M104 244h16M600 244h16M104 252h16M600 252h16M96 260h24M600 260h16M88 268h32M600 268h16M80 276h32M600 276h8M64 284h48M600 284h8M48 292h40M96 292h16M600 292h8M40 300h40M96 300h16M592 300h16M40 308h32M96 308h16M592 308h16M32 316h24M96 316h16M592 316h8M32 324h16M96 324h8M592 324h8M32 332h8M96 332h8M592 332h8M24 340h16M96 340h8M584 340h16M24 348h8M88 348h16M584 348h8M16 356h16M88 356h16M584 356h8M-24 364h8M8 364h16M88 364h8M576 364h16M-24 372h16M0 372h24M88 372h8M576 372h8M-24 380h40M88 380h8M576 380h8M-24 388h32M88 388h8M568 388h16M-16 396h16M80 396h16M568 396h8M80 404h16M568 404h8M80 412h16M560 412h16M80 420h8M560 420h16M80 428h8M552 428h16M592 428h32M80 436h8M552 436h16M576 436h56M80 444h8M544 444h88M72 452h16M544 452h88M72 460h16M176 460h16M536 460h48M616 460h24M72 468h16M176 468h16M536 468h40M616 468h24M664 468h16M72 476h16M168 476h16M528 476h40M624 476h64M72 484h16M168 484h16M528 484h32M624 484h72M72 492h8M160 492h24M520 492h40M624 492h40M680 492h24M72 500h8M160 500h24M512 500h40M624 500h32M688 500h16M64 508h16M160 508h24M512 508h40M632 508h16M696 508h8M64 516h16M152 516h24M504 516h40M632 516h8M696 516h8M64 524h16M152 524h24M496 524h48M696 524h8M56 532h24M144 532h32M488 532h48M696 532h8M48 540h24M144 540h24M480 540h32M520 540h16M40 548h24M136 548h32M472 548h32M520 548h16M32 556h16M136 556h24M464 556h32M512 556h16M24 564h16M136 564h24M456 564h32M512 564h16M16 572h16M128 572h32M448 572h40M512 572h16M8 580h16M128 580h24M440 580h40M512 580h8M0 588h16M120 588h32M432 588h40M512 588h8M0 596h8M120 596h32M432 596h40M504 596h16M-8 604h16M112 604h32M424 604h40M504 604h16M-8 612h8M112 612h32M424 612h40M504 612h16M-16 620h16M112 620h32M416 620h40M504 620h8M608 620h8M-16 628h8M112 628h24M416 628h40M504 628h8M608 628h8M-24 636h16M104 636h32M408 636h40M504 636h8M600 636h24M-24 644h8M104 644h32M408 644h40M496 644h16M600 644h24M696 644h8M-24 652h8M104 652h32M400 652h40M496 652h16M592 652h32M696 652h8M-24 660h8M96 660h32M392 660h48M496 660h16M592 660h32M696 660h8M-24 668h8M96 668h32M392 668h48M496 668h16M592 668h8M608 668h16M696 668h8M88 676h40M384 676h48M496 676h16M584 676h16M616 676h8M688 676h16M88 684h40M384 684h48M496 684h16M576 684h16M616 684h8M688 684h8M80 692h48M376 692h48M496 692h16M576 692h16M616 692h8M688 692h8M80 700h16M104 700h16M368 700h48M496 700h24M568 700h16M616 700h16M680 700h16"/><path stroke="#040404" d="M192 -20h8M256 -20h8M320 -20h8M528 -20h8M600 -20h8M120 -12h16M192 -12h8M256 -12h8M320 -12h8M528 -12h8M104 -4h40M184 -4h8M256 -4h8M312 -4h8M528 -4h8M592 -4h8M96 4h16M128 4h24M184 4h8M256 4h8M312 4h8M528 4h8M592 4h8M96 12h8M136 12h16M184 12h8M256 12h8M304 12h16M528 12h8M584 12h8M88 20h8M144 20h8M176 20h8M256 20h8M304 20h8M528 20h8M584 20h8M80 28h8M144 28h16M176 28h8M256 28h8M304 28h8M528 28h8M584 28h8M80 36h8M152 36h8M168 36h16M248 36h16M296 36h16M528 36h8M576 36h8M72 44h8M152 44h8M168 44h8M248 44h16M296 44h16M528 44h8M576 44h8M152 52h24M248 52h16M296 52h16M528 52h8M576 52h8M64 60h8M152 60h24M248 60h8M288 60h16M528 60h8M576 60h8M152 68h16M248 68h8M288 68h16M528 68h8M568 68h8M56 76h8M152 76h16M248 76h8M288 76h16M520 76h8M568 76h8M56 84h8M152 84h8M248 84h8M280 84h24M520 84h8M568 84h8M696 84h8M48 92h8M152 92h8M248 92h8M280 92h16M520 92h8M568 92h8M696 92h8M8 100h16M48 100h8M152 100h8M248 100h8M272 100h24M520 100h8M568 100h8M688 100h8M0 108h48M248 108h8M264 108h32M520 108h8M568 108h8M688 108h8M-8 116h8M32 116h16M248 116h40M512 116h8M568 116h8M680 116h8M-8 124h8M240 124h48M512 124h8M568 124h8M680 124h8M-16 132h8M240 132h40M512 132h8M568 132h8M672 132h8M240 140h40M512 140h8M568 140h8M664 140h8M-24 148h8M240 148h32M504 148h16M568 148h8M656 148h8M-24 156h8M240 156h32M504 156h16M568 156h8M648 156h16M240 164h32M504 164h8M568 164h16M640 164h16M240 172h24M504 172h8M568 172h16M632 172h16M232 180h32M496 180h16M568 180h24M616 180h24M128 188h8M232 188h24M496 188h16M568 188h56M128 196h8M232 196h24M496 196h16M568 196h48M120 204h16M232 204h24M496 204h16M560 204h48M120 212h16M232 212h16M496 212h16M552 212h48M112 220h16M232 220h16M496 220h16M544 220h24M576 220h24M104 228h24M232 228h16M496 228h16M536 228h16M584 228h16M104 236h8M120 236h8M224 236h16M488 236h24M528 236h16M592 236h8M96 244h8M120 244h8M224 244h16M488 244h48M592 244h8M88 252h16M120 252h8M224 252h16M488 252h40M592 252h8M80 260h16M120 260h8M224 260h16M488 260h32M592 260h8M72 268h16M224 268h8M488 268h32M592 268h8M48 276h32M112 276h8M224 276h8M488 276h24M592 276h8M40 284h24M112 284h8M216 284h16M496 284h8M592 284h8M40 292h8M112 292h8M216 292h16M592 292h8M32 300h8M112 300h8M216 300h8M32 308h8M216 308h8M584 308h8M208 316h16M584 316h8M24 324h8M104 324h8M208 324h16M584 324h8M24 332h8M104 332h8M208 332h16M584 332h8M16 340h8M104 340h8M200 340h24M-24 348h8M16 348h8M104 348h8M200 348h24M576 348h8M-24 356h8M8 356h8M200 356h16M576 356h8M-16 364h24M96 364h8M200 364h16M-8 372h8M96 372h8M192 372h24M568 372h8M96 380h8M192 380h24M568 380h8M96 388h8M192 388h24M96 396h8M184 396h32M560 396h8M96 404h8M184 404h32M560 404h8M184 412h32M552 412h8M88 420h8M176 420h40M552 420h8M88 428h8M176 428h40M88 436h8M176 436h32M544 436h8M88 444h8M168 444h40M88 452h8M168 452h40M536 452h8M88 460h8M160 460h16M192 460h16M528 460h8M584 460h32M88 468h8M160 468h16M192 468h16M528 468h8M576 468h40M88 476h8M160 476h8M184 476h24M520 476h8M568 476h16M608 476h16M88 484h8M152 484h16M184 484h16M520 484h8M560 484h16M616 484h8M80 492h8M152 492h8M184 492h16M512 492h8M560 492h8M616 492h8M664 492h16M80 500h8M152 500h8M184 500h16M504 500h8M552 500h8M616 500h8M656 500h32M80 508h8M144 508h16M184 508h8M496 508h16M552 508h8M616 508h16M648 508h8M680 508h16M80 516h8M144 516h8M176 516h16M488 516h16M544 516h8M616 516h16M640 516h8M688 516h8M80 524h8M136 524h16M176 524h8M480 524h16M544 524h8M616 524h32M688 524h8M80 532h8M136 532h8M176 532h8M456 532h32M536 532h8M616 532h24M72 540h16M128 540h16M168 540h8M440 540h40M536 540h8M616 540h24M696 540h8M64 548h16M128 548h8M168 548h8M432 548h40M616 548h16M696 548h8M48 556h24M120 556h16M160 556h16M424 556h40M528 556h8M616 556h16M696 556h8M40 564h16M120 564h16M160 564h8M424 564h32M528 564h8M616 564h16M696 564h8M32 572h8M112 572h16M160 572h8M416 572h32M616 572h16M696 572h8M24 580h8M112 580h16M152 580h8M416 580h24M520 580h8M616 580h16M16 588h8M104 588h16M152 588h8M408 588h24M520 588h8M608 588h16M8 596h8M104 596h16M408 596h24M520 596h8M608 596h16M696 596h8M104 604h8M144 604h8M400 604h24M520 604h8M608 604h16M696 604h8M0 612h8M104 612h8M144 612h8M400 612h24M608 612h16M696 612h8M104 620h8M392 620h24M512 620h8M600 620h8M616 620h8M696 620h8M-8 628h8M96 628h16M136 628h8M392 628h24M512 628h8M600 628h8M616 628h8M696 628h8M96 636h8M136 636h8M384 636h24M512 636h8M592 636h8M696 636h8M-16 644h8M96 644h8M136 644h8M376 644h32M512 644h8M592 644h8M-16 652h8M96 652h8M376 652h24M512 652h8M88 660h8M128 660h8M368 660h24M512 660h8M584 660h8M688 660h8M88 668h8M128 668h8M368 668h24M512 668h8M584 668h8M624 668h8M688 668h8M-24 676h8M80 676h8M128 676h8M360 676h24M512 676h8M576 676h8M624 676h8M-24 684h8M80 684h8M128 684h8M240 684h8M360 684h24M512 684h8M568 684h8M624 684h8M680 684h8M-24 692h8M72 692h8M224 692h32M352 692h24M512 692h16M560 692h16M624 692h8M680 692h8M-24 700h8M72 700h8M120 700h8M224 700h32M352 700h16M520 700h8M552 700h16M632 700h8M672 700h8"/><path stroke="#060606" d="M200 -20h8M248 -20h8M328 -20h8M456 -20h16M512 -20h16M200 -12h8M248 -12h8M328 -12h8M520 -12h8M600 -12h8M192 -4h8M248 -4h8M320 -4h8M520 -4h8M600 -4h8M112 4h16M192 4h8M248 4h8M320 4h8M520 4h8M104 12h32M248 12h8M520 12h8M592 12h8M96 20h8M136 20h8M184 20h8M248 20h8M312 20h8M520 20h8M88 28h8M136 28h8M184 28h8M248 28h8M312 28h8M520 28h8M144 36h8M312 36h8M520 36h8M584 36h8M80 44h8M144 44h8M176 44h8M312 44h8M520 44h8M584 44h8M72 52h8M144 52h8M176 52h8M312 52h8M520 52h8M144 60h8M240 60h8M304 60h8M520 60h8M64 68h8M144 68h8M168 68h8M240 68h8M304 68h8M520 68h8M576 68h8M64 76h8M144 76h8M168 76h8M240 76h8M304 76h8M576 76h8M696 76h8M144 84h8M160 84h8M240 84h8M304 84h8M576 84h8M56 92h8M144 92h8M160 92h8M240 92h8M296 92h16M512 92h8M688 92h8M144 100h8M160 100h8M240 100h8M296 100h16M512 100h8M48 108h8M144 108h16M240 108h8M296 108h8M512 108h8M680 108h8M0 116h32M48 116h8M144 116h16M240 116h8M288 116h16M0 124h8M24 124h24M144 124h16M288 124h16M504 124h8M672 124h8M-8 132h8M32 132h16M136 132h24M232 132h8M280 132h16M504 132h8M576 132h8M664 132h8M-16 140h8M136 140h16M232 140h8M280 140h16M504 140h8M576 140h8M656 140h8M-16 148h8M136 148h16M232 148h8M272 148h16M576 148h8M648 148h8M136 156h16M232 156h8M272 156h16M496 156h8M576 156h16M640 156h8M-24 164h8M128 164h24M232 164h8M272 164h8M496 164h8M584 164h8M632 164h8M-24 172h8M128 172h16M232 172h8M264 172h16M496 172h8M584 172h48M128 180h16M264 180h8M488 180h8M592 180h24M120 188h8M136 188h8M224 188h8M256 188h16M488 188h8M120 196h8M136 196h8M224 196h8M256 196h16M488 196h8M112 204h8M224 204h8M256 204h8M488 204h8M112 212h8M224 212h8M248 212h16M480 212h16M104 220h8M128 220h8M224 220h8M248 220h16M480 220h16M568 220h8M128 228h8M224 228h8M248 228h8M480 228h16M552 228h32M96 236h8M128 236h8M216 236h8M240 236h16M480 236h8M544 236h48M88 244h8M216 244h8M240 244h16M480 244h8M536 244h16M576 244h16M80 252h8M216 252h8M240 252h8M480 252h8M528 252h16M584 252h8M72 260h8M216 260h8M240 260h8M480 260h8M520 260h16M584 260h8M48 268h24M120 268h8M216 268h8M232 268h16M480 268h8M520 268h8M584 268h8M40 276h8M120 276h8M208 276h16M232 276h16M480 276h8M512 276h8M584 276h8M208 284h8M232 284h16M472 284h24M504 284h8M584 284h8M32 292h8M208 292h8M232 292h8M472 292h40M584 292h8M208 300h8M224 300h16M472 300h32M584 300h8M112 308h8M200 308h16M224 308h16M472 308h24M24 316h8M112 316h8M200 316h8M224 316h16M472 316h24M112 324h8M200 324h8M224 324h16M472 324h16M576 324h8M16 332h8M200 332h8M224 332h8M576 332h8M-24 340h8M8 340h8M192 340h8M224 340h8M576 340h8M-16 348h8M0 348h16M192 348h8M224 348h8M-16 356h24M104 356h8M192 356h8M216 356h16M568 356h8M104 364h8M184 364h16M216 364h16M568 364h8M104 372h8M184 372h8M216 372h16M104 380h8M184 380h8M216 380h16M560 380h8M184 388h8M216 388h16M560 388h8M176 396h8M216 396h8M176 404h8M216 404h8M552 404h8M96 412h8M176 412h8M216 412h8M96 420h8M168 420h8M216 420h8M544 420h8M96 428h8M168 428h8M216 428h8M544 428h8M96 436h8M168 436h8M208 436h16M536 436h8M96 444h8M160 444h8M208 444h16M536 444h8M96 452h8M160 452h8M208 452h16M528 452h8M208 460h8M152 468h8M208 468h8M520 468h8M152 476h8M208 476h8M512 476h8M584 476h24M144 484h8M200 484h8M512 484h8M576 484h16M600 484h16M88 492h8M144 492h8M200 492h8M504 492h8M568 492h8M608 492h8M88 500h8M144 500h8M200 500h8M496 500h8M560 500h8M608 500h8M88 508h8M136 508h8M192 508h8M432 508h32M480 508h16M656 508h24M88 516h8M136 516h8M192 516h8M432 516h56M552 516h8M648 516h8M680 516h8M88 524h16M128 524h8M184 524h8M424 524h56M648 524h8M88 532h16M120 532h16M184 532h8M424 532h32M544 532h8M640 532h8M688 532h8M88 540h16M112 540h16M176 540h8M416 540h24M640 540h8M688 540h8M80 548h48M176 548h8M416 548h16M536 548h8M632 548h8M72 556h48M408 556h16M536 556h8M632 556h8M56 564h64M168 564h8M408 564h16M608 564h8M632 564h8M40 572h8M88 572h24M400 572h16M528 572h8M608 572h8M32 580h8M96 580h16M160 580h8M400 580h16M528 580h8M608 580h8M696 580h8M24 588h8M96 588h8M392 588h16M528 588h8M624 588h8M696 588h8M16 596h8M96 596h8M152 596h8M392 596h16M624 596h8M8 604h8M96 604h8M152 604h8M384 604h16M600 604h8M624 604h8M96 612h8M384 612h16M520 612h8M600 612h8M624 612h8M0 620h8M96 620h8M144 620h8M376 620h16M520 620h8M624 620h8M144 628h8M376 628h16M520 628h8M592 628h8M624 628h8M-8 636h8M88 636h8M368 636h16M520 636h8M624 636h8M-8 644h8M88 644h8M368 644h8M520 644h8M584 644h8M624 644h8M688 644h8M88 652h8M136 652h8M360 652h16M520 652h8M584 652h8M624 652h8M688 652h8M-16 660h8M136 660h8M240 660h16M360 660h8M520 660h8M576 660h8M624 660h8M-16 668h8M80 668h8M232 668h32M360 668h8M520 668h8M576 668h8M-16 676h8M232 676h32M352 676h8M520 676h8M568 676h8M680 676h8M-16 684h8M72 684h8M224 684h16M248 684h16M352 684h8M520 684h16M560 684h8M-16 692h8M128 692h8M216 692h8M256 692h8M344 692h8M528 692h32M632 692h8M672 692h8M-16 700h8M64 700h8M128 700h8M216 700h8M256 700h8M344 700h8M528 700h24"/><path stroke="#080808" d="M208 -20h16M232 -20h16M336 -20h8M448 -20h8M472 -20h40M608 -20h8M208 -12h8M240 -12h8M448 -12h32M512 -12h8M200 -4h8M240 -4h8M328 -4h8M456 -4h16M512 -4h8M200 4h8M240 4h8M600 4h8M192 12h8M240 12h8M320 12h8M104 20h32M192 20h8M240 20h8M320 20h8M592 20h8M96 28h8M128 28h8M240 28h8M320 28h8M592 28h8M88 36h8M136 36h8M184 36h8M240 36h8M136 44h8M184 44h8M240 44h8M80 52h8M136 52h8M240 52h8M584 52h8M72 60h8M176 60h8M312 60h8M584 60h8M176 68h8M312 68h8M512 68h8M696 68h8M312 76h8M512 76h8M64 84h8M168 84h8M312 84h8M512 84h8M688 84h8M168 92h8M312 92h8M576 92h8M56 100h8M232 100h8M312 100h8M576 100h8M680 100h8M136 108h8M160 108h8M232 108h8M304 108h16M504 108h8M576 108h8M136 116h8M160 116h8M232 116h8M304 116h8M504 116h8M576 116h8M672 116h8M8 124h16M48 124h8M136 124h8M232 124h8M304 124h8M576 124h8M664 124h8M24 132h8M296 132h8M-8 140h8M32 140h16M152 140h8M296 140h8M496 140h8M584 140h8M128 148h8M152 148h8M288 148h8M496 148h8M584 148h8M-16 156h8M128 156h8M224 156h8M288 156h8M592 156h8M632 156h8M224 164h8M280 164h8M488 164h8M592 164h40M120 172h8M144 172h8M224 172h8M280 172h8M488 172h8M-24 180h8M120 180h8M144 180h8M224 180h8M272 180h8M272 188h8M480 188h8M112 196h8M272 196h8M480 196h8M136 204h8M216 204h8M264 204h8M480 204h8M104 212h8M136 212h8M216 212h8M264 212h8M472 212h8M136 220h8M216 220h8M472 220h8M96 228h8M216 228h8M256 228h8M472 228h8M88 236h8M256 236h8M472 236h8M80 244h8M128 244h8M256 244h8M472 244h8M552 244h24M48 252h8M64 252h16M128 252h8M208 252h8M248 252h8M472 252h8M544 252h8M576 252h8M40 260h32M208 260h8M248 260h8M464 260h16M536 260h8M576 260h8M40 268h8M208 268h8M248 268h8M464 268h16M528 268h8M576 268h8M248 276h8M464 276h16M520 276h8M32 284h8M120 284h8M200 284h8M464 284h8M512 284h8M120 292h8M200 292h8M240 292h8M464 292h8M24 300h8M120 300h8M200 300h8M240 300h8M464 300h8M504 300h8M576 300h8M24 308h8M240 308h8M464 308h8M496 308h8M576 308h8M192 316h8M240 316h8M464 316h8M496 316h8M576 316h8M16 324h8M192 324h8M240 324h8M464 324h8M488 324h8M-24 332h8M112 332h8M192 332h8M232 332h8M464 332h32M-16 340h8M112 340h8M232 340h8M464 340h24M-8 348h8M112 348h8M184 348h8M232 348h8M464 348h16M568 348h8M184 356h8M232 356h8M456 356h24M232 364h8M456 364h24M232 372h8M456 372h16M560 372h8M176 380h8M232 380h8M456 380h16M104 388h8M176 388h8M232 388h8M456 388h8M104 396h8M224 396h8M552 396h8M104 404h8M168 404h8M224 404h8M104 412h8M168 412h8M224 412h8M544 412h8M224 420h8M160 428h8M224 428h8M536 428h8M160 436h8M224 436h8M224 444h8M528 444h8M152 452h8M224 452h8M96 460h8M152 460h8M216 460h8M440 460h16M520 460h8M96 468h8M144 468h8M216 468h8M440 468h16M512 468h8M96 476h8M144 476h8M216 476h8M432 476h24M96 484h8M208 484h8M432 484h32M504 484h8M592 484h8M96 492h8M136 492h8M208 492h8M432 492h32M488 492h16M576 492h32M96 500h8M128 500h16M208 500h8M424 500h72M568 500h8M600 500h8M96 508h16M128 508h8M200 508h8M424 508h8M464 508h16M560 508h8M608 508h8M96 516h40M416 516h16M560 516h8M608 516h8M656 516h24M104 524h24M192 524h8M416 524h8M552 524h8M608 524h8M680 524h8M104 532h16M408 532h16M608 532h8M648 532h8M104 540h8M184 540h8M408 540h8M544 540h8M608 540h8M400 548h16M544 548h8M608 548h8M640 548h8M688 548h8M176 556h8M400 556h8M608 556h8M688 556h8M392 564h16M536 564h8M48 572h40M168 572h8M392 572h8M536 572h8M632 572h8M40 580h8M80 580h16M384 580h16M88 588h8M160 588h8M384 588h8M600 588h8M88 596h8M160 596h8M376 596h16M528 596h8M600 596h8M88 604h8M376 604h8M528 604h8M8 612h8M88 612h8M152 612h8M368 612h16M592 612h8M88 620h8M368 620h8M592 620h8M0 628h8M88 628h8M360 628h16M688 628h8M144 636h8M248 636h16M360 636h8M584 636h8M688 636h8M144 644h8M240 644h24M360 644h8M-8 652h8M80 652h8M232 652h32M352 652h8M576 652h8M80 660h8M232 660h8M256 660h8M352 660h8M136 668h8M224 668h8M264 668h8M352 668h8M528 668h8M568 668h8M680 668h8M72 676h8M136 676h8M224 676h8M264 676h8M344 676h8M528 676h8M560 676h8M632 676h8M136 684h8M216 684h8M264 684h8M344 684h8M536 684h24M632 684h8M672 684h8M64 692h8M208 692h8M264 692h8M208 700h8M264 700h8M336 700h8M640 700h32"/><path stroke="#0a0a0a" d="M224 -20h8M216 -12h24M336 -12h8M480 -12h32M608 -12h8M208 -4h32M448 -4h8M472 -4h8M504 -4h8M208 4h8M232 4h8M328 4h8M448 4h24M512 4h8M200 12h8M232 12h8M328 12h8M448 12h16M512 12h8M600 12h8M200 20h8M232 20h8M512 20h8M104 28h24M192 28h8M232 28h8M512 28h8M96 36h8M128 36h8M192 36h8M232 36h8M320 36h8M512 36h8M592 36h8M88 44h8M232 44h8M320 44h8M512 44h8M184 52h8M232 52h8M320 52h8M512 52h8M136 60h8M232 60h8M320 60h8M512 60h8M696 60h8M72 68h8M136 68h8M232 68h8M320 68h8M584 68h8M136 76h8M176 76h8M232 76h8M320 76h8M584 76h8M688 76h8M136 84h8M232 84h8M320 84h8M136 92h8M232 92h8M320 92h8M504 92h8M680 92h8M136 100h8M168 100h8M320 100h8M504 100h8M56 108h8M320 108h8M672 108h8M312 116h8M160 124h8M312 124h8M496 124h8M584 124h8M0 132h24M48 132h8M128 132h8M160 132h8M224 132h8M304 132h8M496 132h8M584 132h8M656 132h8M24 140h8M128 140h8M224 140h8M304 140h8M648 140h8M32 148h16M224 148h8M296 148h8M488 148h8M592 148h8M640 148h8M40 156h8M152 156h8M296 156h8M488 156h8M600 156h32M-16 164h8M120 164h8M152 164h8M288 164h8M288 172h8M480 172h8M280 180h8M480 180h8M-24 188h8M112 188h8M144 188h8M216 188h8M280 188h8M472 188h8M144 196h8M216 196h8M472 196h8M104 204h8M272 204h8M472 204h8M464 212h8M96 220h8M264 220h8M464 220h8M88 228h8M136 228h8M208 228h8M264 228h8M464 228h8M80 236h8M208 236h8M464 236h8M48 244h16M72 244h8M208 244h8M464 244h8M40 252h8M56 252h8M256 252h8M464 252h8M552 252h24M128 260h8M256 260h8M544 260h8M568 260h8M32 268h8M128 268h8M200 268h8M456 268h8M536 268h8M32 276h8M200 276h8M456 276h8M528 276h8M576 276h8M248 284h8M456 284h8M520 284h8M576 284h8M24 292h8M248 292h8M456 292h8M512 292h8M576 292h8M248 300h8M456 300h8M120 308h8M192 308h8M456 308h8M504 308h8M16 316h8M120 316h8M456 316h8M-24 324h8M456 324h8M496 324h8M-16 332h8M8 332h8M184 332h8M240 332h8M456 332h8M568 332h8M-8 340h16M184 340h8M240 340h8M456 340h8M488 340h8M568 340h8M240 348h8M456 348h8M480 348h8M112 356h8M240 356h8M480 356h8M112 364h8M176 364h8M240 364h8M448 364h8M560 364h8M112 372h8M176 372h8M448 372h8M472 372h8M448 380h8M472 380h8M168 388h8M448 388h8M464 388h8M552 388h8M168 396h8M232 396h8M448 396h24M232 404h8M448 404h24M544 404h8M160 412h8M232 412h8M448 412h24M104 420h8M160 420h8M232 420h8M440 420h24M104 428h8M232 428h8M440 428h24M104 436h8M152 436h8M232 436h8M440 436h24M104 444h8M152 444h8M232 444h8M440 444h24M104 452h8M432 452h32M520 452h8M104 460h8M144 460h8M224 460h8M432 460h8M456 460h8M104 468h8M224 468h8M432 468h8M456 468h8M104 476h8M136 476h8M224 476h8M456 476h16M504 476h8M104 484h8M128 484h16M216 484h8M424 484h8M464 484h8M488 484h16M104 492h32M216 492h8M424 492h8M464 492h24M104 500h24M416 500h8M576 500h24M112 508h16M208 508h8M416 508h8M568 508h8M600 508h8M200 516h8M408 516h8M600 516h8M408 524h8M560 524h8M600 524h8M656 524h24M192 532h8M400 532h8M552 532h8M680 532h8M400 540h8M648 540h8M184 548h8M392 548h8M392 556h8M544 556h8M640 556h8M176 564h8M384 564h8M600 564h8M688 564h8M384 572h8M600 572h8M688 572h8M48 580h32M168 580h8M376 580h8M536 580h8M600 580h8M632 580h8M688 580h8M32 588h8M80 588h8M376 588h8M632 588h8M688 588h8M24 596h8M80 596h8M368 596h8M688 596h8M16 604h8M160 604h8M368 604h8M592 604h8M688 604h8M360 612h8M528 612h8M688 612h8M8 620h8M152 620h8M248 620h16M360 620h8M528 620h8M688 620h8M152 628h8M240 628h24M528 628h8M584 628h8M0 636h8M240 636h8M264 636h8M352 636h8M528 636h8M80 644h8M232 644h8M264 644h8M352 644h8M528 644h8M576 644h8M144 652h8M264 652h8M528 652h8M-8 660h8M224 660h8M264 660h8M528 660h8M568 660h8M632 660h8M680 660h8M-8 668h8M72 668h8M344 668h8M536 668h8M560 668h8M632 668h8M216 676h8M536 676h24M672 676h8M64 684h8M272 684h8M336 684h8M640 684h8M136 692h8M272 692h8M336 692h8M640 692h8M664 692h8M-8 700h8M56 700h8M136 700h8M200 700h8M272 700h8M328 700h8"/><path stroke="#0c0c0c" d="M344 -20h8M440 -20h8M616 -20h8M440 -12h8M336 -4h8M440 -4h8M480 -4h24M608 -4h8M216 4h16M440 4h8M472 4h8M504 4h8M208 12h24M440 12h8M464 12h8M504 12h8M208 20h8M224 20h8M328 20h8M440 20h24M600 20h8M200 28h8M328 28h8M440 28h16M104 36h24M440 36h8M96 44h8M128 44h8M192 44h8M592 44h8M88 52h8M128 52h8M696 52h8M80 60h8M184 60h8M184 68h8M72 76h8M328 76h8M504 76h8M176 84h8M328 84h8M504 84h8M584 84h8M64 92h8M176 92h8M328 92h8M584 92h8M224 100h8M328 100h8M584 100h8M672 100h8M168 108h8M224 108h8M328 108h8M584 108h8M56 116h8M168 116h8M224 116h8M320 116h8M496 116h8M584 116h8M664 116h8M128 124h8M224 124h8M320 124h8M656 124h8M312 132h8M648 132h8M0 140h8M16 140h8M48 140h8M160 140h8M488 140h8M592 140h8M640 140h8M-8 148h8M24 148h8M48 148h8M304 148h8M600 148h8M624 148h16M32 156h8M120 156h8M480 156h8M32 164h16M216 164h8M296 164h8M480 164h8M152 172h8M216 172h8M112 180h8M216 180h8M288 180h8M472 180h8M-24 196h8M104 196h8M280 196h8M464 196h8M144 204h8M464 204h8M96 212h8M208 212h8M272 212h8M208 220h8M272 220h8M456 220h8M456 228h8M40 236h24M72 236h8M136 236h8M264 236h8M456 236h8M40 244h8M64 244h8M136 244h8M264 244h8M456 244h8M200 252h8M456 252h8M32 260h8M200 260h8M456 260h8M552 260h16M256 268h8M544 268h8M568 268h8M128 276h8M256 276h8M568 276h8M128 284h8M568 284h8M192 292h8M520 292h8M192 300h8M512 300h8M-24 308h8M16 308h8M248 308h8M448 308h8M568 308h8M-24 316h8M248 316h8M448 316h8M504 316h8M568 316h8M8 324h8M120 324h8M184 324h8M248 324h8M448 324h8M568 324h8M-8 332h16M120 332h8M448 332h8M496 332h8M448 340h8M448 348h8M488 348h8M176 356h8M448 356h8M560 356h8M480 364h8M240 372h8M480 372h8M112 380h8M168 380h8M240 380h8M552 380h8M112 388h8M240 388h8M440 388h8M472 388h8M112 396h8M240 396h8M440 396h8M472 396h8M112 404h8M160 404h8M440 404h8M112 412h8M440 412h8M464 420h8M536 420h8M152 428h8M464 428h8M432 436h8M464 436h8M528 436h8M144 444h8M432 444h8M464 444h8M520 444h8M112 452h8M144 452h8M232 452h8M464 452h8M112 460h8M136 460h8M232 460h8M464 460h8M512 460h8M112 468h8M136 468h8M232 468h8M424 468h8M464 468h8M504 468h8M112 476h24M424 476h8M472 476h8M496 476h8M112 484h16M224 484h8M472 484h16M224 492h8M416 492h8M216 500h8M408 508h8M576 508h24M208 516h8M568 516h8M592 516h8M200 524h8M400 524h8M560 532h8M600 532h8M656 532h8M672 532h8M192 540h8M392 540h8M552 540h8M600 540h8M680 540h8M600 548h8M184 556h8M384 556h8M600 556h8M544 564h8M640 564h8M176 572h8M376 572h8M368 580h8M40 588h8M72 588h8M168 588h8M368 588h8M536 588h8M592 588h8M536 596h8M592 596h8M632 596h8M80 604h8M248 604h16M360 604h8M632 604h8M16 612h8M80 612h8M248 612h24M632 612h8M80 620h8M240 620h8M264 620h8M584 620h8M632 620h8M80 628h8M264 628h8M352 628h8M80 636h8M152 636h8M232 636h8M576 636h8M632 636h8M0 644h8M272 644h8M632 644h8M680 644h8M224 652h8M272 652h8M344 652h8M536 652h8M568 652h8M632 652h8M680 652h8M72 660h8M144 660h8M272 660h8M344 660h8M536 660h8M560 660h8M144 668h8M216 668h8M272 668h8M544 668h16M672 668h8M-8 676h8M272 676h8M336 676h8M-8 684h8M208 684h8M664 684h8M-8 692h8M200 692h8M328 692h8M648 692h16M280 700h8"/><path stroke="#0e0e0e" d="M336 4h8M480 4h24M608 4h8M472 12h8M216 20h8M464 20h8M504 20h8M208 28h24M432 28h8M456 28h8M504 28h8M200 36h8M224 36h8M328 36h8M432 36h8M448 36h8M504 36h8M120 44h8M200 44h8M224 44h8M328 44h8M432 44h24M504 44h8M192 52h8M224 52h8M328 52h8M432 52h16M504 52h8M592 52h8M128 60h8M192 60h8M224 60h8M328 60h8M424 60h24M504 60h8M80 68h8M128 68h8M224 68h8M328 68h8M424 68h16M504 68h8M688 68h8M184 76h8M224 76h8M424 76h16M72 84h8M224 84h8M680 84h8M224 92h8M64 100h8M128 100h8M176 100h8M496 100h8M128 108h8M496 108h8M664 108h8M128 116h8M328 116h8M56 124h8M168 124h8M592 124h8M320 132h8M488 132h8M592 132h8M8 140h8M312 140h8M600 140h8M632 140h8M0 148h8M120 148h8M160 148h8M216 148h8M480 148h8M608 148h16M-8 156h8M24 156h8M48 156h8M160 156h8M216 156h8M304 156h8M472 164h8M-16 172h8M32 172h16M112 172h8M296 172h8M472 172h8M40 180h8M152 180h8M464 180h8M40 188h8M152 188h8M288 188h8M464 188h8M208 196h8M-24 204h8M96 204h8M208 204h8M280 204h8M456 204h8M40 212h8M144 212h8M456 212h8M40 220h16M88 220h8M144 220h8M40 228h16M80 228h8M272 228h8M64 236h8M200 244h8M32 252h8M136 252h8M264 252h8M136 260h8M448 260h8M448 268h8M552 268h16M192 276h8M448 276h8M536 276h8M560 276h8M24 284h8M192 284h8M256 284h8M448 284h8M528 284h8M128 292h8M256 292h8M448 292h8M568 292h8M-24 300h8M128 300h8M448 300h8M568 300h8M184 308h8M512 308h8M8 316h8M184 316h8M-16 324h8M0 324h8M504 324h8M248 332h8M120 340h8M176 340h8M248 340h8M496 340h8M120 348h8M176 348h8M248 348h8M560 348h8M120 356h8M488 356h8M440 364h8M168 372h8M440 372h8M552 372h8M440 380h8M480 380h8M160 396h8M544 396h8M240 404h8M472 404h8M152 412h8M240 412h8M472 412h8M536 412h8M112 420h8M152 420h8M240 420h8M432 420h8M472 420h8M112 428h8M240 428h8M432 428h8M528 428h8M112 436h8M144 436h8M240 436h8M112 444h8M120 452h8M136 452h8M424 452h8M512 452h8M120 460h16M424 460h8M472 460h8M504 460h8M120 468h16M472 468h16M496 468h8M232 476h8M480 476h16M232 484h8M416 484h8M224 500h8M408 500h8M216 508h8M400 516h8M576 516h16M208 524h8M568 524h8M592 524h8M200 532h8M392 532h8M592 532h8M664 532h8M656 540h8M672 540h8M192 548h8M384 548h8M552 548h8M648 548h8M680 548h8M680 556h8M376 564h8M368 572h8M544 572h8M640 572h8M592 580h8M48 588h24M360 588h8M32 596h8M72 596h8M168 596h8M248 596h16M360 596h8M24 604h8M264 604h8M536 604h8M160 612h8M240 612h8M352 612h8M536 612h8M584 612h8M272 620h8M352 620h8M536 620h8M8 628h8M232 628h8M272 628h8M536 628h8M576 628h8M632 628h8M272 636h8M536 636h8M680 636h8M152 644h8M224 644h8M344 644h8M536 644h8M568 644h8M0 652h8M72 652h8M544 652h8M560 652h8M216 660h8M544 660h16M336 668h8M64 676h8M144 676h8M208 676h8M640 676h8M664 676h8M144 684h8M280 684h8M328 684h8M648 684h16M56 692h8M144 692h8M280 692h8M48 700h8M144 700h8M192 700h8M320 700h8"/><path stroke="#101010" d="M432 -20h8M344 -12h8M432 -12h8M616 -12h8M432 -4h8M432 4h8M336 12h8M432 12h8M480 12h24M432 20h8M472 20h8M496 20h8M464 28h8M600 28h8M208 36h16M456 36h8M104 44h16M208 44h16M424 44h8M696 44h8M96 52h8M120 52h8M200 52h8M216 52h8M424 52h8M448 52h8M88 60h8M216 60h8M592 60h8M688 60h8M192 68h8M416 68h8M440 68h8M592 68h8M128 76h8M336 76h8M416 76h8M128 84h8M184 84h8M336 84h8M416 84h24M128 92h8M336 92h8M416 92h16M496 92h8M672 92h8M336 100h8M64 108h8M176 108h8M336 108h8M592 108h8M216 116h8M592 116h8M656 116h8M216 124h8M328 124h8M488 124h8M648 124h8M56 132h8M168 132h8M216 132h8M600 132h8M640 132h8M120 140h8M216 140h8M480 140h8M608 140h8M624 140h8M8 148h16M312 148h8M472 156h8M24 164h8M48 164h8M112 164h8M160 164h8M304 164h8M48 172h8M464 172h8M-16 180h8M32 180h8M48 180h8M208 180h8M32 188h8M104 188h8M208 188h8M456 188h8M40 196h8M152 196h8M456 196h8M40 204h16M-24 212h8M48 212h8M88 212h8M280 212h8M-24 220h8M56 220h8M80 220h8M448 220h8M56 228h24M144 228h8M200 228h8M448 228h8M32 236h8M200 236h8M448 236h8M32 244h8M448 244h8M448 252h8M264 260h8M136 268h8M192 268h8M24 276h8M544 276h16M536 284h8M560 284h8M-24 292h8M528 292h8M16 300h8M184 300h8M256 300h8M520 300h8M128 308h8M-16 316h8M128 316h8M512 316h8M-8 324h8M176 332h8M440 332h8M560 332h8M440 340h8M560 340h8M440 348h8M496 348h8M168 356h8M248 356h8M440 356h8M120 364h8M168 364h8M248 364h8M488 364h8M552 364h8M120 372h8M120 380h8M160 380h8M120 388h8M160 388h8M480 388h8M544 388h8M120 396h8M480 396h8M120 404h8M152 404h8M432 404h8M536 404h8M120 412h8M432 412h8M120 420h8M144 420h8M528 420h8M120 428h8M144 428h8M472 428h8M120 436h8M136 436h8M472 436h8M520 436h8M120 444h24M240 444h8M424 444h8M472 444h8M128 452h8M240 452h8M472 452h8M240 460h8M480 460h8M496 460h8M240 468h8M488 468h8M416 476h8M232 492h8M408 492h8M232 500h8M224 508h8M400 508h8M216 516h8M392 524h8M576 524h16M208 532h8M568 532h8M200 540h8M384 540h8M560 540h8M592 540h8M664 540h8M592 548h8M376 556h8M552 556h8M592 556h8M648 556h8M184 564h8M592 564h8M680 564h8M592 572h8M176 580h8M360 580h8M544 580h8M640 580h8M248 588h16M544 588h8M40 596h8M64 596h8M240 596h8M264 596h8M584 596h8M72 604h8M240 604h8M352 604h8M584 604h8M72 612h8M272 612h8M16 620h8M160 620h8M232 620h8M576 620h8M344 628h8M680 628h8M224 636h8M344 636h8M568 636h8M72 644h8M544 644h8M560 644h8M152 652h8M216 652h8M552 652h8M0 660h8M280 660h8M336 660h8M672 660h8M64 668h8M208 668h8M280 668h8M640 668h8M280 676h8M648 676h8M56 684h8M200 684h8M320 692h8M0 700h8M288 700h8"/><path stroke="#121212" d="M352 -20h8M344 -4h8M608 12h8M336 20h8M480 20h16M336 28h8M472 28h8M496 28h8M424 36h8M464 36h8M496 36h8M600 36h8M696 36h8M456 44h8M104 52h16M208 52h8M416 52h8M120 60h8M200 60h16M336 60h8M416 60h8M448 60h8M200 68h8M216 68h8M336 68h8M80 76h8M192 76h8M216 76h8M408 76h8M440 76h8M496 76h8M592 76h8M680 76h8M216 84h8M344 84h8M408 84h8M440 84h8M496 84h8M592 84h8M72 92h8M184 92h8M216 92h8M344 92h8M408 92h8M432 92h8M592 92h8M184 100h8M216 100h8M344 100h8M416 100h24M592 100h8M216 108h8M424 108h8M488 108h8M64 116h8M176 116h8M336 116h8M488 116h8M120 132h8M328 132h8M480 132h8M56 140h8M168 140h8M320 140h8M616 140h8M472 148h8M0 156h8M16 156h8M312 156h8M-8 164h8M208 164h8M464 164h8M160 172h8M208 172h8M104 180h8M296 180h8M456 180h8M-16 188h8M48 188h8M32 196h8M48 196h8M96 196h8M288 196h8M448 196h8M32 204h8M152 204h8M448 204h8M32 212h8M56 212h8M200 212h8M448 212h8M32 220h8M64 220h16M200 220h8M-24 228h8M32 228h8M144 236h8M272 236h8M144 244h8M192 252h8M192 260h8M24 268h8M264 268h8M-24 276h8M136 276h8M-24 284h8M136 284h8M544 284h16M16 292h8M184 292h8M560 292h8M560 300h8M-16 308h8M8 308h8M256 308h8M440 308h8M520 308h8M560 308h8M-8 316h16M256 316h8M440 316h8M560 316h8M128 324h8M176 324h8M440 324h8M560 324h8M128 332h8M504 332h8M168 348h8M552 356h8M160 372h8M248 372h8M488 372h8M248 380h8M544 380h8M248 388h8M152 396h8M432 396h8M480 404h8M144 412h8M128 420h16M128 428h16M128 436h8M424 436h8M480 444h8M512 444h8M480 452h8M504 452h8M488 460h8M416 468h8M240 476h8M240 484h8M232 508h8M224 516h8M216 524h8M576 532h16M568 540h8M584 540h8M376 548h8M560 548h8M656 548h8M672 548h8M192 556h8M368 564h8M552 564h8M184 572h8M248 572h16M552 572h8M680 572h8M248 580h16M176 588h8M240 588h8M264 588h8M584 588h8M640 588h8M48 596h16M272 596h8M352 596h8M544 596h8M32 604h8M168 604h8M272 604h8M544 604h8M24 612h8M232 612h8M544 612h8M576 612h8M680 612h8M72 620h8M280 620h8M344 620h8M544 620h8M680 620h8M72 628h8M160 628h8M224 628h8M280 628h8M544 628h8M568 628h8M8 636h8M72 636h8M280 636h8M544 636h8M560 636h8M280 644h8M552 644h8M280 652h8M336 652h8M640 652h8M672 652h8M152 660h8M640 660h8M0 668h8M152 668h8M664 668h8M0 676h8M328 676h8M656 676h8M0 684h8M0 692h8M152 692h8M192 692h8M288 692h8M152 700h8M184 700h8M296 700h24"/><path stroke="#141414" d="M624 -20h8M616 -4h8M424 28h8M480 28h16M696 28h8M336 36h8M336 44h8M464 44h8M496 44h8M600 44h8M336 52h8M456 52h8M496 52h8M688 52h8M96 60h8M112 60h8M496 60h8M88 68h8M120 68h8M208 68h8M408 68h8M448 68h8M496 68h8M120 76h8M200 76h16M344 76h8M80 84h8M192 84h8M208 84h8M400 84h8M192 92h8M208 92h8M400 92h8M440 92h8M72 100h8M408 100h8M488 100h8M664 100h8M184 108h8M344 108h8M416 108h8M432 108h8M656 108h8M120 116h8M424 116h8M120 124h8M176 124h8M336 124h8M480 124h8M600 124h8M640 124h8M608 132h32M208 140h8M472 140h8M56 148h8M168 148h8M208 148h8M320 148h8M8 156h8M56 156h8M112 156h8M168 156h8M208 156h8M464 156h8M-8 172h8M24 172h8M304 172h8M456 172h8M160 180h8M448 180h8M448 188h8M56 204h8M88 204h8M200 204h8M288 204h8M80 212h8M152 212h8M280 220h8M-24 236h8M-24 244h8M192 244h8M272 244h8M-24 252h8M144 252h8M-24 260h8M24 260h8M-24 268h8M440 268h8M264 276h8M440 276h8M184 284h8M440 284h8M136 292h8M440 292h8M536 292h24M136 300h8M440 300h8M528 300h8M176 316h8M256 324h8M512 324h8M128 340h8M168 340h8M504 340h8M128 348h8M552 348h8M128 356h8M496 356h8M128 364h8M160 364h8M128 372h8M128 380h8M432 380h8M488 380h8M128 388h8M152 388h8M432 388h8M128 396h8M248 396h8M536 396h8M128 404h8M144 404h8M248 404h8M128 412h16M480 412h8M528 412h8M480 420h8M424 428h8M480 428h8M520 428h8M480 436h8M512 436h8M504 444h8M488 452h16M416 460h8M408 484h8M240 492h8M240 500h8M400 500h8M240 508h8M232 516h8M392 516h8M224 524h16M216 532h8M384 532h8M208 540h8M576 540h8M200 548h8M568 548h8M584 548h8M664 548h8M368 556h8M560 556h8M584 556h8M672 556h8M192 564h8M248 564h16M584 564h8M648 564h8M240 572h8M360 572h8M584 572h8M240 580h8M264 580h8M552 580h8M584 580h8M680 580h8M272 588h8M352 588h8M680 588h8M640 596h8M680 596h8M64 604h8M232 604h8M576 604h8M680 604h8M168 612h8M280 612h8M344 612h8M568 620h8M552 628h16M160 636h8M552 636h8M8 644h8M216 644h8M336 644h8M640 644h8M64 660h8M208 660h8M328 668h8M648 668h16M152 676h8M200 676h8M288 676h8M152 684h8M192 684h8M288 684h8M320 684h8M48 692h8M296 692h8M312 692h8M40 700h8"/><path stroke="#161616" d="M424 -20h8M352 -12h8M344 4h8M424 12h8M424 20h8M608 20h8M472 36h24M416 44h8M600 52h8M104 60h8M408 60h8M456 60h8M344 68h8M680 68h8M88 76h8M400 76h8M448 76h8M120 84h8M200 84h8M352 84h8M392 84h8M448 84h8M672 84h8M120 92h8M200 92h8M352 92h8M392 92h8M488 92h8M120 100h8M192 100h8M208 100h8M352 100h8M400 100h8M440 100h8M120 108h8M208 108h8M352 108h8M408 108h8M440 108h8M184 116h8M208 116h8M344 116h8M416 116h8M432 116h8M480 116h8M600 116h8M648 116h8M64 124h8M208 124h8M424 124h16M608 124h8M176 132h8M208 132h8M472 132h8M176 140h8M328 140h8M112 148h8M464 148h8M456 156h8M0 164h8M16 164h8M56 164h8M168 164h8M312 164h8M456 164h8M56 172h8M104 172h8M448 172h8M24 180h8M56 180h8M56 188h8M96 188h8M160 188h8M200 188h8M296 188h8M-16 196h8M56 196h8M200 196h8M64 212h16M440 212h8M152 220h8M440 220h8M152 228h8M280 228h8M440 228h8M192 236h8M440 236h8M440 244h8M24 252h8M272 252h8M440 252h8M144 260h8M440 260h8M184 268h8M184 276h8M16 284h8M264 284h8M-16 300h8M8 300h8M176 300h8M536 300h8M552 300h8M-8 308h16M136 308h8M176 308h8M528 308h8M552 308h8M136 316h8M520 316h8M168 332h8M256 332h8M512 332h8M552 332h8M256 340h8M552 340h8M504 348h8M160 356h8M432 364h8M496 364h8M152 372h8M432 372h8M544 372h8M152 380h8M136 388h16M488 388h8M136 396h16M488 396h8M136 404h8M248 412h8M248 420h8M424 420h8M520 420h8M248 428h8M248 436h8M488 436h8M488 444h16M416 452h8M408 476h8M240 516h8M240 524h8M224 532h24M216 540h8M240 540h8M376 540h8M208 548h8M240 548h16M576 548h8M200 556h8M240 556h24M568 556h16M656 556h8M240 564h8M360 564h8M560 564h8M264 572h8M648 572h8M184 580h8M352 580h8M232 588h8M552 588h8M576 588h8M176 596h8M232 596h8M552 596h8M576 596h8M40 604h8M56 604h8M280 604h8M344 604h8M552 604h8M640 604h8M64 612h8M552 612h8M568 612h8M640 612h8M168 620h8M224 620h8M552 620h16M640 620h8M16 628h8M640 628h8M216 636h8M336 636h8M640 636h8M160 644h8M672 644h8M64 652h8M288 660h8M328 660h8M648 660h8M664 660h8M200 668h8M288 668h8M56 676h8M320 676h8M296 684h8M312 684h8M160 692h8M184 692h8M304 692h8M8 700h8M160 700h24"/><path stroke="#181818" d="M424 -12h8M624 -12h8M424 -4h8M424 4h8M616 4h8M344 12h8M696 20h8M608 28h8M416 36h8M472 44h24M688 44h8M408 52h8M464 52h8M488 52h8M344 60h8M488 60h8M600 60h8M96 68h24M400 68h8M456 68h8M488 68h8M352 76h8M392 76h8M488 76h8M360 84h8M488 84h8M80 92h8M360 92h8M384 92h8M448 92h8M664 92h8M200 100h8M360 100h8M392 100h8M600 100h8M72 108h8M192 108h16M400 108h8M480 108h8M600 108h8M192 116h16M352 116h8M408 116h8M440 116h8M184 124h8M200 124h8M344 124h8M416 124h8M440 124h8M472 124h8M616 124h8M632 124h8M64 132h8M336 132h8M424 132h16M112 140h8M464 140h8M176 148h8M456 148h8M200 156h8M448 156h8M8 164h8M104 164h8M200 164h8M448 164h8M168 172h8M200 172h8M440 172h8M-8 180h8M200 180h8M304 180h8M440 180h8M24 188h8M440 188h8M24 196h8M88 196h8M160 196h8M440 196h8M-16 204h8M64 204h8M80 204h8M160 204h8M440 204h8M192 220h8M192 228h8M152 236h8M24 244h8M184 260h8M144 268h8M16 276h8M144 276h8M-16 292h8M176 292h8M264 292h8M544 300h8M552 316h8M136 324h8M168 324h8M552 324h8M136 332h8M136 340h8M136 348h8M160 348h8M256 348h8M432 348h8M136 356h8M432 356h8M136 364h8M152 364h8M544 364h8M136 372h16M496 372h8M136 380h16M536 388h8M488 404h8M528 404h8M424 412h8M488 412h8M488 420h8M488 428h8M512 428h8M496 436h16M248 444h8M248 452h8M248 460h8M248 468h8M248 476h8M248 484h8M400 492h8M392 508h8M248 516h8M248 524h8M384 524h8M248 532h8M224 540h16M248 540h8M216 548h8M232 548h8M256 548h8M368 548h8M232 556h8M664 556h8M232 564h8M264 564h8M568 564h16M656 564h8M672 564h8M192 572h8M232 572h8M560 572h24M232 580h8M272 580h8M560 580h8M576 580h8M648 580h8M560 588h8M280 596h8M344 596h8M568 596h8M48 604h8M176 604h8M560 604h16M32 612h8M224 612h8M560 612h8M24 620h8M64 620h8M288 620h8M336 620h8M288 628h8M336 628h8M288 636h8M672 636h8M64 644h8M288 644h8M8 652h8M160 652h8M208 652h8M288 652h8M328 652h8M160 660h8M656 660h8M320 668h8M192 676h8M296 676h8M48 684h8M160 684h8M304 684h8M8 692h8M176 692h8M16 700h8M32 700h8"/><path stroke="#1a1a1a" d="M360 -20h8M352 -4h8M696 12h8M344 20h8M344 28h8M416 28h8M344 36h8M344 44h8M344 52h8M472 52h16M400 60h8M464 60h8M680 60h8M352 68h8M600 68h8M96 76h8M112 76h8M360 76h8M456 76h8M600 76h8M672 76h8M88 84h8M368 84h24M456 84h8M600 84h8M368 92h16M600 92h8M368 100h24M448 100h8M480 100h8M656 100h8M360 108h8M392 108h8M448 108h8M648 108h8M400 116h8M448 116h8M472 116h8M608 116h8M640 116h8M192 124h8M408 124h8M448 124h8M624 124h8M112 132h8M184 132h24M416 132h8M440 132h16M464 132h8M64 140h8M184 140h8M200 140h8M424 140h40M200 148h8M328 148h8M432 148h24M176 156h8M320 156h8M440 156h8M440 164h8M0 172h8M16 172h8M96 180h8M168 180h8M64 196h8M296 196h8M24 204h8M72 204h8M192 204h8M24 212h8M160 212h8M192 212h8M288 212h8M24 220h8M24 228h8M24 236h8M152 244h8M184 244h8M184 252h8M272 260h8M144 284h8M176 284h8M8 292h8M144 292h8M-8 300h16M264 300h8M168 308h8M536 308h16M168 316h8M528 316h8M544 316h8M520 324h8M160 332h8M432 332h8M160 340h8M432 340h8M512 340h8M152 348h8M144 356h16M256 356h8M504 356h8M544 356h8M144 364h8M496 380h8M536 380h8M528 396h8M424 404h8M520 412h8M496 428h16M416 444h8M408 468h8M248 492h8M248 500h8M248 508h8M376 532h8M256 540h8M224 548h8M208 556h8M224 556h8M264 556h8M360 556h8M200 564h8M664 564h8M272 572h8M352 572h8M672 572h8M568 580h8M184 588h8M280 588h8M344 588h8M568 588h8M560 596h8M224 604h8M288 604h8M56 612h8M288 612h8M336 612h8M64 628h8M168 628h8M216 628h8M672 628h8M16 636h8M64 636h8M208 644h8M328 644h8M648 652h8M664 652h8M8 660h8M200 660h8M8 668h8M56 668h8M160 668h8M296 668h8M160 676h8M304 676h16M8 684h8M184 684h8M40 692h8M168 692h8M24 700h8"/><path stroke="#1c1c1c" d="M416 -20h8M632 -20h8M696 4h8M616 12h8M416 20h8M608 36h8M688 36h8M408 44h8M352 60h8M472 60h16M392 68h8M464 68h8M480 68h8M104 76h8M368 76h24M464 76h8M480 76h8M112 84h8M480 84h8M112 92h8M456 92h8M480 92h8M80 100h8M456 100h8M368 108h24M472 108h8M608 108h8M72 116h8M360 116h8M456 116h8M112 124h8M352 124h8M456 124h16M344 132h8M456 132h8M192 140h8M336 140h8M64 148h8M184 148h16M424 148h8M104 156h8M184 156h16M432 156h8M176 164h8M192 164h8M432 164h8M8 172h8M176 172h8M192 172h8M312 172h8M432 172h8M16 180h8M192 180h8M-8 188h8M64 188h8M88 188h8M168 188h8M192 188h8M72 196h16M168 196h8M192 196h8M-16 212h8M160 220h8M184 236h8M280 236h8M152 252h8M152 260h8M16 268h8M176 268h8M176 276h8M-16 284h8M144 300h8M168 300h8M144 308h8M432 308h8M144 316h8M432 316h8M536 316h8M144 324h8M160 324h8M432 324h8M528 324h8M544 324h8M144 332h8M520 332h8M544 332h8M144 340h16M544 340h8M144 348h8M544 348h8M256 364h8M504 364h8M256 372h8M536 372h8M496 388h8M424 396h8M496 396h8M496 412h8M496 420h24M384 516h8M256 532h8M216 556h8M224 564h8M224 572h8M656 572h8M192 580h8M224 580h8M280 580h8M344 580h8M672 580h8M224 588h8M648 588h8M672 588h8M184 596h8M224 596h8M288 596h8M336 604h8M40 612h16M176 612h8M216 620h8M672 620h8M24 628h8M168 636h8M328 636h8M648 644h8M664 644h8M296 652h8M656 652h8M56 660h8M296 660h8M320 660h8M192 668h8M312 668h8M8 676h8M168 684h16M16 692h8"/><path stroke="#1e1e1e" d="M696 -20h8M360 -12h8M416 -12h8M696 -12h8M624 -4h8M696 -4h8M352 4h8M416 12h8M408 36h8M608 44h8M400 52h8M680 52h8M392 60h8M360 68h8M384 68h8M472 68h8M472 76h8M96 84h16M464 84h16M664 84h8M88 92h8M464 92h16M112 100h8M464 100h16M112 108h8M456 108h16M112 116h8M368 116h8M384 116h16M464 116h8M616 116h24M72 124h8M400 124h8M408 132h8M416 140h8M104 148h8M64 156h8M424 156h8M64 164h8M184 164h8M320 164h8M64 172h8M96 172h8M184 172h8M64 180h8M176 180h8M432 180h8M304 188h8M432 188h8M432 196h8M168 204h8M432 204h8M184 212h8M-16 220h8M184 220h8M288 220h8M160 228h8M184 228h8M160 236h8M16 260h8M176 260h8M152 268h8M272 268h8M-16 276h8M152 276h8M8 284h8M152 284h8M168 284h8M-8 292h16M152 292h8M168 292h8M432 292h8M432 300h8M152 308h16M264 308h8M152 316h16M152 324h8M536 324h8M152 332h8M512 348h8M536 364h8M504 372h8M256 380h8M528 388h8M496 404h8M520 404h8M504 412h16M416 436h8M400 484h8M392 500h8M256 524h8M368 540h8M264 548h8M208 564h16M272 564h8M352 564h8M200 572h8M664 572h8M336 596h8M648 596h8M672 596h8M672 604h8M216 612h8M672 612h8M32 620h8M56 620h8M176 620h8M296 620h8M296 628h8M328 628h8M208 636h8M296 636h8M648 636h8M16 644h8M168 644h8M296 644h8M168 652h8M200 652h8M320 652h8M168 668h8M304 668h8M48 676h8M168 676h24M40 684h8M24 692h16"/><path stroke="#202020" d="M368 -20h8M416 -4h8M416 4h8M352 12h8M616 20h8M688 28h8M352 52h8M608 52h8M368 68h16M672 68h8M656 92h8M608 100h8M80 108h8M640 108h8M376 116h8M360 124h8M72 132h8M416 148h8M96 164h8M424 164h8M0 180h16M88 180h8M184 180h8M16 188h8M72 188h16M176 188h16M-8 196h8M176 196h16M176 204h16M296 204h8M168 212h16M432 212h8M168 220h8M432 220h8M-16 228h8M168 228h16M432 228h8M-16 236h8M176 236h8M432 236h8M160 244h8M176 244h8M280 244h8M432 244h8M160 252h8M176 252h8M432 252h8M-16 260h8M160 260h8M432 260h8M-16 268h8M160 268h16M432 268h8M160 276h16M432 276h8M160 284h8M432 284h8M160 292h8M152 300h16M264 316h8M528 332h16M520 340h8M536 340h8M536 348h8M512 356h8M536 356h8M504 380h8M528 380h8M256 388h8M424 388h8M504 388h8M256 396h8M520 396h8M504 404h16M408 460h8M256 508h8M256 516h8M376 524h8M264 540h8M360 548h8M208 572h16M280 572h8M200 580h8M216 580h8M656 580h16M192 588h8M288 588h8M336 588h8M216 596h8M184 604h8M216 604h8M296 604h8M648 604h8M296 612h8M328 612h8M648 612h8M328 620h8M648 620h8M56 628h8M208 628h8M648 628h8M664 636h8M320 644h8M656 644h8M16 652h8M56 652h8M304 652h8M168 660h8M192 660h8M304 660h16M184 668h8M16 684h8"/><path stroke="#222222" d="M632 -12h8M360 -4h8M624 4h8M352 20h8M688 20h8M408 28h8M352 36h8M352 44h8M400 44h8M360 60h8M384 60h8M608 60h8M608 84h8M96 92h16M608 92h8M88 100h8M648 100h8M616 108h8M392 124h8M352 132h8M400 132h8M72 140h8M104 140h8M344 140h8M408 140h8M336 148h8M328 156h8M424 172h8M72 180h16M312 180h8M16 196h8M176 220h8M168 236h8M-16 244h8M168 244h8M-16 252h8M16 252h8M168 252h8M168 260h8M8 276h8M272 276h8M-8 284h8M264 324h8M528 340h8M520 348h8M512 364h8M424 372h8M528 372h8M424 380h8M520 388h8M504 396h16M256 404h8M256 412h8M416 428h8M256 492h8M256 500h8M272 556h8M344 572h8M208 580h8M288 580h8M216 588h8M656 588h16M192 596h8M296 596h8M328 604h8M40 620h16M208 620h8M176 628h8M664 628h8M24 636h8M56 636h8M304 636h8M320 636h8M656 636h8M56 644h8M200 644h8M304 644h8M312 652h8M16 660h8M176 660h8M48 668h8M176 668h8M16 676h8"/><path stroke="#242424" d="M408 -20h8M352 28h8M616 28h8M680 44h8M360 52h8M392 52h8M368 60h16M608 68h8M608 76h8M664 76h8M96 100h16M104 108h8M624 108h16M80 116h8M104 116h8M104 124h8M368 124h24M104 132h8M72 148h8M72 156h8M96 156h8M416 156h8M72 164h8M72 172h8M88 172h8M424 180h8M0 188h16M-8 204h8M16 204h8M288 228h8M16 244h8M0 284h8M264 332h8M528 348h8M520 356h16M424 364h8M520 364h16M512 372h16M512 380h16M512 388h8M256 420h8M256 428h8M256 436h8M256 444h8M256 452h8M408 452h8M256 460h8M256 468h8M256 476h8M400 476h8M256 484h8M392 492h8M384 508h8M264 532h8M368 532h8M352 556h8M280 564h8M336 580h8M200 588h16M208 596h8M328 596h8M656 596h16M664 604h8M184 612h8M208 612h8M304 612h8M664 612h8M304 620h8M320 620h8M664 620h8M32 628h8M304 628h8M320 628h8M656 628h8M176 636h8M200 636h8M312 636h8M176 644h8M312 644h8M176 652h8M192 652h8M184 660h8M16 668h8M40 676h8M24 684h16"/><path stroke="#262626" d="M376 -20h8M640 -20h8M368 -12h8M408 -12h8M360 4h8M688 12h8M408 20h8M400 36h8M672 60h8M656 84h8M616 100h8M640 100h8M88 108h8M80 124h8M360 132h8M392 132h8M96 148h8M408 148h8M88 164h8M80 172h8M320 172h8M424 188h8M304 196h8M16 212h8M296 212h8M16 220h8M16 228h8M16 236h8M280 252h8M8 268h8M-8 276h8M272 284h8M424 356h8M416 420h8M264 524h8M272 548h8M344 564h8M288 572h8M296 588h8M200 596h8M192 604h8M208 604h8M304 604h8M656 604h8M320 612h8M656 612h8M184 620h8M312 620h8M656 620h8M40 628h16M184 628h8M200 628h8M312 628h8M24 644h8M184 644h16M184 652h8M48 660h8"/><path stroke="#282828" d="M400 -20h8M688 -20h8M408 -4h8M632 -4h8M688 -4h8M408 4h8M688 4h8M408 12h8M624 12h8M616 36h8M680 36h8M360 44h8M392 44h8M368 52h8M384 52h8M616 92h8M648 92h8M624 100h8M96 108h8M88 116h16M80 132h8M96 140h8M352 140h8M400 140h8M88 156h8M80 164h8M328 164h8M416 164h8M0 196h16M424 196h8M-8 212h8M-8 268h8M0 276h8M264 340h8M424 348h8M416 412h8M376 516h8M360 540h8M336 572h8M296 580h8M328 588h8M304 596h8M200 604h8M312 604h16M192 612h16M312 612h8M192 620h16M192 628h8M32 636h8M48 636h8M184 636h16M48 644h8M24 652h8M48 652h8M40 668h8M24 676h16"/><path stroke="#2a2a2a" d="M384 -20h16M688 -12h8M368 -4h8M360 12h8M400 28h8M360 36h8M616 44h8M376 52h8M672 52h8M664 68h8M632 100h8M88 124h16M96 132h8M368 132h24M80 140h8M80 148h16M344 148h8M80 156h8M336 156h8M424 204h8M-8 220h8M-8 260h8M8 260h8M272 292h8M424 332h8M424 340h8M264 348h8M408 444h8M400 468h8M264 516h8M272 540h8M352 548h8M280 556h8M304 588h8M312 596h16M40 636h8M24 660h8M24 668h8"/><path stroke="#2c2c2c" d="M376 -12h8M400 -12h8M640 -12h8M360 20h8M624 20h8M360 28h8M680 28h8M368 44h8M384 44h8M616 52h8M616 84h8M88 132h8M88 140h8M392 140h8M408 156h8M416 172h8M312 188h8M0 204h16M424 212h8M-8 228h8M288 236h8M-8 252h8M8 252h8M280 260h8M0 268h8M424 324h8M264 356h8M416 404h8M392 484h8M384 500h8M264 508h8M368 524h8M344 556h8M288 564h8M328 580h8M312 588h16M32 644h16M40 660h8M32 668h8"/><path stroke="#2e2e2e" d="M400 -4h8M632 4h8M400 20h8M392 36h8M376 44h8M616 60h8M616 68h8M616 76h8M656 76h8M648 84h8M624 92h8M640 92h8M360 140h8M400 148h8M416 180h8M304 204h8M0 212h16M296 220h8M424 220h8M424 228h8M-8 236h8M-8 244h8M8 244h8M0 260h8M272 300h8M424 308h8M424 316h8M264 364h8M264 500h8M272 532h8M280 548h8M336 564h8M296 572h8M304 580h8M32 652h16M32 660h8"/><path stroke="#303030" d="M648 -20h8M680 -20h8M384 -12h16M368 4h8M400 4h8M400 12h8M680 20h8M368 36h8M672 44h8M664 60h8M632 92h8M368 140h8M384 140h8M352 148h8M408 164h8M320 180h8M8 220h8M8 228h8M8 236h8M424 236h8M424 244h8M424 252h8M424 260h8M424 276h8M424 284h8M424 292h8M424 300h8M264 372h8M416 396h8M408 436h8M264 492h8M360 532h8M328 572h8M312 580h16"/><path stroke="#323232" d="M680 -12h8M376 -4h8M368 12h8M680 12h8M368 20h8M368 28h8M392 28h8M624 28h8M376 36h16M624 84h8M376 140h8M344 156h8M336 164h8M328 172h8M416 188h8M0 220h8M0 228h8M0 244h8M0 252h8M280 268h8M424 268h8M272 308h8M264 380h8M264 388h8M400 460h8M264 484h8M376 508h8M272 524h8M352 540h8M288 556h8M296 564h8M304 572h8"/><path stroke="#343434" d="M384 -4h16M640 -4h8M680 -4h8M376 4h8M680 4h8M632 12h8M392 20h8M624 36h8M656 68h8M632 84h16M392 148h8M400 156h8M312 196h8M0 236h8M288 244h8M416 388h8M264 396h8M264 476h8M280 540h8M344 548h8M312 572h16"/><path stroke="#363636" d="M656 -20h8M672 -20h8M648 -12h8M392 4h8M392 12h8M376 28h16M672 36h8M624 76h8M648 76h8M360 148h8M408 172h8M416 196h8M272 316h8M264 404h8M264 412h8M264 460h8M264 468h8M392 476h8M384 492h8M272 516h8M368 516h8M336 556h8M328 564h8"/><path stroke="#383838" d="M664 -20h8M384 4h8M376 12h16M376 20h16M624 44h8M624 52h8M664 52h8M624 60h8M624 68h8M368 148h8M384 148h8M416 204h8M304 212h8M296 228h8M280 276h8M416 380h8M264 420h8M264 428h8M408 428h8M264 436h8M264 444h8M264 452h8M288 548h8M296 556h8M304 564h8"/><path stroke="#3a3a3a" d="M672 -12h8M640 4h8M632 20h8M672 28h8M632 76h16M376 148h8M352 156h8M392 156h8M400 164h8M408 180h8M320 188h8M272 324h8M416 372h8M400 452h8M272 508h8M360 524h8M280 532h8M312 564h16"/><path stroke="#3c3c3c" d="M656 -12h8M648 -4h8M672 -4h8M672 20h8M664 44h8M656 60h8M648 68h8M344 164h8M328 180h8M416 212h8M288 252h8M416 364h8M352 532h8M328 556h8"/><path stroke="#3e3e3e" d="M664 -12h8M672 4h8M672 12h8M632 28h8M632 68h8M336 172h8M416 220h8M272 332h8M416 356h8M408 420h8M272 500h8M376 500h8M288 540h8M344 540h8M336 548h8M304 556h8"/><path stroke="#404040" d="M640 12h8M632 36h8M632 60h8M640 68h8M360 156h8M384 156h8M400 172h8M408 188h8M312 204h8M416 228h8M280 284h8M272 340h8M416 348h8M392 468h8M280 524h8M296 548h8M320 556h8"/><path stroke="#424242" d="M656 -4h16M648 4h8M664 36h8M632 44h8M632 52h8M656 52h8M648 60h8M368 156h16M392 164h8M416 236h8M416 340h8M384 484h8M272 492h8M368 508h8M312 556h8"/><path stroke="#444444" d="M664 4h8M640 20h8M664 28h8M640 60h8M352 164h8M408 196h8M304 220h8M296 236h8M416 244h8M416 324h8M416 332h8M272 348h8M408 412h8M400 444h8M280 516h8M288 532h8M328 548h8"/><path stroke="#464646" d="M656 4h8M664 12h8M664 20h8M656 44h8M648 52h8M400 180h8M320 196h8M416 252h8M288 260h8M280 292h8M416 308h8M416 316h8M272 356h8M272 484h8M360 516h8M304 548h8"/><path stroke="#484848" d="M648 12h8M640 28h8M640 36h8M640 52h8M384 164h8M344 172h8M328 188h8M416 260h8M416 268h8M416 276h8M416 284h8M416 292h8M416 300h8M272 364h8M272 476h8M352 524h8M344 532h8M296 540h8M336 540h8M312 548h16"/><path stroke="#4a4a4a" d="M656 12h8M648 20h8M656 36h8M640 44h16M360 164h8M392 172h8M336 180h8M408 204h8M272 372h8M408 404h8M272 468h8M376 492h8M280 508h8"/><path stroke="#4c4c4c" d="M656 20h8M648 28h16M648 36h8M368 164h16M280 300h8M272 380h8M272 460h8M392 460h8M288 524h8"/><path stroke="#4e4e4e" d="M400 188h8M312 212h8M408 212h8M296 244h8M272 388h8M408 396h8M400 436h8M272 452h8M384 476h8M304 540h8M328 540h8"/><path stroke="#505050" d="M352 172h8M288 268h8M272 396h8M272 404h8M272 436h8M272 444h8M280 500h8M368 500h8M296 532h8"/><path stroke="#525252" d="M384 172h8M392 180h8M408 220h8M304 228h8M280 308h8M272 412h8M272 420h8M272 428h8M288 516h8M336 532h8M312 540h16"/><path stroke="#545454" d="M344 180h8M400 196h8M320 204h8M408 388h8M280 492h8M360 508h8M352 516h8M344 524h8"/><path stroke="#565656" d="M360 172h8M376 172h8M336 188h8M328 196h8M408 228h8M304 532h8"/><path stroke="#585858" d="M368 172h8M408 236h8M280 316h8M408 380h8M400 428h8M392 452h8M296 524h8M328 532h8"/><path stroke="#5a5a5a" d="M384 180h8M392 188h8M400 204h8M288 276h8M408 372h8M280 484h8M376 484h8M288 508h8M312 532h8"/><path stroke="#5c5c5c" d="M352 180h8M312 220h8M408 244h8M296 252h8M280 324h8M384 468h8M320 532h8"/><path stroke="#5e5e5e" d="M408 252h8M408 364h8M280 476h8M336 524h8"/><path stroke="#606060" d="M376 180h8M400 212h8M304 236h8M408 260h8M280 332h8M408 348h8M408 356h8M400 420h8M368 492h8M288 500h8M296 516h8M344 516h8M304 524h8"/><path stroke="#626262" d="M360 180h16M344 188h8M392 196h8M408 268h8M408 276h8M288 284h8M408 332h8M408 340h8M280 468h8M360 500h8M352 508h8"/><path stroke="#646464" d="M384 188h8M320 212h8M408 284h8M408 292h8M408 300h8M408 308h8M408 316h8M408 324h8M280 340h8M280 460h8M312 524h8M328 524h8"/><path stroke="#666666" d="M336 196h8M328 204h8M400 220h8M280 348h8M392 444h8M288 492h8M320 524h8"/><path stroke="#686868" d="M392 204h8M296 260h8M400 412h8M280 452h8M296 508h8M304 516h8"/><path stroke="#6a6a6a" d="M352 188h8M376 188h8M400 228h8M280 356h8M280 364h8M280 444h8M376 476h8M336 516h8"/><path stroke="#6c6c6c" d="M384 196h8M312 228h8M288 292h8M280 372h8M280 428h8M280 436h8M384 460h8M288 484h8"/><path stroke="#6e6e6e" d="M360 188h16M400 236h8M304 244h8M280 380h8M280 388h8M280 396h8M280 404h8M280 412h8M280 420h8M296 500h8M344 508h8M312 516h8"/><path stroke="#707070" d="M344 196h8M392 212h8M400 404h8M368 484h8M320 516h16"/><path stroke="#727272" d="M400 244h8M392 436h8M288 476h8M352 500h8M304 508h8"/><path stroke="#747474" d="M376 196h8M336 204h8M320 220h8M296 268h8M288 300h8M360 492h8"/><path stroke="#767676" d="M352 196h8M384 204h8M328 212h8M392 220h8M400 252h8M400 396h8M288 468h8M296 492h8M336 508h8"/><path stroke="#787878" d="M368 196h8M312 508h8"/><path stroke="#7a7a7a" d="M360 196h8M400 260h8M288 308h8M376 468h8M304 500h8M328 508h8"/><path stroke="#7c7c7c" d="M392 228h8M400 268h8M400 388h8M384 452h8M288 460h8M320 508h8"/><path stroke="#7e7e7e" d="M344 204h8M376 204h8M384 212h8M312 236h8M304 252h8M400 276h8M288 452h8M296 484h8M344 500h8"/><path stroke="#808080" d="M400 284h8M400 292h8M288 316h8M400 380h8M392 428h8"/><path stroke="#828282" d="M392 236h8M296 276h8M400 300h8M400 308h8M400 372h8M288 444h8M368 476h8M304 492h8M352 492h8M312 500h8"/><path stroke="#848484" d="M352 204h8M368 204h8M336 212h8M384 220h8M400 316h8M400 324h8M400 332h8M400 356h8M400 364h8M288 436h8M296 476h8M360 484h8M336 500h8"/><path stroke="#868686" d="M360 204h8M320 228h8M288 324h8M400 340h8M400 348h8M320 500h16"/><path stroke="#888888" d="M376 212h8M328 220h8M392 244h8M288 428h8"/><path stroke="#8a8a8a" d="M288 332h8M288 412h8M288 420h8M392 420h8M296 468h8M304 484h8M312 492h8"/><path stroke="#8c8c8c" d="M384 228h8M392 252h8M296 284h8M288 340h8M288 404h8M384 444h8M376 460h8M344 492h8"/><path stroke="#8e8e8e" d="M344 212h8M368 212h8M312 244h8M304 260h8M288 348h8M288 356h8M288 364h8M288 372h8M288 380h8M288 388h8M288 396h8M296 460h8"/><path stroke="#909090" d="M360 212h8M376 220h8M392 260h8M320 492h8M336 492h8"/><path stroke="#929292" d="M352 212h8M384 236h8M392 268h8M296 452h8M304 476h8M352 484h8M328 492h8"/><path stroke="#949494" d="M336 220h8M392 412h8M368 468h8M312 484h8"/><path stroke="#969696" d="M392 276h8M296 292h8M296 444h8M360 476h8"/><path stroke="#989898" d="M368 220h8M376 228h8M320 236h8M384 244h8M392 284h8M304 468h8"/><path stroke="#9a9a9a" d="M328 228h8M392 292h8M296 436h8M384 436h8M312 476h8M320 484h8M344 484h8"/><path stroke="#9c9c9c" d="M344 220h8M360 220h8M384 252h8M304 268h8M392 300h8M392 404h8M304 460h8M328 484h16"/><path stroke="#9e9e9e" d="M352 220h8M376 236h8M392 308h8M296 428h8M376 452h8"/><path stroke="#a0a0a0" d="M368 228h8M312 252h8M296 300h8M392 316h8M296 420h8"/><path stroke="#a2a2a2" d="M384 260h8M392 324h8M392 396h8M296 412h8M304 452h8M312 468h8M320 476h8M352 476h8"/><path stroke="#a4a4a4" d="M336 228h8M376 244h8M384 268h8M392 332h8M296 404h8"/><path stroke="#a6a6a6" d="M360 228h8M296 308h8M392 340h8M392 388h8M296 396h8M304 444h8M368 460h8M328 476h8"/><path stroke="#a8a8a8" d="M368 236h8M384 276h8M392 348h8M392 356h8M384 428h8M312 460h8M360 468h8M336 476h16"/><path stroke="#aaaaaa" d="M344 228h16M328 236h8M320 244h8M376 252h8M304 276h8M384 284h8M392 364h8M392 372h8M392 380h8M296 388h8M304 436h8M320 468h8"/><path stroke="#acacac" d="M296 316h8M296 380h8M312 452h8"/><path stroke="#aeaeae" d="M360 236h8M368 244h8M376 260h8M384 292h8M296 372h8M304 428h8M376 444h8M328 468h8"/><path stroke="#b0b0b0" d="M312 260h8M384 300h8M296 324h8M296 356h8M296 364h8M304 420h8M320 460h8"/><path stroke="#b2b2b2" d="M376 268h8M384 308h8M296 332h8M296 340h8M296 348h8M312 444h8M336 468h8M352 468h8"/><path stroke="#b4b4b4" d="M336 236h8M352 236h8M368 252h8M384 316h8M304 412h8M384 420h8M344 468h8"/><path stroke="#b6b6b6" d="M344 236h8M360 244h8M376 276h8M304 284h8M304 404h8M312 436h8M320 452h8M328 460h8"/><path stroke="#b8b8b8" d="M376 284h8M384 324h8M312 428h8M368 452h8M360 460h8"/><path stroke="#bababa" d="M328 244h8M320 252h8M368 260h8M384 332h8M304 396h8M320 444h8"/><path stroke="#bcbcbc" d="M376 292h8M304 388h8M312 420h8M328 452h8M336 460h8"/><path stroke="#bebebe" d="M352 244h8M360 252h8M368 268h8M376 300h8M384 340h8M384 412h8M320 436h8M376 436h8"/><path stroke="#c0c0c0" d="M312 268h8M368 276h8M304 292h8M376 308h8M304 380h8M312 412h8M344 460h16"/><path stroke="#c2c2c2" d="M336 244h16M360 260h8M376 316h8M384 348h8M312 404h8M320 428h8M328 444h8"/><path stroke="#c4c4c4" d="M368 284h8M304 372h8M384 404h8M320 420h8M336 452h8"/><path stroke="#c6c6c6" d="M352 252h8M368 292h8M376 324h8M384 356h8M312 396h8M320 412h8M328 436h8"/><path stroke="#c8c8c8" d="M360 268h8M304 300h8M368 300h8M304 364h8M384 364h8M312 388h8M328 428h8M368 444h8M360 452h8"/><path stroke="#cacaca" d="M328 252h8M320 260h8M360 276h8M368 308h8M376 332h8M384 372h8M384 396h8M320 404h8M376 428h8M336 444h8M344 452h8"/><path stroke="#cccccc" d="M344 252h8M352 260h8M360 284h8M368 316h8M304 356h8M312 380h8M384 380h8M384 388h8M320 396h8M328 420h8M352 452h8"/><path stroke="#cecece" d="M312 276h8M360 292h8M304 308h8M368 324h8M376 340h8M304 348h8M320 388h8M328 404h8M328 412h8M336 436h8"/><path stroke="#d0d0d0" d="M336 252h8M360 300h8M360 308h8M368 332h8M304 340h8M312 372h8M328 396h8"/><path stroke="#d2d2d2" d="M352 268h8M304 316h8M360 316h8M304 324h8M360 324h8M304 332h8M376 348h8M320 380h8M328 388h8M336 428h8M344 444h8"/><path stroke="#d4d4d4" d="M360 332h8M368 340h8M328 380h8M336 420h8M360 444h8"/><path stroke="#d6d6d6" d="M344 260h8M352 276h8M360 340h8M376 356h8M312 364h8M320 372h8M336 380h8M336 388h8M336 396h8M336 404h8M336 412h8M376 420h8M368 436h8M352 444h8"/><path stroke="#d8d8d8" d="M328 260h8M320 268h8M312 284h8M352 284h8M352 292h8M352 316h8M352 324h8M352 332h8M352 340h8M368 348h8M328 372h16M344 436h8"/><path stroke="#dadada" d="M336 260h8M352 300h8M352 308h8M344 348h24M312 356h8M344 356h16M320 364h32M344 372h8"/><path stroke="#dcdcdc" d="M344 268h8M344 340h8M336 356h8M376 364h8M344 380h8M344 428h8"/><path stroke="#dedede" d="M344 332h8M336 348h8M328 356h8M360 356h16M352 364h8M344 388h8M344 396h8M376 412h8M344 420h8"/><path stroke="#e0e0e0" d="M344 276h8M312 292h8M344 324h8M312 348h8M320 356h8M352 372h8M376 372h8M344 404h8M344 412h8M368 428h8M352 436h16"/><path stroke="#e2e2e2" d="M344 316h8M336 340h8M360 364h16M376 380h8M376 404h8"/><path stroke="#e4e4e4" d="M328 268h16M320 276h8M344 284h8M344 292h8M344 300h8M344 308h8M312 340h8M328 348h8M352 380h8M376 388h8M376 396h8"/><path stroke="#e6e6e6" d="M312 300h8M336 332h8M320 348h8M360 372h8M352 388h8M352 428h8"/><path stroke="#e8e8e8" d="M312 332h8M328 340h8M368 372h8M352 396h8M352 420h8M360 428h8"/><path stroke="#eaeaea" d="M336 276h8M312 308h8M312 324h8M336 324h8M320 340h8M360 380h8M352 404h8M352 412h8M368 420h8"/><path stroke="#ececec" d="M328 276h8M320 284h8M312 316h8M368 380h8"/><path stroke="#eeeeee" d="M336 284h8M336 316h8M328 332h8M360 388h8M368 412h8M360 420h8"/><path stroke="#f0f0f0" d="M336 292h8M336 300h8M336 308h8M320 332h8M368 388h8M360 396h8"/><path stroke="#f2f2f2" d="M328 284h8M320 292h8M328 324h8M368 396h8M360 404h16M360 412h8"/><path stroke="#f4f4f4" d="M320 324h8"/><path stroke="#f6f6f6" d="M328 292h8M320 300h8M320 316h16"/><path stroke="#f8f8f8" d="M328 300h8M320 308h16"/></g></g>
<g fill="none" stroke="#fff" stroke-width="1.3" stroke-linejoin="round">
<path d="M444.1 334.9C443.4 340.8 442.5 346.7 441.6 352.6C440.7 358.4 439.6 364.2 438.5 370.0C437.4 375.7 436.1 381.4 434.9 387.1C433.6 392.8 432.2 398.4 430.8 404.0C429.4 409.5 428.0 415.1 426.4 420.6C424.9 426.1 423.3 431.5 421.7 436.9C420.0 442.3 418.2 447.7 416.4 452.9C414.5 458.2 412.6 463.3 410.6 468.4C408.5 473.4 406.4 478.4 404.3 483.3C402.1 488.2 399.9 493.0 397.6 497.8C395.3 502.7 393.0 507.5 390.7 512.5C388.3 517.5 385.9 522.6 383.5 527.7C381.0 532.9 378.5 538.3 375.8 543.6C373.1 548.9 370.4 554.5 367.5 559.6C364.6 564.8 361.5 570.1 358.4 574.8C355.2 579.4 351.9 583.9 348.6 587.5C345.2 591.1 341.7 594.3 338.3 596.5C334.9 598.8 331.4 600.3 328.0 601.1C324.6 601.9 321.3 601.8 318.1 601.3C314.8 600.7 311.7 599.4 308.7 597.9C305.7 596.4 302.7 594.3 299.9 592.1C297.1 589.9 294.4 587.4 291.7 584.8C289.1 582.2 286.5 579.4 284.0 576.3C281.5 573.3 279.1 570.1 276.9 566.4C274.7 562.8 272.6 558.9 270.7 554.6C268.8 550.3 267.1 545.5 265.7 540.4C264.2 535.3 263.1 529.8 262.1 524.1C261.1 518.4 260.4 512.3 259.9 506.3C259.3 500.3 259.0 494.0 258.7 488.0C258.4 481.9 258.2 475.9 258.0 470.1C257.8 464.2 257.6 458.6 257.4 453.0C257.1 447.4 256.8 442.1 256.5 436.7C256.2 431.3 255.8 426.0 255.4 420.7C255.1 415.3 254.7 409.9 254.5 404.4C254.3 398.9 254.1 393.3 254.2 387.6C254.2 381.9 254.3 376.1 254.6 370.2C255.0 364.4 255.4 358.4 256.0 352.5C256.7 346.5 257.4 340.5 258.3 334.5C259.1 328.5 260.1 322.5 261.1 316.5C262.2 310.5 263.3 304.5 264.5 298.5C265.8 292.5 267.1 286.5 268.5 280.5C269.9 274.5 271.5 268.5 273.1 262.7C274.8 256.8 276.6 251.0 278.6 245.4C280.6 239.8 282.7 234.3 284.9 229.1C287.1 223.9 289.5 218.9 291.9 214.0C294.4 209.2 296.9 204.6 299.5 200.0C302.0 195.5 304.6 191.1 307.2 186.6C309.9 182.2 312.5 177.8 315.2 173.3C317.9 168.8 320.6 164.2 323.4 159.7C326.2 155.1 329.0 150.4 332.0 145.8C334.9 141.3 338.0 136.7 341.1 132.6C344.3 128.5 347.5 124.5 350.8 121.1C354.1 117.8 357.5 114.8 360.9 112.5C364.3 110.3 367.7 108.6 371.1 107.6C374.4 106.6 377.8 106.3 381.0 106.5C384.3 106.6 387.4 107.5 390.5 108.6C393.6 109.7 396.6 111.3 399.5 113.1C402.4 114.8 405.2 116.9 408.0 119.2C410.7 121.5 413.4 123.9 416.0 126.6C418.6 129.4 421.2 132.2 423.6 135.5C426.0 138.7 428.3 142.2 430.4 146.1C432.5 150.1 434.5 154.3 436.3 159.0C438.0 163.7 439.5 168.8 440.8 174.2C442.1 179.5 443.1 185.3 444.0 191.2C444.8 197.1 445.4 203.3 445.9 209.4C446.4 215.5 446.6 221.8 446.8 228.0C447.1 234.2 447.2 240.3 447.2 246.4C447.3 252.5 447.3 258.5 447.3 264.4C447.3 270.3 447.3 276.2 447.2 282.1C447.1 287.9 447.0 293.8 446.7 299.6C446.5 305.5 446.2 311.3 445.7 317.2C445.3 323.1 444.7 329.0 444.1 334.9Z"/>
<path d="M434.6 336.7C434.0 341.9 433.3 347.2 432.5 352.4C431.7 357.7 430.7 362.9 429.8 368.0C428.8 373.2 427.7 378.3 426.6 383.4C425.4 388.5 424.2 393.5 422.9 398.5C421.6 403.4 420.3 408.4 418.9 413.2C417.5 418.1 416.0 422.9 414.5 427.7C413.0 432.5 411.4 437.2 409.7 441.9C408.1 446.5 406.3 451.1 404.5 455.6C402.7 460.1 400.9 464.6 399.0 469.0C397.1 473.4 395.1 477.8 393.1 482.2C391.1 486.6 389.0 491.0 386.9 495.5C384.8 500.0 382.7 504.5 380.5 509.1C378.2 513.6 375.9 518.3 373.5 522.9C371.1 527.5 368.6 532.3 366.0 536.7C363.4 541.1 360.7 545.6 357.9 549.5C355.1 553.4 352.1 557.2 349.1 560.4C346.1 563.5 343.0 566.2 340.0 568.3C336.9 570.3 333.8 571.8 330.7 572.7C327.7 573.6 324.6 573.9 321.7 573.7C318.8 573.5 315.9 572.7 313.1 571.6C310.3 570.5 307.6 568.9 305.0 567.1C302.4 565.2 299.9 563.1 297.5 560.7C295.1 558.2 292.8 555.6 290.6 552.6C288.4 549.7 286.3 546.4 284.4 542.9C282.5 539.3 280.7 535.5 279.1 531.3C277.5 527.2 276.1 522.7 274.9 518.0C273.6 513.3 272.6 508.2 271.8 503.2C270.9 498.1 270.3 492.7 269.7 487.5C269.1 482.2 268.7 476.9 268.3 471.7C267.9 466.4 267.6 461.3 267.3 456.2C267.0 451.1 266.8 446.1 266.5 441.2C266.2 436.3 265.9 431.5 265.6 426.6C265.3 421.8 265.0 417.0 264.8 412.2C264.6 407.3 264.4 402.4 264.4 397.5C264.3 392.5 264.3 387.5 264.4 382.4C264.5 377.3 264.7 372.2 265.0 367.0C265.3 361.8 265.7 356.6 266.2 351.4C266.8 346.1 267.4 340.9 268.1 335.6C268.8 330.3 269.5 325.0 270.4 319.7C271.3 314.4 272.2 309.0 273.2 303.7C274.3 298.4 275.4 293.0 276.7 287.7C277.9 282.4 279.2 277.1 280.7 271.9C282.1 266.7 283.7 261.5 285.4 256.4C287.1 251.4 288.8 246.4 290.7 241.5C292.6 236.6 294.6 231.8 296.6 227.2C298.6 222.5 300.7 217.9 302.9 213.3C305.1 208.8 307.4 204.4 309.7 200.0C312.0 195.6 314.4 191.3 316.8 187.1C319.3 182.9 321.8 178.8 324.4 174.9C327.0 171.0 329.7 167.1 332.4 163.6C335.2 160.1 338.0 156.7 340.9 153.7C343.8 150.7 346.7 148.0 349.7 145.7C352.6 143.3 355.6 141.3 358.6 139.7C361.6 138.0 364.7 136.8 367.7 135.8C370.7 134.9 373.7 134.4 376.6 134.2C379.5 134.0 382.5 134.1 385.3 134.6C388.2 135.1 391.0 135.9 393.7 137.1C396.5 138.2 399.1 139.7 401.7 141.6C404.3 143.4 406.8 145.6 409.1 148.2C411.5 150.7 413.7 153.7 415.8 157.0C417.8 160.2 419.8 163.9 421.5 167.8C423.3 171.8 424.9 176.1 426.3 180.6C427.7 185.1 428.9 189.9 430.0 194.9C431.1 199.8 432.0 205.0 432.7 210.2C433.5 215.3 434.1 220.7 434.6 226.0C435.2 231.3 435.6 236.7 435.9 242.0C436.2 247.3 436.5 252.6 436.7 257.9C436.9 263.2 437.0 268.4 437.1 273.7C437.2 278.9 437.2 284.1 437.2 289.3C437.2 294.6 437.1 299.8 436.9 305.0C436.7 310.3 436.4 315.6 436.0 320.8C435.6 326.1 435.2 331.4 434.6 336.7Z"/>
<path d="M428.0 337.2C427.6 342.1 427.0 346.9 426.4 351.7C425.8 356.5 425.1 361.3 424.3 366.1C423.4 370.9 422.5 375.7 421.5 380.4C420.6 385.1 419.5 389.8 418.3 394.5C417.1 399.1 415.8 403.7 414.5 408.2C413.2 412.7 411.8 417.1 410.3 421.4C408.8 425.8 407.3 430.1 405.7 434.3C404.1 438.5 402.4 442.6 400.7 446.7C399.0 450.8 397.3 454.8 395.5 458.9C393.7 462.9 391.9 466.8 390.0 470.8C388.2 474.8 386.3 478.8 384.3 482.8C382.4 486.8 380.4 490.9 378.3 494.9C376.2 499.0 374.1 503.1 371.9 507.2C369.7 511.3 367.4 515.5 365.0 519.4C362.7 523.4 360.2 527.3 357.6 530.9C355.0 534.5 352.4 538.0 349.6 541.0C346.9 543.9 344.1 546.6 341.3 548.7C338.5 550.8 335.6 552.5 332.8 553.6C330.0 554.7 327.1 555.3 324.4 555.3C321.7 555.4 319.0 554.8 316.4 553.9C313.8 553.0 311.3 551.6 308.9 549.9C306.5 548.2 304.2 546.0 302.1 543.6C299.9 541.3 297.8 538.5 295.9 535.6C293.9 532.7 292.1 529.4 290.4 526.0C288.7 522.6 287.2 518.9 285.8 515.0C284.4 511.1 283.1 507.0 282.0 502.7C280.8 498.5 279.9 494.0 279.0 489.5C278.2 485.0 277.5 480.3 276.9 475.6C276.3 471.0 275.8 466.2 275.3 461.6C274.9 456.9 274.5 452.3 274.2 447.7C273.8 443.1 273.5 438.5 273.2 434.0C273.0 429.5 272.7 425.0 272.5 420.5C272.2 416.0 272.0 411.6 271.9 407.0C271.8 402.5 271.7 398.0 271.7 393.4C271.7 388.8 271.8 384.1 271.9 379.4C272.1 374.7 272.4 370.0 272.7 365.3C273.1 360.5 273.6 355.7 274.1 350.9C274.6 346.2 275.3 341.4 275.9 336.6C276.6 331.8 277.4 326.9 278.2 322.1C279.0 317.3 279.9 312.5 280.9 307.6C281.8 302.8 282.9 298.0 284.0 293.1C285.1 288.3 286.3 283.5 287.6 278.7C288.8 273.9 290.2 269.1 291.7 264.4C293.1 259.7 294.7 255.0 296.4 250.4C298.0 245.8 299.7 241.3 301.6 236.8C303.4 232.4 305.3 228.0 307.3 223.7C309.2 219.4 311.3 215.2 313.4 211.0C315.5 206.9 317.7 202.9 320.0 199.0C322.3 195.1 324.6 191.3 327.0 187.8C329.4 184.2 331.9 180.8 334.5 177.6C337.0 174.5 339.6 171.6 342.3 168.9C344.9 166.3 347.7 163.9 350.4 161.9C353.1 159.9 355.9 158.1 358.6 156.7C361.4 155.3 364.1 154.1 366.9 153.3C369.6 152.5 372.4 152.0 375.1 151.8C377.8 151.6 380.5 151.6 383.1 152.0C385.7 152.4 388.3 153.1 390.8 154.2C393.3 155.2 395.8 156.5 398.1 158.3C400.5 160.0 402.8 162.0 404.9 164.4C407.0 166.8 409.1 169.5 411.0 172.6C412.8 175.6 414.6 179.0 416.2 182.7C417.8 186.3 419.2 190.3 420.5 194.4C421.8 198.5 423.0 202.9 424.0 207.3C425.0 211.8 425.8 216.5 426.6 221.2C427.3 225.9 427.9 230.7 428.4 235.5C428.9 240.4 429.3 245.3 429.6 250.2C429.9 255.0 430.1 260.0 430.3 264.8C430.4 269.7 430.5 274.6 430.5 279.5C430.5 284.3 430.5 289.1 430.4 294.0C430.3 298.8 430.2 303.6 430.0 308.4C429.8 313.2 429.5 318.0 429.2 322.8C428.9 327.6 428.5 332.4 428.0 337.2Z"/>
<path d="M422.2 339.2C421.8 343.7 421.4 348.1 420.8 352.6C420.3 357.0 419.6 361.5 418.9 366.0C418.2 370.4 417.3 374.8 416.4 379.2C415.5 383.6 414.5 388.0 413.4 392.3C412.4 396.5 411.2 400.8 410.0 405.0C408.7 409.2 407.4 413.3 406.1 417.4C404.7 421.4 403.3 425.4 401.9 429.4C400.4 433.3 398.9 437.2 397.4 441.0C395.8 444.9 394.2 448.7 392.6 452.5C391.0 456.2 389.3 460.0 387.6 463.7C385.8 467.5 384.1 471.2 382.3 474.9C380.4 478.7 378.6 482.4 376.7 486.2C374.7 489.9 372.8 493.7 370.7 497.4C368.6 501.1 366.5 504.8 364.3 508.4C362.1 511.9 359.8 515.4 357.4 518.7C355.0 521.9 352.5 525.1 350.0 527.8C347.5 530.5 344.9 533.0 342.3 535.0C339.7 537.0 337.1 538.6 334.5 539.7C331.9 540.8 329.2 541.4 326.7 541.5C324.2 541.6 321.7 541.2 319.3 540.4C316.9 539.6 314.6 538.2 312.4 536.6C310.2 534.9 308.1 532.8 306.1 530.4C304.2 528.0 302.3 525.3 300.6 522.4C298.9 519.4 297.3 516.2 295.8 512.9C294.3 509.6 292.9 506.0 291.6 502.4C290.4 498.8 289.2 495.0 288.2 491.1C287.1 487.2 286.2 483.2 285.4 479.2C284.5 475.2 283.8 471.0 283.1 466.9C282.5 462.8 281.9 458.6 281.4 454.4C280.9 450.2 280.4 446.0 280.0 441.9C279.6 437.7 279.3 433.5 279.0 429.3C278.6 425.2 278.4 421.0 278.1 416.8C277.9 412.6 277.7 408.5 277.6 404.2C277.4 400.0 277.3 395.8 277.3 391.5C277.3 387.2 277.3 382.8 277.5 378.4C277.6 374.0 277.8 369.6 278.1 365.2C278.5 360.7 278.9 356.2 279.4 351.7C279.9 347.2 280.5 342.7 281.2 338.2C281.9 333.7 282.6 329.2 283.5 324.8C284.3 320.3 285.3 315.8 286.2 311.4C287.2 307.0 288.3 302.5 289.4 298.1C290.5 293.7 291.7 289.3 292.9 285.0C294.1 280.6 295.4 276.2 296.8 271.9C298.2 267.6 299.6 263.3 301.1 259.1C302.6 254.8 304.2 250.6 305.9 246.5C307.5 242.4 309.2 238.3 311.1 234.3C312.9 230.4 314.8 226.5 316.7 222.7C318.7 219.0 320.7 215.3 322.8 211.8C324.9 208.3 327.1 204.9 329.3 201.7C331.5 198.5 333.8 195.4 336.1 192.5C338.4 189.6 340.8 186.9 343.3 184.4C345.7 181.9 348.2 179.6 350.7 177.5C353.2 175.5 355.7 173.6 358.3 172.1C360.8 170.5 363.4 169.2 365.9 168.3C368.5 167.3 371.0 166.7 373.6 166.3C376.1 166.0 378.6 166.0 381.0 166.4C383.5 166.7 385.9 167.4 388.2 168.5C390.5 169.5 392.7 171.0 394.9 172.7C397.0 174.4 399.1 176.5 401.0 178.8C403.0 181.2 404.8 183.9 406.5 186.8C408.2 189.8 409.7 193.0 411.2 196.4C412.6 199.9 413.9 203.6 415.1 207.4C416.3 211.2 417.3 215.3 418.2 219.4C419.2 223.6 419.9 227.9 420.6 232.2C421.3 236.6 421.8 241.0 422.3 245.5C422.7 250.0 423.1 254.5 423.4 259.0C423.6 263.5 423.8 268.1 424.0 272.6C424.1 277.0 424.2 281.5 424.2 286.0C424.2 290.5 424.2 294.9 424.2 299.3C424.1 303.8 424.0 308.2 423.8 312.6C423.7 317.0 423.5 321.4 423.2 325.9C423.0 330.3 422.6 334.8 422.2 339.2Z"/>
<path d="M402.4 343.6C402.1 346.7 401.9 349.8 401.5 353.0C401.2 356.1 400.8 359.2 400.4 362.4C400.0 365.5 399.5 368.7 399.0 371.9C398.4 375.0 397.9 378.2 397.2 381.3C396.5 384.5 395.8 387.6 395.1 390.7C394.3 393.8 393.5 396.9 392.6 399.9C391.7 402.9 390.7 405.9 389.7 408.9C388.7 411.8 387.6 414.7 386.5 417.5C385.4 420.4 384.3 423.2 383.1 425.9C381.9 428.7 380.7 431.4 379.4 434.1C378.1 436.8 376.8 439.4 375.5 442.0C374.2 444.6 372.8 447.2 371.4 449.8C369.9 452.3 368.5 454.8 366.9 457.3C365.4 459.7 363.9 462.2 362.3 464.5C360.7 466.8 359.0 469.1 357.3 471.1C355.6 473.2 353.8 475.2 352.1 476.9C350.3 478.7 348.5 480.3 346.6 481.6C344.8 482.9 342.9 484.0 341.1 484.8C339.2 485.5 337.4 486.0 335.5 486.2C333.7 486.3 331.9 486.2 330.2 485.7C328.5 485.2 326.8 484.4 325.2 483.3C323.6 482.3 322.1 480.9 320.6 479.2C319.2 477.6 317.9 475.7 316.6 473.7C315.3 471.6 314.2 469.4 313.1 467.0C312.0 464.6 311.0 462.1 310.1 459.5C309.2 456.9 308.3 454.2 307.5 451.5C306.7 448.7 306.0 445.9 305.4 443.1C304.7 440.3 304.1 437.5 303.5 434.6C303.0 431.8 302.4 428.9 302.0 425.9C301.5 423.0 301.1 420.1 300.8 417.1C300.4 414.1 300.1 411.1 299.9 408.1C299.6 405.0 299.4 402.0 299.3 398.9C299.2 395.8 299.2 392.6 299.2 389.5C299.2 386.4 299.2 383.2 299.4 380.0C299.5 376.9 299.7 373.7 300.0 370.5C300.2 367.3 300.5 364.2 300.9 361.0C301.2 357.9 301.6 354.7 302.0 351.6C302.4 348.4 302.9 345.3 303.4 342.2C303.9 339.0 304.4 335.9 305.0 332.8C305.5 329.7 306.1 326.5 306.7 323.4C307.3 320.3 308.0 317.1 308.7 314.0C309.4 310.8 310.1 307.6 310.9 304.5C311.7 301.3 312.6 298.2 313.5 295.0C314.4 291.9 315.3 288.7 316.4 285.7C317.4 282.6 318.5 279.5 319.6 276.5C320.8 273.5 322.0 270.6 323.3 267.7C324.5 264.9 325.9 262.1 327.3 259.4C328.7 256.7 330.1 254.1 331.6 251.6C333.1 249.1 334.7 246.7 336.3 244.5C337.8 242.2 339.5 240.1 341.1 238.1C342.8 236.1 344.5 234.2 346.3 232.5C348.0 230.7 349.7 229.1 351.5 227.7C353.3 226.3 355.1 225.0 356.9 223.9C358.8 222.9 360.6 221.9 362.4 221.3C364.2 220.6 366.1 220.1 367.9 219.9C369.7 219.6 371.5 219.6 373.2 219.9C375.0 220.1 376.7 220.6 378.4 221.4C380.0 222.1 381.6 223.1 383.2 224.4C384.7 225.6 386.2 227.2 387.6 228.9C388.9 230.6 390.2 232.6 391.4 234.7C392.6 236.9 393.8 239.3 394.8 241.8C395.8 244.3 396.7 247.0 397.5 249.8C398.4 252.6 399.1 255.5 399.7 258.5C400.3 261.5 400.9 264.6 401.4 267.7C401.8 270.8 402.2 274.0 402.5 277.2C402.9 280.4 403.1 283.6 403.3 286.8C403.5 290.0 403.6 293.3 403.7 296.4C403.8 299.6 403.9 302.8 403.9 306.0C403.9 309.2 403.8 312.3 403.8 315.5C403.7 318.6 403.6 321.7 403.5 324.9C403.4 328.0 403.2 331.1 403.0 334.2C402.9 337.3 402.6 340.4 402.4 343.6Z"/>
<path d="M375.2 349.0C375.0 350.6 374.8 352.1 374.5 353.6C374.2 355.1 373.9 356.6 373.6 358.1C373.3 359.5 372.9 361.0 372.6 362.4C372.2 363.8 371.8 365.2 371.4 366.6C371.0 368.0 370.6 369.4 370.2 370.7C369.8 372.1 369.4 373.4 368.9 374.8C368.5 376.1 368.1 377.4 367.6 378.8C367.2 380.1 366.7 381.4 366.2 382.7C365.8 384.0 365.3 385.4 364.8 386.7C364.3 388.0 363.7 389.3 363.2 390.6C362.6 391.9 362.1 393.2 361.5 394.5C360.9 395.8 360.3 397.1 359.7 398.4C359.1 399.6 358.4 400.9 357.7 402.1C357.0 403.3 356.3 404.4 355.6 405.5C354.9 406.7 354.1 407.7 353.4 408.7C352.6 409.7 351.8 410.7 351.0 411.5C350.2 412.3 349.4 413.1 348.5 413.7C347.7 414.4 346.9 414.9 346.0 415.3C345.2 415.7 344.4 416.0 343.6 416.1C342.7 416.2 341.9 416.2 341.1 416.0C340.4 415.9 339.6 415.5 338.9 415.1C338.2 414.6 337.5 414.0 336.9 413.2C336.2 412.5 335.6 411.6 335.1 410.7C334.5 409.7 334.0 408.6 333.6 407.5C333.1 406.3 332.7 405.1 332.3 403.9C332.0 402.6 331.6 401.3 331.3 400.0C331.0 398.7 330.7 397.3 330.5 396.0C330.2 394.7 330.0 393.3 329.7 392.0C329.5 390.7 329.3 389.3 329.1 388.0C328.9 386.7 328.8 385.3 328.6 384.0C328.4 382.7 328.3 381.3 328.2 379.9C328.0 378.6 327.9 377.2 327.9 375.8C327.8 374.4 327.7 373.0 327.7 371.5C327.7 370.1 327.7 368.6 327.8 367.2C327.9 365.7 328.0 364.2 328.1 362.7C328.2 361.2 328.4 359.7 328.6 358.2C328.8 356.8 329.0 355.3 329.2 353.8C329.5 352.3 329.7 350.9 330.0 349.4C330.3 348.0 330.6 346.6 330.9 345.1C331.2 343.7 331.6 342.3 331.9 340.9C332.2 339.5 332.5 338.1 332.9 336.6C333.2 335.2 333.6 333.8 334.0 332.4C334.4 330.9 334.7 329.5 335.1 328.1C335.5 326.6 336.0 325.2 336.4 323.7C336.9 322.3 337.3 320.8 337.8 319.4C338.4 318.0 338.9 316.6 339.4 315.2C340.0 313.8 340.6 312.5 341.2 311.1C341.8 309.8 342.5 308.6 343.1 307.3C343.8 306.1 344.5 304.9 345.2 303.8C345.9 302.7 346.7 301.7 347.4 300.7C348.2 299.7 349.0 298.7 349.7 297.9C350.5 297.0 351.3 296.2 352.1 295.5C352.9 294.8 353.8 294.2 354.6 293.7C355.4 293.2 356.2 292.7 357.1 292.4C357.9 292.1 358.7 291.8 359.5 291.7C360.3 291.6 361.1 291.6 361.9 291.8C362.7 291.9 363.4 292.2 364.2 292.6C364.9 293.0 365.6 293.6 366.2 294.2C366.9 294.9 367.5 295.7 368.1 296.6C368.7 297.5 369.2 298.5 369.7 299.6C370.2 300.6 370.6 301.8 371.0 303.0C371.4 304.2 371.8 305.5 372.1 306.8C372.4 308.1 372.7 309.4 373.0 310.7C373.3 312.0 373.5 313.4 373.8 314.7C374.0 316.1 374.2 317.4 374.4 318.8C374.6 320.1 374.8 321.5 375.0 322.8C375.1 324.2 375.3 325.6 375.4 326.9C375.6 328.3 375.7 329.7 375.8 331.1C375.8 332.6 375.9 334.0 375.9 335.5C376.0 336.9 376.0 338.4 375.9 339.9C375.9 341.4 375.8 342.9 375.7 344.4C375.6 346.0 375.4 347.5 375.2 349.0Z"/>
</g>
<ellipse cx="67.3" cy="543.9" rx="40" ry="115.3" transform="rotate(11.95 67.3 543.9)" fill="#00ff00" stroke="#000" stroke-width="1.0"/>
</g>
<path d="M502.2 615.1H649.9" stroke="#fff" stroke-width="2.8" fill="none"/>
<text class="w b" transform="translate(576.4 646.9) scale(0.985 1.09)" style="font-size:25px" text-anchor="middle">0.2 pc</text>
<text class="w" x="33.4" y="52.7">BM556B</text>
<text class="w" x="33.4" y="86.3">2024-04-24</text>
<text class="w" x="644.5" y="52.7" text-anchor="end">23.57 GHz</text>
<text class="w" x="644.3" y="86.3" text-anchor="end" letter-spacing="-0.08">RMS = 0.14 mJy</text>
<path d="M0 6.3h20.6M678 6.3h-20.6M0 60.58h7.9M678 60.58h-7.9M0 114.86h7.9M678 114.86h-7.9M0 169.14h7.9M678 169.14h-7.9M0 223.42h7.9M678 223.42h-7.9M0 277.7h20.6M678 277.7h-20.6M0 331.98h7.9M678 331.98h-7.9M0 386.26h7.9M678 386.26h-7.9M0 440.54h7.9M678 440.54h-7.9M0 494.82h7.9M678 494.82h-7.9M0 549.1h20.6M678 549.1h-20.6M0 603.38h7.9M678 603.38h-7.9M0 657.66h7.9M678 657.66h-7.9M298.4 0v20.2M298.4 678.7v-20.2M634.4 0v7.9M634.4 678.7v-7.9" stroke="#fff" stroke-width="2.3" fill="none"/>
<rect x="0" y="0" width="678" height="678.7" fill="none" stroke="#000" stroke-width="2.1"/>
<text class="k" x="-9.1" y="13.8" text-anchor="end">65°33'54.338"</text>
<text class="k" x="-9.1" y="285.2" text-anchor="end">54.337"</text>
<text class="k" x="-9.1" y="556.6" text-anchor="end">54.336"</text>
<text class="k" y="705.8"><tspan x="210.2" letter-spacing="-1.2">19</tspan><tspan class="s" x="237.8" dy="-9.7">H</tspan><tspan x="251.8" dy="9.7">27</tspan><tspan class="s" x="280.6" dy="-9.7">M</tspan><tspan x="297.5" dy="9.7" letter-spacing="-0.6">19.540</tspan><tspan class="s" x="374.4" dy="-9.7">S</tspan></text>
<text class="k" x="339" y="745.9" text-anchor="middle">RA (J2000)</text>
<text class="k" transform="translate(-186.9 339.2) rotate(-90)" text-anchor="middle">DEC (J2000)</text>
<rect x="685" y="0" width="27" height="678.7" fill="url(#cb)"/>
<path d="M712 651.552h-7.8M712 624.404h-7.8M712 597.256h-7.8M712 570.108h-7.8M712 515.812h-7.8M712 488.664h-7.8M712 461.516h-7.8M712 434.368h-7.8M712 380.072h-7.8M712 352.924h-7.8M712 325.776h-7.8M712 298.628h-7.8M712 244.332h-7.8M712 217.184h-7.8M712 190.036h-7.8M712 162.888h-7.8M712 108.592h-7.8M712 81.444h-7.8M712 54.296h-7.8M712 27.148h-7.8" stroke="#000" stroke-width="1.6" fill="none"/>
<path d="M712 678.7h-17.6M712 542.96h-17.6M712 407.22h-17.6M712 271.48h-17.6M712 135.74h-17.6M712 0h-17.6" stroke="#000" stroke-width="2.1" fill="none"/>
<rect x="685" y="0" width="27" height="678.7" fill="none" stroke="#000" stroke-width="2.1"/>
<text class="k" x="720.7" y="687.6">0.0</text>
<text class="k" x="720.7" y="551.86">0.5</text>
<text class="k" x="720.7" y="416.12">1.0</text>
<text class="k" x="720.7" y="280.38">1.5</text>
<text class="k" x="720.7" y="144.64">2.0</text>
<text class="k" x="720.7" y="8.9">2.5</text>
<text class="k" transform="translate(772.3 339.2) rotate(90)" text-anchor="middle">mJy/beam</text>
</g>
<g transform="translate(1255.3 791.1)">
<g clip-path="url(#ax)">
<g filter="url(#pl)"><rect x="-24" y="-24" width="728" height="728" fill="#000000"/><g stroke-width="8.3" fill="none"><path stroke="#020202" d="M-24 -20h16M8 -20h24M144 -20h16M248 -20h32M416 -20h24M640 -20h16M680 -20h16M-24 -12h16M16 -12h16M136 -12h16M248 -12h24M424 -12h24M640 -12h16M688 -12h8M-24 -4h8M16 -4h16M128 -4h16M248 -4h16M432 -4h16M640 -4h8M688 -4h8M-24 4h8M24 4h8M128 4h8M240 4h24M432 4h24M640 4h8M688 4h16M-24 12h8M24 12h16M120 12h16M240 12h24M432 12h24M640 12h8M688 12h16M24 20h16M112 20h16M240 20h32M432 20h16M640 20h8M696 20h8M24 28h16M112 28h8M232 28h40M424 28h24M632 28h16M696 28h8M32 36h8M104 36h16M232 36h48M416 36h32M632 36h8M696 36h8M32 44h8M96 44h16M224 44h16M264 44h32M408 44h32M632 44h8M696 44h8M32 52h8M96 52h8M224 52h16M272 52h32M400 52h40M632 52h8M696 52h8M32 60h8M88 60h16M216 60h16M272 60h32M392 60h48M632 60h8M696 60h8M32 68h8M80 68h16M216 68h16M272 68h24M400 68h48M632 68h8M696 68h8M32 76h16M80 76h8M216 76h8M264 76h24M408 76h48M632 76h8M696 76h8M32 84h16M72 84h16M208 84h16M256 84h24M424 84h40M632 84h8M696 84h8M32 92h16M72 92h8M208 92h8M256 92h16M440 92h32M632 92h8M40 100h8M64 100h16M200 100h16M248 100h24M448 100h32M632 100h8M40 108h8M56 108h16M200 108h8M248 108h16M456 108h32M632 108h8M40 116h32M192 116h16M240 116h24M464 116h24M632 116h8M40 124h24M184 124h16M240 124h16M464 124h32M632 124h8M40 132h24M184 132h16M240 132h16M472 132h24M632 132h8M40 140h16M176 140h16M240 140h16M480 140h24M632 140h8M40 148h16M176 148h8M240 148h8M480 148h24M632 148h8M168 156h16M232 156h16M488 156h24M632 156h8M160 164h16M232 164h16M488 164h24M632 164h8M160 172h8M232 172h16M496 172h16M632 172h8M696 172h8M152 180h16M232 180h16M496 180h24M632 180h8M696 180h8M144 188h16M232 188h16M496 188h24M632 188h8M696 188h8M144 196h8M232 196h16M504 196h16M632 196h8M696 196h8M136 204h16M232 204h16M504 204h16M632 204h8M696 204h8M128 212h16M224 212h16M504 212h16M632 212h8M696 212h8M120 220h16M224 220h16M504 220h24M632 220h8M696 220h8M112 228h24M224 228h16M512 228h16M632 228h16M696 228h8M112 236h16M224 236h16M512 236h16M640 236h8M696 236h8M104 244h16M216 244h16M512 244h16M640 244h8M688 244h16M96 252h16M216 252h16M512 252h16M640 252h8M688 252h16M80 260h24M216 260h16M512 260h16M640 260h8M688 260h8M72 268h32M208 268h16M512 268h16M640 268h16M688 268h8M56 276h40M208 276h16M512 276h16M640 276h16M680 276h16M40 284h48M208 284h16M512 284h16M648 284h16M680 284h16M-24 292h8M32 292h56M200 292h16M512 292h16M648 292h40M-24 300h8M32 300h56M200 300h16M512 300h16M648 300h40M-24 308h8M24 308h72M200 308h16M512 308h16M656 308h32M-24 316h16M24 316h72M192 316h16M512 316h16M656 316h24M-24 324h16M16 324h88M192 324h16M512 324h16M664 324h16M-24 332h128M184 332h16M512 332h16M-24 340h80M88 340h16M184 340h16M512 340h16M-16 348h64M88 348h16M176 348h16M512 348h16M-16 356h56M88 356h16M176 356h16M512 356h16M-8 364h48M96 364h8M176 364h16M512 364h16M-8 372h40M96 372h8M168 372h16M512 372h16M0 380h24M96 380h8M168 380h16M512 380h16M8 388h16M96 388h8M160 388h16M512 388h16M8 396h16M96 396h8M160 396h16M504 396h16M0 404h16M96 404h8M152 404h16M504 404h16M0 412h16M88 412h16M152 412h16M504 412h16M0 420h16M88 420h16M152 420h16M504 420h16M0 428h8M88 428h8M144 428h16M496 428h24M600 428h40M0 436h8M88 436h8M144 436h16M496 436h16M576 436h80M-8 444h16M88 444h8M144 444h16M496 444h16M560 444h104M-8 452h16M80 452h16M136 452h16M496 452h16M552 452h40M632 452h40M-8 460h8M80 460h8M136 460h16M496 460h16M536 460h40M648 460h32M-8 468h8M80 468h8M136 468h16M488 468h72M656 468h24M-8 476h8M80 476h8M136 476h8M488 476h56M664 476h24M-16 484h16M72 484h16M128 484h16M496 484h40M664 484h24M-16 492h16M72 492h16M128 492h16M496 492h32M664 492h24M-24 500h16M72 500h32M120 500h24M672 500h16M-24 508h8M80 508h64M672 508h16M96 516h40M672 516h16M104 524h32M672 524h16M120 532h8M672 532h16M672 540h16M672 548h16M672 556h16M664 564h16M120 572h16M664 572h16M104 580h40M664 580h16M-24 588h8M96 588h56M656 588h16M-24 596h24M72 596h80M216 596h32M656 596h16M-24 604h176M216 604h40M648 604h24M0 612h72M112 612h40M648 612h16M104 620h32M432 620h32M640 620h24M96 628h32M400 628h72M640 628h16M96 636h24M352 636h120M632 636h16M88 644h24M320 644h88M448 644h24M624 644h24M88 652h24M312 652h64M456 652h24M616 652h24M88 660h24M312 660h40M456 660h24M608 660h24M88 668h24M312 668h32M464 668h24M600 668h24M88 676h24M304 676h32M464 676h24M592 676h24M96 684h32M288 684h32M464 684h32M584 684h24M112 692h32M272 692h40M472 692h32M568 692h32M128 700h40M248 700h40M480 700h112"/><path stroke="#040404" d="M-8 -20h16M160 -20h8M232 -20h16M280 -20h16M400 -20h16M656 -20h24M-8 -12h24M152 -12h8M232 -12h16M272 -12h16M416 -12h8M656 -12h8M672 -12h16M-16 -4h32M144 -4h8M232 -4h16M264 -4h16M424 -4h8M648 -4h16M680 -4h8M-16 4h16M8 4h16M136 4h16M232 4h8M264 4h16M424 4h8M648 4h8M680 4h8M-16 12h8M16 12h8M136 12h8M232 12h8M264 12h16M424 12h8M648 12h8M-24 20h8M16 20h8M128 20h8M224 20h16M272 20h8M424 20h8M688 20h8M-24 28h8M16 28h8M120 28h8M224 28h8M272 28h16M416 28h8M688 28h8M-24 36h8M24 36h8M120 36h8M224 36h8M280 36h16M408 36h8M640 36h8M688 36h8M-24 44h8M24 44h8M112 44h8M216 44h8M296 44h16M392 44h16M640 44h8M688 44h8M-24 52h8M24 52h8M104 52h8M216 52h8M304 52h24M368 52h32M640 52h8M24 60h8M104 60h8M304 60h32M352 60h40M640 60h8M24 68h8M96 68h8M208 68h8M296 68h24M368 68h32M640 68h8M88 76h8M208 76h8M288 76h16M384 76h24M640 76h8M88 84h8M200 84h8M280 84h16M400 84h24M80 92h8M200 92h8M272 92h16M416 92h24M696 92h8M32 100h8M80 100h8M192 100h8M272 100h8M424 100h24M696 100h8M32 108h8M72 108h8M192 108h8M264 108h8M432 108h24M696 108h8M32 116h8M72 116h8M184 116h8M264 116h8M440 116h24M696 116h8M32 124h8M64 124h8M256 124h8M448 124h16M696 124h8M32 132h8M64 132h8M176 132h8M256 132h8M456 132h16M696 132h8M32 140h8M56 140h8M168 140h8M256 140h8M464 140h16M696 140h8M32 148h8M56 148h8M168 148h8M248 148h16M472 148h8M696 148h8M32 156h24M160 156h8M248 156h8M472 156h16M696 156h8M32 164h24M248 164h8M480 164h8M696 164h8M32 172h16M152 172h8M248 172h8M480 172h16M40 180h8M144 180h8M248 180h8M488 180h8M640 180h8M136 188h8M248 188h8M488 188h8M640 188h8M136 196h8M248 196h8M488 196h16M640 196h8M128 204h8M248 204h8M496 204h8M640 204h8M120 212h8M240 212h8M496 212h8M640 212h8M688 212h8M112 220h8M240 220h8M496 220h8M640 220h8M688 220h8M104 228h8M240 228h8M496 228h16M688 228h8M96 236h16M240 236h8M504 236h8M648 236h8M688 236h8M88 244h16M232 244h8M504 244h8M648 244h8M-24 252h8M72 252h24M232 252h8M504 252h8M648 252h8M680 252h8M-24 260h8M40 260h40M232 260h8M504 260h8M648 260h16M680 260h8M-24 268h8M32 268h40M224 268h8M504 268h8M656 268h32M-24 276h8M32 276h24M224 276h8M504 276h8M656 276h24M-24 284h8M24 284h16M224 284h8M504 284h8M664 284h16M-16 292h8M24 292h8M216 292h8M504 292h8M-16 300h8M16 300h16M216 300h8M504 300h8M-16 308h40M216 308h8M504 308h8M-8 316h32M208 316h8M504 316h8M-8 324h24M208 324h8M504 324h8M200 332h8M504 332h8M56 340h32M200 340h8M504 340h8M48 348h40M192 348h16M504 348h8M40 356h16M80 356h8M192 356h8M504 356h8M40 364h8M80 364h16M192 364h8M504 364h8M32 372h8M88 372h8M184 372h8M504 372h8M24 380h16M88 380h8M184 380h8M504 380h8M24 388h8M88 388h8M176 388h8M504 388h8M24 396h8M88 396h8M176 396h8M496 396h8M16 404h8M88 404h8M168 404h8M496 404h8M16 412h8M168 412h8M496 412h8M168 420h8M496 420h8M8 428h8M80 428h8M160 428h8M488 428h8M8 436h8M80 436h8M160 436h8M488 436h8M8 444h8M80 444h8M160 444h8M488 444h8M152 452h8M488 452h8M592 452h40M0 460h8M72 460h8M152 460h8M480 460h16M576 460h72M0 468h8M72 468h8M152 468h8M480 468h8M560 468h16M632 468h24M0 476h8M72 476h8M144 476h16M480 476h8M544 476h24M648 476h16M0 484h8M64 484h8M144 484h8M480 484h16M536 484h16M648 484h16M0 492h8M64 492h8M144 492h8M480 492h16M528 492h16M656 492h8M-8 500h8M64 500h8M144 500h8M488 500h48M656 500h16M-16 508h16M72 508h8M144 508h8M488 508h32M664 508h8M-24 516h16M80 516h16M136 516h16M496 516h16M664 516h8M-24 524h8M88 524h16M136 524h16M664 524h8M96 532h24M128 532h24M664 532h8M104 540h48M664 540h8M104 548h48M664 548h8M104 556h48M656 556h16M104 564h48M656 564h8M96 572h24M136 572h24M656 572h8M-24 580h16M88 580h16M144 580h24M216 580h32M656 580h8M-16 588h24M64 588h32M152 588h112M648 588h8M0 596h72M152 596h64M248 596h24M648 596h8M152 604h64M256 604h24M448 604h24M640 604h8M152 612h136M424 612h56M640 612h8M136 620h24M240 620h64M392 620h40M464 620h16M632 620h8M128 628h16M272 628h128M472 628h8M624 628h16M120 636h16M288 636h64M472 636h16M624 636h8M112 644h16M296 644h24M472 644h16M616 644h8M112 652h8M296 652h16M480 652h8M608 652h8M112 660h8M296 660h16M480 660h16M600 660h8M112 668h8M296 668h16M488 668h8M584 668h16M112 676h16M288 676h16M488 676h16M576 676h16M128 684h16M272 684h16M496 684h24M552 684h32M144 692h16M248 692h24M504 692h64M168 700h80"/><path stroke="#060606" d="M168 -20h16M224 -20h8M296 -20h16M392 -20h8M160 -12h8M224 -12h8M288 -12h8M408 -12h8M664 -12h8M152 -4h8M224 -4h8M280 -4h8M416 -4h8M664 -4h16M0 4h8M224 4h8M280 4h8M416 4h8M656 4h24M-8 12h24M144 12h8M224 12h8M280 12h8M416 12h8M656 12h8M680 12h8M-16 20h16M8 20h8M136 20h8M216 20h8M280 20h8M408 20h16M648 20h8M680 20h8M-16 28h8M8 28h8M128 28h8M216 28h8M288 28h8M408 28h8M648 28h8M680 28h8M-16 36h8M16 36h8M216 36h8M296 36h8M392 36h16M648 36h8M16 44h8M120 44h8M312 44h16M368 44h24M16 52h8M112 52h8M208 52h8M328 52h40M688 52h8M-24 60h8M208 60h8M336 60h16M688 60h8M-24 68h8M104 68h8M200 68h8M320 68h48M688 68h8M-24 76h8M24 76h8M96 76h8M200 76h8M304 76h24M360 76h24M688 76h8M-24 84h8M24 84h8M296 84h8M376 84h24M640 84h8M688 84h8M24 92h8M88 92h8M192 92h8M288 92h8M392 92h24M640 92h8M24 100h8M280 100h8M408 100h16M640 100h8M24 108h8M80 108h8M184 108h8M272 108h8M416 108h16M640 108h8M24 116h8M272 116h8M432 116h8M640 116h8M72 124h8M176 124h8M264 124h8M440 124h8M640 124h8M168 132h8M264 132h8M448 132h8M640 132h8M64 140h8M264 140h8M456 140h8M640 140h8M160 148h8M456 148h16M640 148h8M56 156h8M152 156h8M256 156h8M464 156h8M640 156h8M56 164h8M152 164h8M256 164h8M472 164h8M640 164h8M48 172h8M144 172h8M256 172h8M472 172h8M640 172h8M688 172h8M32 180h8M48 180h8M136 180h8M256 180h8M480 180h8M688 180h8M32 188h24M256 188h8M480 188h8M688 188h8M32 196h16M128 196h8M256 196h8M480 196h8M688 196h8M32 204h16M120 204h8M488 204h8M688 204h8M32 212h16M112 212h8M248 212h8M488 212h8M-24 220h8M32 220h16M104 220h8M248 220h8M488 220h8M648 220h8M-24 228h8M32 228h16M96 228h8M248 228h8M648 228h8M680 228h8M-24 236h8M32 236h16M88 236h8M496 236h8M680 236h8M-24 244h8M32 244h56M240 244h8M496 244h8M656 244h8M680 244h8M24 252h48M240 252h8M496 252h8M656 252h24M24 260h16M496 260h8M664 260h16M-16 268h8M24 268h8M232 268h8M496 268h8M-16 276h8M16 276h16M232 276h8M-16 284h16M16 284h8M-8 292h32M224 292h8M-8 300h24M224 300h8M216 316h8M216 324h8M208 332h8M208 340h8M496 348h8M56 356h24M200 356h8M496 356h8M48 364h16M72 364h8M496 364h8M40 372h8M80 372h8M192 372h8M496 372h8M80 380h8M496 380h8M32 388h8M80 388h8M184 388h8M496 388h8M80 396h8M184 396h8M24 404h8M80 404h8M176 404h8M488 404h8M80 412h8M176 412h8M488 412h8M16 420h8M80 420h8M488 420h8M16 428h8M168 428h8M168 436h8M480 436h8M72 444h8M480 444h8M8 452h8M72 452h8M160 452h8M480 452h8M8 460h8M160 460h8M8 468h8M64 468h8M160 468h8M472 468h8M576 468h56M8 476h8M64 476h8M472 476h8M568 476h16M632 476h16M8 484h8M152 484h8M472 484h8M552 484h16M640 484h8M56 492h8M152 492h8M472 492h8M544 492h8M648 492h8M0 500h8M56 500h8M152 500h8M480 500h8M536 500h8M648 500h8M0 508h8M56 508h16M152 508h8M480 508h8M520 508h16M656 508h8M-8 516h8M64 516h16M152 516h8M480 516h16M512 516h16M656 516h8M-16 524h8M72 524h16M152 524h8M488 524h32M656 524h8M-24 532h8M88 532h8M152 532h8M496 532h8M656 532h8M-24 540h8M88 540h16M152 540h8M656 540h8M-24 548h8M96 548h8M152 548h8M656 548h8M-24 556h8M96 556h8M152 556h8M-24 564h8M88 564h16M152 564h16M224 564h24M648 564h8M-24 572h16M80 572h16M160 572h16M200 572h56M648 572h8M-8 580h8M64 580h24M168 580h48M248 580h16M648 580h8M8 588h56M264 588h8M464 588h16M640 588h8M272 596h8M448 596h40M640 596h8M280 604h16M424 604h24M472 604h16M632 604h8M288 612h24M400 612h24M480 612h8M632 612h8M160 620h80M304 620h88M480 620h8M624 620h8M144 628h16M248 628h24M480 628h8M136 636h8M272 636h16M488 636h8M616 636h8M128 644h8M280 644h16M488 644h8M608 644h8M120 652h8M288 652h8M488 652h8M600 652h8M120 660h8M288 660h8M496 660h8M584 660h16M120 668h16M280 668h16M496 668h16M576 668h8M128 676h16M272 676h16M504 676h24M552 676h24M144 684h16M256 684h16M520 684h32M160 692h32M224 692h24"/><path stroke="#080808" d="M184 -20h16M208 -20h16M312 -20h8M384 -20h8M168 -12h16M216 -12h8M296 -12h8M400 -12h8M160 -4h8M216 -4h8M288 -4h8M408 -4h8M152 4h8M216 4h8M288 4h8M408 4h8M216 12h8M288 12h8M408 12h8M664 12h16M0 20h8M288 20h8M656 20h8M672 20h8M-8 28h16M136 28h8M296 28h8M400 28h8M656 28h8M-8 36h24M128 36h8M208 36h8M304 36h16M384 36h8M680 36h8M-16 44h8M8 44h8M208 44h8M328 44h40M648 44h8M680 44h8M-16 52h8M648 52h8M-16 60h8M16 60h8M112 60h8M200 60h8M648 60h8M16 68h8M16 76h8M192 76h8M328 76h32M96 84h8M192 84h8M304 84h16M360 84h16M-24 92h8M296 92h8M384 92h8M688 92h8M-24 100h8M88 100h8M184 100h8M288 100h8M392 100h16M688 100h8M-24 108h8M280 108h8M408 108h8M688 108h8M-24 116h8M80 116h8M176 116h8M416 116h16M688 116h8M-24 124h8M24 124h8M168 124h8M272 124h8M424 124h16M688 124h8M-24 132h8M24 132h8M72 132h8M432 132h16M688 132h8M24 140h8M160 140h8M440 140h16M688 140h8M24 148h8M64 148h8M264 148h8M448 148h8M688 148h8M24 156h8M64 156h8M264 156h8M456 156h8M688 156h8M24 164h8M144 164h8M264 164h8M464 164h8M688 164h8M-24 172h8M24 172h8M56 172h8M464 172h8M-24 180h8M24 180h8M56 180h8M472 180h8M-24 188h8M24 188h8M128 188h8M472 188h8M-24 196h8M24 196h8M48 196h8M120 196h8M648 196h8M-24 204h8M24 204h8M48 204h8M112 204h8M256 204h8M480 204h8M648 204h8M-24 212h8M24 212h8M48 212h8M104 212h8M256 212h8M480 212h8M648 212h8M680 212h8M24 220h8M48 220h8M96 220h8M680 220h8M24 228h8M48 228h16M80 228h16M488 228h8M656 228h8M24 236h8M48 236h40M248 236h8M488 236h8M656 236h8M672 236h8M-16 244h8M24 244h8M488 244h8M664 244h16M-16 252h8M16 252h8M-16 260h8M16 260h8M240 260h8M-8 268h8M8 268h16M-8 276h24M496 276h8M0 284h16M232 284h8M496 284h8M496 292h8M496 300h8M224 308h8M496 308h8M496 316h8M496 324h8M216 332h8M496 332h8M496 340h8M208 348h8M64 364h8M200 364h8M48 372h32M200 372h8M40 380h8M72 380h8M192 380h8M488 380h8M40 388h8M72 388h8M192 388h8M488 388h8M32 396h8M72 396h8M488 396h8M72 404h8M184 404h8M24 412h8M72 412h8M24 420h8M72 420h8M176 420h8M480 420h8M72 428h8M176 428h8M480 428h8M16 436h8M72 436h8M16 444h8M168 444h8M16 452h8M168 452h8M472 452h8M64 460h8M472 460h8M56 476h8M160 476h8M584 476h48M56 484h8M160 484h8M568 484h8M624 484h16M8 492h8M160 492h8M552 492h8M640 492h8M8 500h8M48 500h8M160 500h8M472 500h8M544 500h8M640 500h8M160 508h8M472 508h8M536 508h8M648 508h8M0 516h8M56 516h8M472 516h8M528 516h8M648 516h8M-8 524h8M64 524h8M160 524h8M480 524h8M520 524h8M648 524h8M-16 532h8M72 532h16M160 532h8M480 532h16M504 532h16M648 532h8M-16 540h8M80 540h8M160 540h8M480 540h32M648 540h8M-16 548h8M88 548h8M160 548h8M488 548h16M648 548h8M-16 556h8M80 556h16M160 556h16M224 556h24M480 556h16M648 556h8M-16 564h8M80 564h8M168 564h56M248 564h8M480 564h16M-8 572h8M72 572h8M176 572h24M256 572h8M472 572h24M0 580h24M40 580h24M264 580h8M464 580h32M640 580h8M272 588h8M448 588h16M480 588h16M280 596h16M432 596h16M488 596h8M632 596h8M296 604h16M416 604h8M488 604h8M312 612h24M376 612h24M488 612h8M624 612h8M488 620h8M160 628h16M224 628h24M488 628h8M616 628h8M144 636h16M256 636h16M608 636h8M136 644h8M272 644h8M496 644h8M600 644h8M128 652h16M272 652h16M496 652h8M592 652h8M128 660h8M280 660h8M504 660h8M576 660h8M136 668h8M272 668h8M512 668h16M560 668h16M144 676h8M264 676h8M528 676h24M160 684h8M248 684h8M192 692h32"/><path stroke="#0a0a0a" d="M200 -20h8M320 -20h16M368 -20h16M184 -12h32M304 -12h8M392 -12h8M168 -4h8M208 -4h8M296 -4h8M400 -4h8M160 4h8M208 4h8M400 4h8M152 12h8M208 12h8M400 12h8M144 20h8M208 20h8M296 20h8M400 20h8M664 20h8M208 28h8M304 28h8M392 28h8M664 28h16M320 36h16M368 36h16M656 36h8M672 36h8M-8 44h16M128 44h8M200 44h8M-8 52h8M8 52h8M120 52h8M200 52h8M680 52h8M8 60h8M680 60h8M-16 68h8M112 68h8M192 68h8M648 68h8M-16 76h8M104 76h8M648 76h8M16 84h8M320 84h40M648 84h8M16 92h8M96 92h8M184 92h8M304 92h8M368 92h16M16 100h8M296 100h8M384 100h8M88 108h8M176 108h8M288 108h8M400 108h8M280 116h8M408 116h8M80 124h8M280 124h8M416 124h8M160 132h8M272 132h8M424 132h8M-24 140h8M72 140h8M272 140h8M432 140h8M-24 148h8M152 148h8M440 148h8M-24 156h8M144 156h8M448 156h8M-24 164h8M64 164h8M456 164h8M136 172h8M264 172h8M456 172h8M648 172h8M128 180h8M264 180h8M464 180h8M648 180h8M56 188h8M120 188h8M264 188h8M464 188h8M648 188h8M56 196h8M112 196h8M264 196h8M472 196h8M680 196h8M56 204h8M104 204h8M472 204h8M680 204h8M56 212h8M96 212h8M-16 220h8M16 220h8M56 220h16M80 220h16M256 220h8M480 220h8M656 220h8M672 220h8M-16 228h8M16 228h8M64 228h16M480 228h8M664 228h16M-16 236h8M16 236h8M664 236h8M16 244h8M248 244h8M-8 252h8M8 252h8M488 252h8M-8 260h24M488 260h8M0 268h8M240 268h8M488 268h8M488 276h8M232 292h8M224 316h8M216 340h8M488 348h8M208 356h8M488 356h8M208 364h8M488 364h8M488 372h8M48 380h24M200 380h8M48 388h8M64 388h8M40 396h8M192 396h8M32 404h8M480 404h8M32 412h8M184 412h8M480 412h8M24 428h8M176 436h8M472 436h8M64 444h8M472 444h8M64 452h8M16 460h8M168 460h8M464 460h8M16 468h8M56 468h8M168 468h8M464 468h8M16 476h8M168 476h8M464 476h8M16 484h8M48 484h8M464 484h8M576 484h24M608 484h16M16 492h8M48 492h8M464 492h8M560 492h8M624 492h16M16 500h8M464 500h8M552 500h8M632 500h8M8 508h8M48 508h8M464 508h8M544 508h8M640 508h8M8 516h8M48 516h8M160 516h8M640 516h8M0 524h8M56 524h8M472 524h8M528 524h8M-8 532h8M64 532h8M168 532h8M472 532h8M520 532h8M-8 540h8M72 540h8M168 540h8M472 540h8M512 540h8M-8 548h8M72 548h16M168 548h16M224 548h32M472 548h16M504 548h8M-8 556h8M72 556h8M176 556h48M248 556h16M472 556h8M496 556h16M640 556h8M-8 564h8M72 564h8M256 564h8M464 564h16M496 564h8M640 564h8M0 572h16M56 572h16M264 572h8M464 572h8M496 572h8M640 572h8M24 580h16M272 580h8M448 580h16M496 580h8M280 588h8M440 588h8M496 588h8M632 588h8M296 596h8M424 596h8M312 604h16M400 604h16M624 604h8M336 612h40M496 612h8M496 620h8M616 620h8M176 628h48M496 628h8M608 628h8M160 636h8M240 636h16M496 636h8M600 636h8M144 644h8M256 644h16M504 644h8M592 644h8M144 652h8M264 652h8M504 652h16M584 652h8M136 660h8M272 660h8M512 660h16M568 660h8M144 668h8M264 668h8M528 668h32M152 676h8M256 676h8M168 684h16M224 684h24"/><path stroke="#0c0c0c" d="M336 -20h32M312 -12h8M384 -12h8M176 -4h32M304 -4h8M392 -4h8M168 4h8M200 4h8M296 4h8M160 12h8M200 12h8M296 12h8M152 20h8M304 20h8M392 20h8M144 28h8M200 28h8M312 28h8M384 28h8M136 36h8M200 36h8M336 36h32M664 36h8M656 44h8M672 44h8M0 52h8M656 52h8M-8 60h16M120 60h8M192 60h8M-8 68h8M8 68h8M680 68h8M8 76h8M680 76h8M-16 84h8M104 84h8M184 84h8M680 84h8M-16 92h8M312 92h16M352 92h16M648 92h8M-16 100h8M96 100h8M176 100h8M304 100h8M376 100h8M648 100h8M16 108h8M296 108h8M392 108h8M648 108h8M16 116h8M88 116h8M168 116h8M288 116h8M400 116h8M648 116h8M16 124h8M408 124h8M648 124h8M16 132h8M80 132h8M280 132h8M416 132h8M648 132h8M16 140h8M152 140h8M424 140h8M648 140h8M16 148h8M72 148h8M272 148h8M432 148h8M648 148h8M16 156h8M72 156h8M272 156h8M440 156h8M648 156h8M16 164h8M136 164h8M272 164h8M448 164h8M648 164h8M16 172h8M64 172h8M128 172h8M680 172h8M16 180h8M64 180h8M456 180h8M680 180h8M16 188h8M64 188h8M680 188h8M-16 196h8M16 196h8M64 196h8M464 196h8M-16 204h8M16 204h8M64 204h8M264 204h8M656 204h8M-16 212h8M16 212h8M64 212h16M88 212h8M472 212h8M656 212h8M672 212h8M72 220h8M472 220h8M664 220h8M256 228h8M-8 236h8M8 236h8M480 236h8M-8 244h24M480 244h8M0 252h8M248 252h8M480 252h8M240 276h8M488 284h8M488 292h8M232 300h8M488 300h8M488 308h8M488 316h8M224 324h8M488 324h8M224 332h8M488 332h8M488 340h8M216 348h8M208 372h8M56 388h8M200 388h8M480 388h8M48 396h8M64 396h8M480 396h8M40 404h8M64 404h8M192 404h8M64 412h8M32 420h8M64 420h8M184 420h8M64 428h8M184 428h8M472 428h8M24 436h8M64 436h8M24 444h8M176 444h8M24 452h8M176 452h8M464 452h8M56 460h8M24 476h8M48 476h8M24 484h8M168 484h8M456 484h8M600 484h8M24 492h24M168 492h8M456 492h8M568 492h16M616 492h8M24 500h24M168 500h8M560 500h8M624 500h8M16 508h32M168 508h8M632 508h8M16 516h8M40 516h8M168 516h8M464 516h8M536 516h8M8 524h8M48 524h8M168 524h8M464 524h8M640 524h8M0 532h8M56 532h8M464 532h8M640 532h8M0 540h8M64 540h8M176 540h8M224 540h32M464 540h8M520 540h8M640 540h8M64 548h8M184 548h40M256 548h8M464 548h8M512 548h8M640 548h8M0 556h8M64 556h8M464 556h8M0 564h8M56 564h16M264 564h8M456 564h8M504 564h8M16 572h40M272 572h8M456 572h8M504 572h8M632 572h8M280 580h8M440 580h8M632 580h8M288 588h8M432 588h8M304 596h8M408 596h16M496 596h8M624 596h8M328 604h16M376 604h24M496 604h8M616 612h8M608 620h8M504 628h8M600 628h8M168 636h16M232 636h8M504 636h8M592 636h8M152 644h8M248 644h8M512 644h8M584 644h8M256 652h8M520 652h8M576 652h8M144 660h8M264 660h8M528 660h40M152 668h8M256 668h8M160 676h8M240 676h16M184 684h40"/><path stroke="#0e0e0e" d="M320 -12h8M376 -12h8M384 -4h8M176 4h24M304 4h8M392 4h8M168 12h8M304 12h8M392 12h8M200 20h8M384 20h8M320 28h8M368 28h16M136 44h8M192 44h8M664 44h8M128 52h8M192 52h8M664 52h16M656 60h8M672 60h8M0 68h8M656 68h8M-8 76h16M112 76h8M184 76h8M-8 84h8M8 84h8M8 92h8M104 92h8M176 92h8M328 92h24M680 92h8M312 100h8M368 100h8M680 100h8M-16 108h8M168 108h8M384 108h8M680 108h8M-16 116h8M392 116h8M680 116h8M-16 124h8M88 124h8M160 124h8M288 124h8M400 124h8M680 124h8M-16 132h8M680 132h8M-16 140h8M80 140h8M280 140h8M680 140h8M-16 148h8M144 148h8M424 148h8M680 148h8M-16 156h8M432 156h8M680 156h8M-16 164h8M72 164h8M440 164h8M680 164h8M-16 172h8M272 172h8M448 172h8M-16 180h8M120 180h8M272 180h8M-16 188h8M112 188h8M456 188h8M656 188h8M104 196h8M656 196h8M672 196h8M72 204h32M464 204h8M664 204h16M8 212h8M80 212h8M264 212h8M664 212h8M-8 220h8M8 220h8M-8 228h24M472 228h8M0 236h8M256 236h8M248 260h8M480 260h8M480 268h8M240 284h8M232 308h8M224 340h8M216 356h8M480 372h8M208 380h8M480 380h8M56 396h8M200 396h8M48 404h16M40 412h8M192 412h8M472 412h8M472 420h8M32 428h8M184 436h8M56 444h8M464 444h8M56 452h8M24 460h8M176 460h8M24 468h8M48 468h8M176 468h8M456 468h8M32 476h16M456 476h8M32 484h16M584 492h32M456 500h8M568 500h8M616 500h8M456 508h8M552 508h8M624 508h8M24 516h16M176 516h8M456 516h8M544 516h8M632 516h8M16 524h32M176 524h8M536 524h8M632 524h8M8 532h8M40 532h16M176 532h16M224 532h32M528 532h8M8 540h8M48 540h16M184 540h40M256 540h8M0 548h8M56 548h8M8 556h8M56 556h8M264 556h8M456 556h8M512 556h8M632 556h8M8 564h48M272 564h8M632 564h8M280 572h8M448 572h8M288 580h8M504 580h8M296 588h8M424 588h8M504 588h8M624 588h8M312 596h16M400 596h8M504 596h8M344 604h32M504 604h8M616 604h8M504 612h8M504 620h8M184 636h48M512 636h8M160 644h8M240 644h8M576 644h8M152 652h8M248 652h8M528 652h8M560 652h16M152 660h8M256 660h8M160 668h8M248 668h8M168 676h16M232 676h8"/><path stroke="#101010" d="M328 -12h16M360 -12h16M312 -4h8M384 4h8M176 12h24M384 12h8M160 20h8M192 20h8M312 20h8M376 20h8M152 28h8M192 28h8M328 28h16M352 28h16M144 36h8M192 36h8M128 60h8M664 60h8M120 68h8M184 68h8M672 68h8M656 76h8M0 84h8M112 84h8M176 84h8M656 84h8M-8 92h16M-8 100h8M8 100h8M168 100h8M320 100h16M352 100h16M8 108h8M96 108h8M304 108h8M376 108h8M8 116h8M160 116h8M296 116h8M384 116h8M152 132h8M288 132h8M408 132h8M416 140h8M80 148h8M280 148h8M136 156h8M128 164h8M432 164h8M72 172h8M120 172h8M440 172h8M656 172h8M8 180h8M72 180h8M112 180h8M448 180h8M656 180h8M672 180h8M8 188h8M72 188h8M104 188h8M272 188h8M448 188h8M672 188h8M-8 196h8M8 196h8M72 196h32M272 196h8M456 196h8M664 196h8M-8 204h8M8 204h8M-8 212h16M464 212h8M0 220h8M264 220h8M464 220h8M472 236h8M256 244h8M472 244h8M248 268h8M480 276h8M480 284h8M240 292h8M480 292h8M232 316h8M224 348h8M480 348h8M480 356h8M216 364h8M480 364h8M208 388h8M200 404h8M472 404h8M48 412h16M40 420h24M192 420h8M40 428h8M56 428h8M32 436h8M56 436h8M464 436h8M32 444h8M184 444h8M32 452h8M48 452h8M184 452h8M32 460h24M456 460h8M32 468h16M176 476h8M176 484h8M176 492h8M176 500h8M576 500h8M608 500h8M176 508h8M560 508h8M552 516h8M624 516h8M184 524h8M232 524h24M456 524h8M16 532h24M192 532h32M256 532h8M456 532h8M632 532h8M16 540h8M40 540h8M264 540h8M456 540h8M528 540h8M632 540h8M8 548h16M40 548h16M264 548h8M456 548h8M520 548h8M632 548h8M16 556h40M272 556h8M448 564h8M512 564h8M440 572h8M512 572h8M296 580h8M432 580h8M624 580h8M304 588h8M416 588h8M328 596h8M392 596h8M616 596h8M608 612h8M600 620h8M512 628h8M592 628h8M584 636h8M168 644h16M232 644h8M520 644h8M568 644h8M160 652h8M240 652h8M536 652h24M160 660h8M248 660h8M168 668h8M240 668h8M184 676h48"/><path stroke="#121212" d="M344 -12h16M320 -4h8M376 -4h8M312 4h8M312 12h8M168 20h24M320 20h8M160 28h8M184 28h8M344 28h8M152 36h8M144 44h8M136 52h8M184 52h8M184 60h8M664 68h8M120 76h8M176 76h8M664 76h16M672 84h8M656 92h8M0 100h8M104 100h8M336 100h16M656 100h8M-8 108h16M312 108h8M368 108h8M656 108h8M-8 116h16M96 116h8M656 116h8M-8 124h8M8 124h8M152 124h8M296 124h8M392 124h8M-8 132h8M8 132h8M88 132h8M400 132h8M-8 140h8M8 140h8M144 140h8M408 140h8M656 140h8M8 148h8M136 148h8M416 148h8M656 148h8M8 156h8M80 156h8M280 156h8M424 156h8M656 156h8M-8 164h8M8 164h8M80 164h8M280 164h8M656 164h8M672 164h8M-8 172h8M8 172h8M80 172h8M672 172h8M-8 180h8M80 180h8M440 180h8M664 180h8M-8 188h16M80 188h24M664 188h8M0 196h8M448 196h8M0 204h8M272 204h8M456 204h8M456 212h8M264 228h8M464 228h8M472 252h8M480 300h8M480 308h8M480 316h8M232 324h8M480 324h8M480 332h8M480 340h8M216 372h8M472 396h8M200 412h8M48 428h8M192 428h8M464 428h8M40 436h16M192 436h8M40 444h16M40 452h8M184 460h8M184 468h8M448 484h8M448 492h8M448 500h8M584 500h24M184 508h8M448 508h8M568 508h8M616 508h8M184 516h8M232 516h24M448 516h8M192 524h40M256 524h8M544 524h8M624 524h8M264 532h8M536 532h8M24 540h16M24 548h16M272 548h8M448 556h8M520 556h8M280 564h8M440 564h8M624 564h8M288 572h8M432 572h8M624 572h8M424 580h8M512 580h8M312 588h8M408 588h8M512 588h8M616 588h8M336 596h24M368 596h24M512 596h8M512 604h8M608 604h8M512 612h8M512 620h8M520 636h8M576 636h8M184 644h48M528 644h16M560 644h8M168 652h8M232 652h8M168 660h8M240 660h8M176 668h8M232 668h8"/><path stroke="#141414" d="M328 -4h8M368 -4h8M320 4h8M376 4h8M320 12h8M376 12h8M328 20h8M360 20h16M168 28h16M184 36h8M184 44h8M128 68h8M176 68h8M664 84h8M112 92h8M168 92h8M664 92h16M672 100h8M104 108h8M160 108h8M320 108h8M352 108h16M672 108h8M304 116h8M376 116h8M672 116h8M0 124h8M96 124h8M384 124h8M656 124h8M672 124h8M0 132h8M144 132h8M656 132h8M672 132h8M0 140h8M88 140h8M288 140h8M672 140h8M-8 148h16M88 148h8M672 148h8M-8 156h16M128 156h8M416 156h8M672 156h8M0 164h8M120 164h8M424 164h8M664 164h8M0 172h8M112 172h8M280 172h8M432 172h8M664 172h8M0 180h8M88 180h24M280 180h8M440 188h8M448 204h8M272 212h8M456 220h8M464 236h8M256 252h8M472 260h8M472 268h8M248 276h8M240 300h8M232 332h8M224 356h8M216 380h8M472 388h8M208 396h8M200 420h8M464 420h8M192 444h8M456 452h8M184 476h8M448 476h8M184 484h8M184 492h8M184 500h8M240 508h16M576 508h8M600 508h16M192 516h16M216 516h16M256 516h8M560 516h8M616 516h8M264 524h8M448 524h8M552 524h8M448 532h8M544 532h8M624 532h8M272 540h8M448 540h8M536 540h8M624 540h8M448 548h8M528 548h8M624 548h8M280 556h8M624 556h8M288 564h8M520 564h8M296 572h8M304 580h8M416 580h8M616 580h8M320 588h8M400 588h8M360 596h8M600 612h8M592 620h8M520 628h8M584 628h8M528 636h8M568 636h8M544 644h16M176 652h16M224 652h8M176 660h8M232 660h8M184 668h16M208 668h24"/><path stroke="#161616" d="M336 -4h32M328 4h8M368 4h8M328 12h8M368 12h8M336 20h24M160 36h24M152 44h8M176 44h8M144 52h8M176 52h8M136 60h8M176 60h8M120 84h8M168 84h8M160 100h8M664 100h8M328 108h24M664 108h8M152 116h8M312 116h8M368 116h8M664 116h8M304 124h8M664 124h8M96 132h8M296 132h8M392 132h8M664 132h8M136 140h8M400 140h8M664 140h8M288 148h8M408 148h8M664 148h8M88 156h8M288 156h8M664 156h8M88 164h8M88 172h8M104 172h8M424 172h8M432 180h8M280 188h8M440 196h8M456 228h8M264 236h8M464 244h8M472 276h8M472 284h8M240 308h8M232 340h8M224 364h8M472 372h8M472 380h8M216 388h8M208 404h8M200 428h8M456 444h8M192 452h8M192 460h8M448 468h8M192 500h8M240 500h16M192 508h16M224 508h16M256 508h8M584 508h16M208 516h8M264 516h8M568 516h8M608 516h8M616 524h8M272 532h8M280 548h8M440 556h8M528 556h8M432 564h8M424 572h8M520 572h8M616 572h8M312 580h8M408 580h8M520 580h8M328 588h16M392 588h8M608 596h8M600 604h8M520 612h8M520 620h8M528 628h8M576 628h8M536 636h16M560 636h8M192 652h32M184 660h16M208 660h24M200 668h8"/><path stroke="#181818" d="M336 4h8M360 4h8M336 12h8M352 12h16M160 44h16M128 76h8M168 76h8M160 92h8M112 100h8M104 116h8M320 116h8M360 116h8M144 124h8M376 124h8M96 140h8M296 140h8M128 148h8M120 156h8M408 156h8M96 164h24M288 164h8M416 164h8M96 172h8M432 188h8M280 196h8M440 204h8M448 212h8M272 220h8M456 236h8M464 252h8M256 260h8M248 284h8M472 292h8M240 316h8M232 348h8M472 364h8M224 372h8M216 396h8M208 412h8M464 412h8M200 436h8M192 468h8M192 476h8M192 484h8M192 492h8M200 500h8M224 500h16M256 500h16M440 500h8M208 508h16M264 508h8M440 508h8M272 516h8M440 516h8M576 516h8M600 516h8M272 524h8M440 524h8M560 524h8M440 532h8M552 532h8M616 532h8M280 540h8M440 540h8M544 540h8M616 540h8M440 548h8M536 548h8M288 556h8M616 556h8M296 564h8M528 564h8M616 564h8M304 572h8M320 580h8M344 588h8M376 588h16M520 588h8M608 588h8M520 596h8M520 604h8M592 612h8M528 620h8M584 620h8M552 636h8M200 660h8"/><path stroke="#1a1a1a" d="M344 4h16M344 12h8M152 52h24M144 60h8M168 60h8M136 68h8M168 68h8M160 84h8M120 92h8M112 108h8M152 108h8M328 116h8M352 116h8M104 124h8M312 124h8M136 132h8M304 132h8M384 132h8M128 140h8M392 140h8M96 148h8M120 148h8M400 148h8M96 156h24M288 172h8M416 172h8M424 180h8M432 196h8M448 220h8M264 244h8M464 260h8M472 300h8M472 308h8M472 316h8M472 324h8M472 332h8M472 340h8M472 348h8M472 356h8M224 380h8M216 404h8M464 404h8M208 420h8M456 436h8M200 444h8M200 452h8M448 460h8M200 484h8M200 492h8M232 492h40M440 492h8M208 500h16M272 508h8M584 516h16M568 524h8M608 524h8M280 532h8M288 548h8M616 548h8M432 556h8M536 556h8M424 564h8M312 572h8M416 572h8M528 572h8M328 580h8M400 580h8M608 580h8M352 588h24M600 596h8M528 612h8M536 628h16M560 628h16"/><path stroke="#1c1c1c" d="M152 60h16M144 68h8M160 68h8M136 76h8M160 76h8M128 84h8M120 100h8M152 100h8M112 116h8M144 116h8M336 116h16M136 124h8M368 124h8M104 132h8M104 140h8M104 148h16M296 148h8M408 164h8M288 180h8M424 188h8M280 204h8M432 204h8M440 212h8M448 228h8M456 244h8M256 268h8M464 268h8M248 292h8M240 324h8M232 356h8M224 388h8M216 412h8M208 428h8M200 460h8M200 468h8M200 476h8M240 484h32M440 484h8M208 492h24M272 500h8M280 516h8M280 524h8M576 524h8M600 524h8M560 532h8M608 532h8M288 540h8M432 548h8M544 548h8M296 556h8M304 564h8M408 572h8M608 572h8M392 580h8M528 580h8M528 588h8M528 596h8M528 604h8M592 604h8M584 612h8M536 620h8M576 620h8M552 628h8"/><path stroke="#1e1e1e" d="M152 68h8M144 76h16M136 84h8M152 84h8M128 92h8M152 92h8M120 108h8M144 108h8M112 124h8M320 124h8M360 124h8M112 132h8M128 132h8M376 132h8M112 140h16M304 140h8M384 140h8M392 148h8M296 156h8M400 156h8M416 180h8M424 196h8M440 220h8M272 228h8M448 236h8M456 252h8M464 276h8M240 332h8M232 364h8M224 396h8M464 396h8M216 420h8M456 428h8M208 436h8M208 444h8M208 452h8M448 452h8M208 468h8M208 476h8M248 476h16M440 476h8M208 484h32M272 492h8M280 500h8M280 508h8M432 524h8M584 524h16M288 532h8M432 532h8M600 532h8M432 540h8M552 540h8M608 540h8M296 548h8M608 548h8M424 556h8M608 556h8M416 564h8M536 564h8M608 564h8M320 572h8M336 580h8M384 580h8M600 588h8M536 612h8M544 620h8M568 620h8"/><path stroke="#202020" d="M144 84h8M136 92h16M128 100h8M144 100h8M128 108h16M120 116h24M120 124h16M328 124h8M352 124h8M120 132h8M312 132h8M296 164h8M408 172h8M288 188h8M416 188h8M280 212h8M432 212h8M440 228h8M448 244h8M264 252h8M456 260h8M464 284h8M248 300h8M232 372h8M464 388h8M224 404h8M216 428h8M208 460h8M216 476h32M264 476h8M272 484h8M280 492h8M432 508h8M288 516h8M432 516h8M288 524h8M568 532h8M592 532h8M560 540h8M304 556h8M544 556h8M312 564h8M400 572h8M536 572h8M344 580h16M376 580h8M600 580h8M592 596h8M536 604h8M584 604h8M576 612h8M552 620h16"/><path stroke="#222222" d="M136 100h8M336 124h16M368 132h8M304 148h8M400 164h8M408 180h8M424 204h8M432 220h8M256 276h8M464 292h8M240 340h8M232 380h8M464 380h8M224 412h8M456 420h8M216 436h8M216 444h8M216 452h8M216 460h8M216 468h56M272 476h8M280 484h8M288 500h8M432 500h8M288 508h8M576 532h16M296 540h8M600 540h8M424 548h8M552 548h8M600 548h8M416 556h8M408 564h8M544 564h8M328 572h8M600 572h8M360 580h16M536 580h8M536 588h8M592 588h8M536 596h8M544 612h8M568 612h8"/><path stroke="#242424" d="M320 132h8M360 132h8M312 140h8M376 140h8M384 148h8M392 156h8M296 172h8M288 196h8M416 196h8M424 212h8M432 228h8M272 236h8M440 236h8M448 252h8M456 268h8M464 300h8M248 308h8M240 348h8M464 372h8M232 388h8M224 420h8M224 428h8M448 444h8M224 452h8M224 460h40M272 468h8M440 468h8M280 476h8M288 492h8M432 492h8M296 524h8M296 532h8M424 540h8M568 540h8M592 540h8M304 548h8M312 556h8M552 556h8M600 556h8M320 564h8M600 564h8M336 572h8M392 572h8M544 572h8M584 596h8M544 604h8M576 604h8M552 612h16"/><path stroke="#262626" d="M328 132h8M352 132h8M304 156h8M400 172h8M296 180h8M408 188h8M416 204h8M280 220h8M424 220h8M440 244h8M456 276h8M464 308h8M464 316h8M240 356h8M464 364h8M232 396h8M232 404h8M456 412h8M224 436h8M224 444h8M232 452h24M264 460h16M280 468h8M288 484h8M296 508h8M296 516h8M424 524h8M424 532h8M304 540h8M576 540h16M416 548h8M560 548h8M592 548h8M344 572h8M384 572h8M544 580h8M592 580h8M544 588h8M544 596h8M552 604h8M568 604h8"/><path stroke="#282828" d="M336 132h16M320 140h8M368 140h8M312 148h8M392 164h8M288 204h8M416 212h8M432 236h8M264 260h8M448 260h8M256 284h8M248 316h8M464 324h8M464 332h8M464 340h8M464 348h8M464 356h8M240 364h8M232 412h8M232 420h8M232 428h8M232 436h8M232 444h16M256 452h16M288 476h8M432 484h8M296 492h8M296 500h8M424 516h8M304 532h8M312 548h8M568 548h24M320 556h8M408 556h8M560 556h8M592 556h8M328 564h8M400 564h8M552 564h8M592 564h8M352 572h8M376 572h8M592 572h8M584 588h8M552 596h8M576 596h8M560 604h8"/><path stroke="#2a2a2a" d="M376 148h8M384 156h8M304 164h8M400 180h8M408 196h8M424 228h8M440 252h8M456 284h8M240 372h8M456 404h8M240 436h8M448 436h8M248 444h16M272 452h8M280 460h8M440 460h8M288 468h8M296 476h8M296 484h8M304 508h8M424 508h8M304 516h8M304 524h8M416 540h8M568 556h8M584 556h8M336 564h8M560 564h8M360 572h16M552 572h8M552 580h8M584 580h8M552 588h8M576 588h8M560 596h16"/><path stroke="#2c2c2c" d="M328 140h8M360 140h8M296 188h8M408 204h8M416 220h8M424 236h8M272 244h8M432 244h8M448 268h8M248 324h8M240 380h8M240 388h8M240 396h8M240 412h8M240 420h8M240 428h8M248 436h8M264 444h8M280 452h8M288 460h8M296 468h8M304 492h8M304 500h8M312 540h8M320 548h8M328 556h8M576 556h8M392 564h8M568 564h8M584 564h8M560 572h8M584 572h8M560 580h8M576 580h8M560 588h16"/><path stroke="#2e2e2e" d="M336 140h8M352 140h8M320 148h8M312 156h8M304 172h8M392 172h8M400 188h8M280 228h8M416 228h8M432 252h8M440 260h8M264 268h8M256 292h8M456 292h8M248 332h8M240 404h8M248 428h8M256 436h8M272 444h8M288 452h8M304 476h8M432 476h8M304 484h8M424 500h8M312 524h8M312 532h8M416 532h8M408 548h8M400 556h8M344 564h8M576 564h8M568 572h16M568 580h8"/><path stroke="#303030" d="M344 140h8M368 148h8M384 164h8M288 212h8M408 212h8M416 236h8M424 244h8M448 276h8M456 300h8M456 396h8M248 420h8M256 428h8M448 428h8M264 436h8M280 444h8M440 452h8M296 460h8M304 468h8M312 484h8M312 492h8M312 500h8M312 508h8M312 516h8M416 524h8M320 540h8M336 556h8M352 564h8M384 564h8"/><path stroke="#323232" d="M376 156h8M312 164h8M304 180h8M392 180h8M296 196h8M400 196h8M408 220h8M424 252h8M432 260h8M440 268h8M248 340h8M456 388h8M248 412h8M272 436h8M288 444h8M296 452h8M304 460h8M312 476h8M424 492h8M320 532h8M408 540h8M328 548h8M360 564h24"/><path stroke="#343434" d="M328 148h8M360 148h8M320 156h8M408 228h8M416 244h8M272 252h8M448 284h8M256 300h8M456 308h8M248 348h8M248 404h8M256 420h8M264 428h8M280 436h8M296 444h8M304 452h8M312 468h8M320 484h8M320 492h8M320 500h8M320 508h8M320 516h8M416 516h8M320 524h8M400 548h8M344 556h8M392 556h8"/><path stroke="#363636" d="M336 148h8M400 204h8M408 236h8M416 252h8M456 316h8M248 356h8M248 364h8M248 372h8M248 380h8M456 380h8M248 388h8M248 396h8M448 420h8M272 428h8M288 436h8M312 460h8M320 468h8M432 468h8M320 476h8M408 532h8M328 540h8M336 548h8"/><path stroke="#383838" d="M344 148h16M368 156h8M312 172h8M384 172h8M392 188h8M400 212h8M280 236h8M424 260h8M432 268h8M264 276h8M440 276h8M448 292h8M256 308h8M256 412h8M264 420h8M280 428h8M296 436h8M304 444h8M440 444h8M312 452h8M320 460h8M328 492h8M328 500h8M416 508h8M328 524h8M328 532h8M352 556h8M384 556h8"/><path stroke="#3a3a3a" d="M328 156h8M376 164h8M304 188h8M296 204h8M288 220h8M400 220h8M408 244h8M416 260h8M456 324h8M456 372h8M256 404h8M288 428h8M304 436h8M312 444h8M320 452h8M328 468h8M328 476h8M328 484h8M424 484h8M328 508h8M328 516h8M336 540h8M400 540h8M344 548h8M392 548h8M360 556h8M376 556h8"/><path stroke="#3c3c3c" d="M320 164h8M392 196h8M408 252h8M424 268h8M456 332h8M456 340h8M456 348h8M456 356h8M456 364h8M264 412h8M272 420h8M296 428h8M312 436h8M320 444h8M328 460h8M408 524h8M368 556h8"/><path stroke="#3e3e3e" d="M360 156h8M384 180h8M400 228h8M272 260h8M408 260h8M416 268h8M432 276h8M440 284h8M448 300h8M256 316h8M256 396h8M448 412h8M280 420h8M304 428h8M320 436h8M328 452h8M336 484h8M336 492h8M336 500h8M416 500h8M336 524h8M336 532h8"/><path stroke="#404040" d="M336 156h8M352 156h8M312 180h8M400 236h8M400 244h8M264 284h8M288 420h8M312 428h16M328 436h8M328 444h8M432 460h8M336 468h8M336 476h8M336 508h8M336 516h8M408 516h8M400 532h8M344 540h8M352 548h8M384 548h8"/><path stroke="#424242" d="M344 156h8M368 164h8M376 172h8M304 196h8M392 204h8M400 252h8M408 268h8M424 276h8M256 324h8M256 388h8M264 404h8M272 412h8M296 420h8M328 428h8M440 436h8M336 452h8M336 460h8M392 540h8M360 548h8"/><path stroke="#444444" d="M328 164h8M320 172h8M384 188h8M296 212h8M392 212h8M280 244h8M400 260h8M416 276h8M432 284h8M440 292h8M448 308h8M256 380h8M448 404h8M304 420h32M336 436h8M336 444h8M424 476h8M344 532h8M352 540h8M368 548h16"/><path stroke="#464646" d="M288 228h8M400 268h8M408 276h8M256 332h8M256 372h8M280 412h8M336 428h8M416 492h8M344 508h8M408 508h8M344 516h8M344 524h8M400 524h8"/><path stroke="#484848" d="M360 164h8M392 220h8M400 276h8M424 284h8M264 292h8M448 316h8M256 340h8M256 348h8M256 356h8M256 364h8M264 396h8M448 396h8M272 404h8M288 412h8M312 412h32M336 420h8M344 476h8M344 484h8M344 492h8M344 500h8M384 540h8"/><path stroke="#4a4a4a" d="M336 164h8M376 180h8M312 188h8M384 196h8M392 228h8M272 268h8M408 284h16M440 300h8M336 404h8M296 412h16M440 428h8M344 452h8M432 452h8M344 460h8M344 468h8M352 532h8M392 532h8M360 540h8"/><path stroke="#4c4c4c" d="M344 164h16M368 172h8M392 236h8M400 284h8M432 292h8M448 324h8M264 388h8M328 404h8M344 412h8M344 420h8M344 428h8M344 436h8M344 444h8M352 524h8M368 540h16"/><path stroke="#4e4e4e" d="M328 172h8M320 180h8M304 204h8M392 244h8M392 252h8M392 260h8M392 268h8M392 276h8M448 388h8M336 396h16M280 404h8M320 404h8M344 404h8M424 468h8M416 484h8M408 500h8M352 516h8M400 516h8M360 532h8"/><path stroke="#505050" d="M384 204h8M280 252h8M392 284h8M392 292h24M424 292h8M264 300h8M448 332h8M344 388h8M272 396h8M328 396h8M288 404h8M312 404h8M352 508h8M392 524h8M384 532h8"/><path stroke="#525252" d="M376 188h8M296 220h8M416 292h8M440 308h8M264 380h8M448 380h8M336 388h8M296 404h16M352 492h8M352 500h8M368 532h16"/><path stroke="#545454" d="M360 172h8M288 236h8M392 300h16M432 300h8M448 340h8M448 372h8M344 380h16M352 388h8M320 396h8M352 396h8M352 404h8M440 420h8M432 444h8M352 484h8M360 524h8"/><path stroke="#565656" d="M336 172h8M368 180h8M312 196h8M384 212h8M272 276h8M384 300h8M264 308h8M448 348h8M448 356h8M448 364h8M352 372h8M280 396h8M352 412h8M352 468h8M352 476h8M400 508h8M360 516h8"/><path stroke="#585858" d="M344 172h16M384 284h8M384 292h8M408 300h8M384 308h16M384 316h8M360 356h8M352 364h16M264 372h8M344 372h8M360 372h8M336 380h8M272 388h8M328 388h8M312 396h8M352 420h8M352 428h8M352 452h8M352 460h8M408 492h8M392 516h8M368 524h8M384 524h8"/><path stroke="#5a5a5a" d="M328 180h8M320 188h8M384 220h8M384 276h8M416 300h16M440 316h8M376 324h8M368 348h8M360 380h8M288 396h8M352 436h8M352 444h8M424 460h8M416 476h8M360 508h8M376 524h8"/><path stroke="#5c5c5c" d="M376 196h8M384 228h8M384 268h8M400 308h8M264 316h8M376 316h8M392 316h8M384 324h8M376 332h8M368 340h8M360 348h8M368 356h8M264 364h8M360 388h8M296 396h16M440 412h8"/><path stroke="#5e5e5e" d="M304 212h8M384 236h8M280 260h8M384 260h8M376 308h8M432 308h8M368 332h8M376 340h8M352 356h8M320 388h8M360 500h8M400 500h8M368 516h8M384 516h8"/><path stroke="#606060" d="M360 180h8M368 188h8M384 244h8M384 252h8M272 284h8M264 324h8M368 324h8M440 324h8M360 340h8M264 356h8M344 364h8M368 364h8M336 372h8M272 380h8M328 380h8M280 388h8M360 396h8M432 436h8M360 492h8M392 508h8M376 516h8"/><path stroke="#626262" d="M336 180h8M376 204h8M296 228h8M288 244h8M376 300h8M408 308h8M264 332h8M384 332h8M264 340h8M264 348h8M376 348h8M368 508h8"/><path stroke="#646464" d="M416 308h16M400 316h8M392 324h8M352 348h8M368 372h8M312 388h8M360 404h8M440 404h8M360 484h8M408 484h8"/><path stroke="#666666" d="M344 180h16M312 204h8M376 292h8M368 316h8M432 316h8M440 332h8M288 388h8M360 412h8M424 452h8M360 476h8"/><path stroke="#686868" d="M328 188h8M360 332h8M384 340h8M376 356h8M272 372h8M368 380h8M304 388h8M360 468h8M416 468h8M368 500h8M376 508h16"/><path stroke="#6a6a6a" d="M320 196h8M376 212h8M376 284h8M272 292h8M344 356h8M320 380h8M296 388h8M440 396h8M360 420h8M432 428h8M400 492h8M392 500h8"/><path stroke="#6c6c6c" d="M360 188h8M368 196h8M280 268h8M368 308h8M408 316h8M392 332h8M440 340h8M336 364h8M328 372h8M280 380h8M360 428h8M360 436h8M360 452h8M360 460h8"/><path stroke="#6e6e6e" d="M304 220h8M376 276h8M424 316h8M400 324h8M352 340h8M376 364h8M368 388h8M440 388h8M360 444h8M368 492h8M376 500h8"/><path stroke="#707070" d="M376 220h8M416 316h8M360 324h8M432 324h8M384 348h8M440 348h8M272 364h8M384 500h8"/><path stroke="#727272" d="M336 188h8M376 268h8M312 380h8M440 380h8M408 476h8M368 484h8"/><path stroke="#747474" d="M352 188h8M376 228h8M296 236h8M288 252h8M272 300h8M368 300h8M344 348h8M440 356h8M440 364h8M440 372h8M288 380h8M368 396h8M424 444h8"/><path stroke="#767676" d="M344 188h8M368 204h8M312 212h8M376 236h8M376 260h8M392 340h8M376 372h8M304 380h8M432 420h8M416 460h8M400 484h8M376 492h8M392 492h8"/><path stroke="#787878" d="M376 244h8M376 252h8M408 324h8M432 332h8M272 356h8M280 372h8M320 372h8M296 380h8M368 476h8"/><path stroke="#7a7a7a" d="M328 196h8M360 196h8M320 204h8M280 276h8M272 308h8M360 316h8M424 324h8M352 332h8M400 332h8M336 356h8M384 356h8M328 364h8M368 404h8M384 492h8"/><path stroke="#7c7c7c" d="M368 292h8M416 324h8M368 468h8"/><path stroke="#7e7e7e" d="M272 348h8M376 380h8M368 412h8M432 412h8M376 484h8"/><path stroke="#808080" d="M368 212h8M272 316h8M432 340h8M424 436h8M368 460h8M408 468h8M392 484h8"/><path stroke="#828282" d="M304 228h8M272 324h8M272 332h8M272 340h8M344 340h8M392 348h8M288 372h8M312 372h8M368 420h8M400 476h8"/><path stroke="#848484" d="M336 196h8M352 196h8M288 260h8M368 284h8M360 308h8M408 332h8M424 332h8M280 364h8M384 364h8M368 428h8M368 452h8M416 452h8M384 484h8"/><path stroke="#868686" d="M296 244h8M352 324h8M400 340h8M376 388h8M432 404h8M368 436h8M368 444h8M376 476h8"/><path stroke="#888888" d="M344 196h8M360 204h8M368 220h8M280 284h8M416 332h8M336 348h8M432 348h8M320 364h8M296 372h16"/><path stroke="#8a8a8a" d="M312 220h8M368 276h8M328 356h8"/><path stroke="#8c8c8c" d="M328 204h8M432 356h8M432 396h8M424 428h8M392 476h8"/><path stroke="#8e8e8e" d="M320 212h8M368 228h8M424 340h8M280 356h8M392 356h8M384 372h8M376 396h8M408 460h8M376 468h8M384 476h8"/><path stroke="#909090" d="M368 268h8M360 300h8M408 340h8M432 364h8M432 388h8M400 468h8"/><path stroke="#929292" d="M368 236h8M280 292h8M344 332h8M400 348h8M288 364h8M432 372h8M432 380h8M416 444h8"/><path stroke="#949494" d="M352 204h8M360 212h8M368 260h8M416 340h8M312 364h8M376 404h8M376 460h8"/><path stroke="#969696" d="M336 204h8M304 236h8M368 244h8M368 252h8M288 268h8M352 316h8M424 420h8"/><path stroke="#989898" d="M280 348h8M424 348h8M384 380h8M384 468h16"/><path stroke="#9a9a9a" d="M344 204h8M296 252h8M360 292h8M336 340h8M296 364h16M392 364h8M376 412h8M376 452h8"/><path stroke="#9c9c9c" d="M280 300h8M320 356h8M376 444h8M408 452h8"/><path stroke="#9e9e9e" d="M360 220h8M280 340h8M328 348h8M408 348h8M400 356h8M424 412h8M376 420h8M376 428h8M376 436h8M416 436h8M400 460h8"/><path stroke="#a0a0a0" d="M328 212h8M312 228h8M416 348h8M288 356h8M424 356h8M384 388h8M384 460h8"/><path stroke="#a2a2a2" d="M280 308h8"/><path stroke="#a4a4a4" d="M352 212h8M320 220h8M288 276h8M360 284h8M352 308h8M344 324h8M280 332h8M392 372h8M392 460h8"/><path stroke="#a6a6a6" d="M280 316h8M280 324h8M424 364h8M424 404h8"/><path stroke="#a8a8a8" d="M360 228h8M312 356h8M408 356h8M384 396h8M416 428h8M408 444h8M384 452h8"/><path stroke="#aaaaaa" d="M336 212h16M304 244h8M296 356h8M416 356h8M400 364h8M424 372h8M424 396h8M400 452h8"/><path stroke="#acacac" d="M296 260h8M360 276h8M288 348h8M304 356h8M424 380h8M424 388h8"/><path stroke="#aeaeae" d="M336 332h8M392 380h8M384 404h8M384 444h8M392 452h8"/><path stroke="#b0b0b0" d="M360 236h8M320 348h8M416 420h8"/><path stroke="#b2b2b2" d="M352 220h8M360 268h8M288 284h8M352 300h8M328 340h8M416 364h8M384 412h8M384 436h8M408 436h8"/><path stroke="#b4b4b4" d="M328 220h8M312 236h8M360 244h8M344 316h8M408 364h8M400 372h8M384 420h8M384 428h8M400 444h8"/><path stroke="#b6b6b6" d="M360 252h8M360 260h8M392 388h8M416 412h8M392 444h8"/><path stroke="#b8b8b8" d="M320 228h8M288 340h8M416 372h8"/><path stroke="#bababa" d="M296 348h8M416 404h8M408 428h8"/><path stroke="#bcbcbc" d="M344 220h8M288 292h8M312 348h8M408 372h8M400 380h8M416 380h8M392 396h8M392 436h16"/><path stroke="#bebebe" d="M336 220h8M352 228h8M304 252h8M296 268h8M352 292h8M416 388h8M416 396h8"/><path stroke="#c0c0c0" d="M336 324h8M288 332h8M304 348h8M392 404h8M408 420h8M392 428h8"/><path stroke="#c2c2c2" d="M408 380h8M400 388h8M392 412h8M392 420h8M400 428h8"/><path stroke="#c4c4c4" d="M288 300h8M344 308h8M320 340h8M408 388h8M408 412h8"/><path stroke="#c6c6c6" d="M288 324h8M328 332h8M400 396h16M408 404h8M400 420h8"/><path stroke="#c8c8c8" d="M352 236h8M352 284h8M288 308h8M288 316h8M400 404h8M400 412h8"/><path stroke="#cacaca" d="M328 228h8M312 244h8M296 340h8"/><path stroke="#cccccc" d="M344 228h8M296 276h8"/><path stroke="#cecece" d="M320 236h8"/><path stroke="#d0d0d0" d="M336 228h8M352 244h8M304 260h8M352 276h8M312 340h8"/><path stroke="#d2d2d2" d="M336 316h8M304 340h8"/><path stroke="#d4d4d4" d="M352 252h8M352 268h8M344 300h8"/><path stroke="#d6d6d6" d="M352 260h8M296 332h8"/><path stroke="#d8d8d8" d="M296 284h8M320 332h8"/><path stroke="#dadada" d="M344 236h8M328 324h8"/><path stroke="#dcdcdc" d="M328 236h8M312 252h8"/><path stroke="#dedede" d="M296 324h8"/><path stroke="#e0e0e0" d="M336 236h8M320 244h8M304 268h8M296 292h8M344 292h8M304 332h8"/><path stroke="#e2e2e2" d="M336 308h8M312 332h8"/><path stroke="#e4e4e4" d="M344 244h8M296 316h8"/><path stroke="#e6e6e6" d="M296 300h8M296 308h8"/><path stroke="#e8e8e8" d="M344 284h8"/><path stroke="#eaeaea" d="M328 316h8M320 324h8"/><path stroke="#ececec" d="M328 244h8M344 252h8M312 260h8M304 276h8"/><path stroke="#eeeeee" d="M336 244h8M344 276h8M304 324h8"/><path stroke="#f0f0f0" d="M320 252h8M344 260h8M344 268h8M336 300h8"/><path stroke="#f2f2f2" d="M312 324h8"/><path stroke="#f6f6f6" d="M304 284h8M304 316h8"/><path stroke="#f8f8f8" d="M336 252h8M312 268h8M328 308h8M320 316h8"/><path stroke="#fafafa" d="M328 252h8M304 292h8M336 292h8M304 308h8"/><path stroke="#fcfcfc" d="M320 260h8M304 300h8M312 316h8"/><path stroke="#fefefe" d="M328 260h16M320 268h24M312 276h32M312 284h32M312 292h24M312 300h24M312 308h16"/></g></g>
<g fill="none" stroke="#fff" stroke-width="1.3" stroke-linejoin="round">
<path d="M330.5 122.0C334.6 121.6 338.9 121.8 343.1 122.2C347.4 122.7 351.7 123.7 356.0 124.9C360.3 126.1 364.6 127.7 368.8 129.5C373.0 131.3 377.1 133.4 381.2 135.5C385.2 137.7 389.1 140.1 392.9 142.6C396.6 145.1 400.2 147.7 403.7 150.4C407.2 153.1 410.5 155.9 413.7 158.9C416.8 161.9 419.9 164.9 422.7 168.1C425.6 171.3 428.3 174.6 430.9 178.0C433.5 181.4 435.9 185.0 438.2 188.6C440.4 192.2 442.5 196.0 444.5 199.8C446.5 203.6 448.3 207.5 450.0 211.5C451.8 215.5 453.3 219.6 454.8 223.7C456.2 227.8 457.5 232.0 458.7 236.3C459.9 240.5 461.0 244.8 462.0 249.2C463.0 253.5 463.8 257.9 464.6 262.3C465.3 266.6 466.0 271.1 466.5 275.5C467.1 279.9 467.6 284.4 467.9 288.8C468.3 293.2 468.5 297.7 468.8 302.1C469.0 306.5 469.1 310.9 469.4 315.3C469.7 319.6 469.9 324.0 470.5 328.3C471.0 332.5 471.6 336.8 472.7 340.9C473.7 345.1 474.7 349.6 476.7 353.1C478.6 356.6 480.9 360.3 484.2 362.0C487.6 363.7 492.2 363.4 496.7 363.5C501.1 363.5 506.5 362.0 510.9 362.3C515.3 362.6 519.5 363.4 523.1 365.4C526.7 367.4 529.6 370.8 532.3 374.2C535.0 377.6 537.3 381.8 539.4 385.8C541.5 389.7 543.4 393.8 545.0 398.0C546.6 402.1 548.0 406.3 549.1 410.5C550.2 414.8 551.0 419.0 551.6 423.3C552.1 427.7 552.4 432.0 552.4 436.4C552.4 440.7 552.1 445.2 551.4 449.5C550.8 453.8 549.9 458.2 548.6 462.3C547.3 466.5 545.7 470.6 543.7 474.4C541.8 478.2 539.5 481.9 536.8 485.1C534.1 488.4 531.0 491.4 527.6 494.0C524.2 496.7 520.3 498.8 516.3 500.9C512.4 503.1 508.1 504.8 504.1 506.8C500.0 508.7 495.9 510.6 492.1 512.8C488.2 515.0 484.6 517.4 481.1 519.9C477.6 522.4 474.3 525.1 471.0 527.8C467.6 530.6 464.4 533.4 461.1 536.3C457.8 539.2 454.5 542.1 451.1 545.0C447.8 547.9 444.4 550.7 440.8 553.5C437.3 556.2 433.8 558.8 430.1 561.2C426.5 563.6 422.7 565.9 418.8 567.9C415.0 569.8 411.0 571.6 406.9 573.0C402.8 574.3 398.5 575.5 394.2 576.1C389.9 576.6 385.4 576.9 381.2 576.2C377.0 575.5 372.9 573.8 369.0 571.8C365.1 569.8 361.6 566.8 358.0 564.1C354.4 561.5 351.0 558.7 347.6 556.1C344.2 553.4 340.8 550.9 337.4 548.3C333.9 545.7 330.4 543.2 326.9 540.6C323.3 538.0 319.6 535.4 316.1 532.6C312.6 529.9 309.0 527.1 305.7 524.1C302.5 521.2 299.4 518.1 296.5 514.8C293.6 511.6 291.1 508.1 288.6 504.6C286.2 501.1 284.0 497.4 282.0 493.6C279.9 489.8 278.1 485.9 276.4 482.0C274.6 478.0 273.1 473.9 271.6 469.8C270.1 465.7 268.8 461.5 267.5 457.2C266.2 453.0 265.1 448.7 263.9 444.4C262.8 440.1 261.7 435.7 260.7 431.4C259.6 427.1 258.6 422.7 257.5 418.4C256.4 414.1 255.3 409.8 254.0 405.7C252.7 401.5 251.4 397.4 249.8 393.4C248.2 389.4 246.4 385.5 244.4 381.8C242.3 378.1 240.1 374.5 237.4 371.2C234.7 367.9 231.7 364.8 228.4 361.8C225.1 358.8 221.1 356.3 217.8 353.3C214.4 350.4 211.1 347.3 208.3 344.1C205.4 340.8 202.9 337.2 200.4 333.7C197.9 330.1 195.5 326.5 193.1 322.9C190.8 319.3 188.5 315.6 186.3 311.9C184.1 308.2 182.0 304.4 180.0 300.5C178.0 296.7 176.0 292.7 174.3 288.7C172.5 284.7 170.8 280.6 169.3 276.4C167.8 272.2 166.4 267.9 165.2 263.6C164.1 259.3 163.1 255.0 162.4 250.7C161.7 246.3 161.3 241.9 161.1 237.6C161.0 233.3 161.1 228.9 161.6 224.7C162.1 220.4 162.9 216.2 164.1 212.1C165.4 208.0 166.9 203.9 169.0 200.0C171.0 196.1 173.5 192.0 176.4 188.8C179.4 185.5 182.9 182.6 186.7 180.5C190.5 178.4 195.0 177.3 199.2 176.1C203.5 174.9 207.9 174.2 212.1 173.4C216.4 172.5 220.6 171.9 224.8 171.0C229.0 170.1 233.2 169.2 237.2 167.9C241.3 166.5 245.3 164.9 249.2 163.1C253.2 161.2 257.1 159.0 260.9 156.8C264.7 154.5 268.5 152.0 272.3 149.6C276.1 147.2 279.9 144.6 283.7 142.1C287.5 139.7 291.2 137.2 295.0 135.0C298.8 132.8 302.7 130.7 306.5 128.9C310.4 127.1 314.3 125.5 318.3 124.3C322.3 123.2 326.4 122.3 330.5 122.0Z"/>
<path d="M360.2 166.2C364.8 166.3 369.3 166.8 373.6 167.6C378.0 168.5 382.2 169.7 386.2 171.3C390.2 172.9 394.1 174.9 397.7 177.2C401.4 179.4 405.0 182.0 408.3 184.8C411.7 187.6 414.8 190.7 417.8 193.9C420.8 197.2 423.6 200.7 426.3 204.4C428.9 208.0 431.4 211.8 433.6 215.7C435.9 219.7 437.9 223.7 439.8 227.8C441.7 231.9 443.4 236.1 444.8 240.4C446.3 244.6 447.6 248.8 448.7 253.1C449.8 257.4 450.7 261.7 451.5 266.1C452.3 270.4 452.9 274.8 453.3 279.2C453.8 283.5 454.1 288.0 454.4 292.4C454.6 296.8 454.7 301.3 454.6 305.7C454.6 310.2 454.5 314.7 454.3 319.1C454.1 323.6 453.8 328.1 453.5 332.6C453.2 337.1 452.7 341.6 452.3 346.1C451.8 350.6 451.3 355.1 450.8 359.6C450.2 364.0 449.7 368.5 449.1 373.0C448.5 377.5 447.9 381.9 447.4 386.4C447.0 390.8 446.5 395.2 446.4 399.6C446.3 404.0 446.3 408.3 446.9 412.6C447.6 416.9 448.3 421.3 450.1 425.2C451.8 429.1 454.6 432.7 457.5 436.1C460.4 439.5 465.0 442.1 467.4 445.5C469.9 448.9 471.9 452.4 472.2 456.3C472.6 460.3 471.1 465.0 469.6 469.2C468.0 473.5 465.4 477.9 463.1 481.8C460.7 485.7 458.2 489.1 455.4 492.6C452.7 496.1 449.8 499.5 446.7 502.9C443.7 506.2 440.4 509.6 437.0 512.5C433.5 515.4 429.9 518.2 426.0 520.3C422.2 522.3 418.1 523.9 413.9 524.7C409.7 525.6 405.2 525.5 400.8 525.3C396.3 525.1 391.7 524.2 387.2 523.6C382.7 522.9 378.2 521.9 373.8 521.3C369.4 520.6 365.2 520.1 360.8 519.5C356.5 519.0 352.1 518.6 347.7 517.9C343.3 517.3 338.7 516.7 334.3 515.7C329.9 514.7 325.4 513.6 321.3 512.0C317.1 510.3 313.1 508.4 309.5 505.8C305.9 503.3 302.6 500.0 299.6 496.7C296.7 493.3 294.0 489.4 291.6 485.7C289.2 481.9 287.1 478.0 285.2 474.0C283.3 470.0 281.7 466.0 280.2 461.9C278.7 457.8 277.4 453.6 276.3 449.3C275.2 445.1 274.3 440.8 273.4 436.4C272.6 432.1 272.0 427.7 271.4 423.3C270.8 418.9 270.4 414.4 270.0 409.9C269.6 405.4 269.3 400.9 269.0 396.4C268.7 391.9 268.5 387.4 268.3 382.8C268.1 378.3 267.9 373.8 267.6 369.3C267.4 364.8 267.2 360.3 266.9 355.8C266.6 351.3 266.3 346.9 265.9 342.5C265.6 338.0 265.1 333.6 264.7 329.3C264.3 324.9 263.8 320.5 263.4 316.1C263.0 311.7 262.5 307.3 262.1 303.0C261.7 298.6 261.2 294.2 260.9 289.8C260.5 285.4 260.2 280.9 260.0 276.5C259.7 272.0 259.5 267.6 259.4 263.1C259.3 258.6 259.2 254.0 259.4 249.5C259.5 245.0 259.8 240.4 260.4 236.0C261.0 231.6 261.9 227.2 263.1 222.9C264.4 218.7 266.0 214.5 268.1 210.6C270.1 206.7 272.6 202.8 275.3 199.3C278.0 195.8 281.2 192.4 284.4 189.4C287.7 186.4 291.4 183.6 295.1 181.2C298.8 178.8 302.8 176.7 306.8 175.0C310.8 173.3 314.9 172.1 319.1 171.1C323.3 170.1 327.6 169.6 332.1 169.0C336.5 168.3 341.3 167.6 346.0 167.2C350.6 166.7 355.5 166.2 360.2 166.2Z"/>
<path d="M444.5 339.0C444.2 343.0 443.7 346.9 443.2 350.8C442.8 354.7 442.2 358.5 441.5 362.4C440.8 366.2 440.1 370.0 439.3 373.7C438.5 377.4 437.6 381.1 436.6 384.8C435.7 388.5 434.7 392.1 433.6 395.7C432.5 399.3 431.4 402.8 430.3 406.4C429.1 409.9 427.9 413.4 426.6 416.9C425.3 420.4 423.9 423.9 422.5 427.3C421.1 430.7 419.6 434.2 418.1 437.5C416.5 440.9 414.9 444.2 413.1 447.5C411.4 450.7 409.6 453.9 407.7 457.0C405.8 460.1 403.8 463.2 401.7 466.0C399.6 468.9 397.4 471.7 395.2 474.3C392.9 476.9 390.6 479.3 388.1 481.6C385.7 483.8 383.2 485.9 380.6 487.7C378.0 489.5 375.4 491.2 372.7 492.5C370.0 493.9 367.3 495.1 364.6 495.9C361.8 496.8 359.0 497.5 356.2 497.8C353.5 498.2 350.6 498.3 347.9 498.1C345.1 497.9 342.4 497.4 339.7 496.7C337.0 495.9 334.3 494.9 331.7 493.7C329.1 492.4 326.5 490.8 324.1 489.1C321.7 487.3 319.3 485.2 317.0 483.0C314.8 480.7 312.6 478.2 310.6 475.6C308.5 472.9 306.6 470.0 304.8 467.0C303.0 464.0 301.3 460.8 299.7 457.5C298.2 454.2 296.7 450.8 295.4 447.3C294.1 443.8 292.8 440.2 291.7 436.6C290.6 433.0 289.6 429.4 288.7 425.7C287.7 422.0 286.9 418.3 286.2 414.6C285.4 410.9 284.7 407.2 284.1 403.4C283.5 399.7 283.0 396.0 282.5 392.3C282.0 388.5 281.6 384.8 281.3 381.0C280.9 377.3 280.6 373.5 280.4 369.8C280.2 366.0 280.0 362.2 280.0 358.4C279.9 354.6 279.9 350.8 279.9 347.0C280.0 343.2 280.1 339.4 280.3 335.6C280.6 331.7 280.9 327.9 281.2 324.1C281.6 320.2 282.0 316.4 282.6 312.5C283.1 308.7 283.7 304.8 284.4 301.0C285.1 297.1 285.9 293.3 286.7 289.5C287.6 285.7 288.5 281.8 289.6 278.0C290.6 274.3 291.7 270.5 292.9 266.7C294.1 263.0 295.4 259.3 296.9 255.6C298.3 252.0 299.8 248.3 301.4 244.8C303.0 241.3 304.7 237.8 306.5 234.5C308.4 231.2 310.3 228.0 312.3 224.9C314.4 221.8 316.5 218.9 318.7 216.2C321.0 213.4 323.3 210.8 325.7 208.5C328.1 206.1 330.6 204.0 333.1 202.1C335.7 200.2 338.3 198.4 340.9 197.0C343.6 195.5 346.3 194.3 349.0 193.3C351.7 192.3 354.5 191.6 357.2 191.1C360.0 190.6 362.7 190.3 365.5 190.3C368.2 190.2 370.9 190.4 373.6 190.8C376.3 191.2 379.0 191.8 381.7 192.7C384.3 193.5 386.9 194.5 389.4 195.8C392.0 197.0 394.5 198.5 396.9 200.1C399.3 201.7 401.7 203.5 404.0 205.5C406.3 207.5 408.5 209.7 410.7 212.1C412.8 214.4 414.8 216.9 416.8 219.6C418.8 222.2 420.6 225.1 422.4 228.0C424.2 231.0 425.8 234.1 427.4 237.2C429.0 240.4 430.4 243.8 431.8 247.1C433.2 250.5 434.4 254.1 435.6 257.6C436.8 261.2 437.8 264.9 438.8 268.6C439.7 272.3 440.6 276.1 441.3 279.9C442.0 283.7 442.7 287.6 443.2 291.5C443.7 295.4 444.2 299.3 444.5 303.3C444.8 307.2 445.0 311.2 445.1 315.2C445.2 319.2 445.2 323.1 445.1 327.1C445.0 331.1 444.8 335.1 444.5 339.0Z"/>
<path d="M437.6 339.6C437.4 343.2 437.0 346.7 436.6 350.2C436.2 353.7 435.7 357.2 435.1 360.6C434.5 364.1 433.9 367.5 433.1 370.9C432.4 374.3 431.6 377.6 430.8 381.0C430.0 384.3 429.1 387.6 428.2 390.9C427.2 394.1 426.2 397.4 425.2 400.6C424.1 403.9 423.1 407.1 421.9 410.3C420.7 413.5 419.5 416.7 418.3 419.8C417.0 423.0 415.6 426.1 414.2 429.2C412.8 432.3 411.3 435.3 409.7 438.3C408.2 441.2 406.5 444.2 404.8 447.0C403.0 449.8 401.2 452.5 399.3 455.1C397.3 457.7 395.3 460.2 393.3 462.5C391.2 464.8 389.0 467.0 386.8 469.0C384.6 471.0 382.3 472.8 379.9 474.4C377.6 476.0 375.2 477.5 372.7 478.7C370.3 479.9 367.8 480.9 365.3 481.6C362.8 482.4 360.3 482.9 357.8 483.2C355.3 483.5 352.7 483.6 350.2 483.4C347.7 483.2 345.2 482.8 342.8 482.1C340.4 481.4 337.9 480.5 335.6 479.3C333.3 478.2 331.0 476.7 328.8 475.1C326.6 473.5 324.5 471.6 322.4 469.6C320.4 467.6 318.5 465.3 316.6 462.9C314.8 460.5 313.1 457.9 311.4 455.2C309.8 452.5 308.3 449.7 306.8 446.8C305.4 443.9 304.1 440.8 302.9 437.8C301.6 434.7 300.5 431.5 299.4 428.4C298.3 425.2 297.4 422.0 296.5 418.7C295.5 415.5 294.7 412.2 293.9 408.9C293.2 405.6 292.5 402.3 291.8 399.0C291.2 395.6 290.6 392.3 290.1 388.9C289.7 385.5 289.2 382.1 288.9 378.7C288.5 375.3 288.3 371.8 288.1 368.4C287.9 364.9 287.8 361.4 287.7 357.9C287.7 354.5 287.8 351.0 287.9 347.5C288.1 344.0 288.3 340.5 288.6 337.0C288.9 333.5 289.3 330.0 289.7 326.5C290.2 323.1 290.7 319.6 291.3 316.2C291.9 312.7 292.5 309.3 293.3 305.9C294.0 302.5 294.7 299.0 295.6 295.6C296.4 292.2 297.3 288.8 298.3 285.5C299.2 282.1 300.2 278.7 301.4 275.3C302.5 272.0 303.6 268.6 304.9 265.3C306.2 262.1 307.5 258.8 309.0 255.6C310.4 252.4 312.0 249.3 313.6 246.3C315.2 243.3 317.0 240.3 318.8 237.6C320.6 234.8 322.6 232.1 324.6 229.6C326.6 227.2 328.7 224.8 330.8 222.7C333.0 220.6 335.3 218.6 337.6 216.8C339.9 215.1 342.2 213.5 344.6 212.2C347.0 210.8 349.4 209.7 351.9 208.8C354.4 207.8 356.8 207.1 359.3 206.5C361.8 206.0 364.3 205.7 366.8 205.5C369.3 205.4 371.8 205.4 374.2 205.7C376.7 206.0 379.1 206.4 381.5 207.1C383.9 207.7 386.3 208.6 388.6 209.6C391.0 210.6 393.3 211.9 395.5 213.3C397.7 214.8 399.9 216.4 402.0 218.2C404.0 220.0 406.1 222.1 408.0 224.2C409.9 226.4 411.8 228.7 413.5 231.2C415.2 233.7 416.9 236.4 418.4 239.1C420.0 241.9 421.4 244.8 422.8 247.7C424.2 250.7 425.4 253.8 426.6 256.9C427.8 260.0 428.8 263.3 429.8 266.5C430.8 269.8 431.7 273.1 432.5 276.5C433.3 279.8 434.0 283.2 434.7 286.7C435.3 290.1 435.9 293.6 436.3 297.1C436.8 300.5 437.2 304.1 437.5 307.6C437.8 311.1 438.0 314.7 438.1 318.3C438.2 321.8 438.2 325.4 438.1 328.9C438.1 332.5 437.9 336.1 437.6 339.6Z"/>
<path d="M405.1 339.8C404.7 341.8 404.4 343.7 404.0 345.7C403.6 347.6 403.1 349.6 402.7 351.5C402.2 353.4 401.7 355.3 401.2 357.2C400.7 359.1 400.1 360.9 399.6 362.8C399.0 364.7 398.4 366.5 397.8 368.4C397.2 370.2 396.6 372.0 395.9 373.9C395.3 375.7 394.6 377.6 393.9 379.4C393.2 381.2 392.4 383.1 391.6 384.9C390.8 386.7 390.0 388.5 389.1 390.3C388.3 392.1 387.3 393.9 386.4 395.6C385.4 397.4 384.4 399.1 383.3 400.7C382.3 402.4 381.2 404.0 380.0 405.5C378.9 407.1 377.7 408.6 376.5 409.9C375.2 411.3 373.9 412.7 372.6 413.9C371.3 415.1 370.0 416.3 368.6 417.3C367.3 418.3 365.9 419.3 364.5 420.1C363.1 420.9 361.7 421.7 360.2 422.3C358.8 422.9 357.4 423.4 355.9 423.7C354.5 424.1 353.1 424.3 351.6 424.4C350.2 424.6 348.8 424.5 347.4 424.4C346.0 424.2 344.7 423.9 343.4 423.5C342.0 423.1 340.7 422.5 339.5 421.8C338.3 421.1 337.1 420.3 335.9 419.3C334.8 418.4 333.7 417.3 332.7 416.1C331.7 414.9 330.8 413.6 329.9 412.2C329.0 410.8 328.2 409.3 327.4 407.7C326.7 406.1 326.0 404.5 325.4 402.8C324.8 401.1 324.2 399.3 323.7 397.6C323.2 395.8 322.8 393.9 322.4 392.1C322.0 390.2 321.7 388.4 321.4 386.5C321.1 384.6 320.9 382.7 320.7 380.8C320.5 378.9 320.3 377.0 320.2 375.0C320.1 373.1 320.0 371.2 320.0 369.2C320.0 367.3 320.0 365.4 320.0 363.4C320.1 361.5 320.1 359.5 320.3 357.6C320.4 355.6 320.5 353.7 320.7 351.7C320.9 349.7 321.1 347.8 321.4 345.8C321.7 343.8 322.0 341.9 322.3 339.9C322.7 337.9 323.0 336.0 323.5 334.0C323.9 332.1 324.3 330.1 324.8 328.1C325.3 326.2 325.9 324.2 326.5 322.3C327.1 320.3 327.7 318.4 328.4 316.4C329.0 314.5 329.7 312.6 330.5 310.7C331.3 308.8 332.1 306.9 332.9 305.1C333.8 303.3 334.7 301.5 335.7 299.7C336.6 298.0 337.6 296.2 338.7 294.6C339.7 292.9 340.8 291.3 342.0 289.8C343.1 288.3 344.3 286.8 345.5 285.4C346.7 284.0 347.9 282.7 349.2 281.4C350.4 280.2 351.7 279.0 353.1 277.9C354.4 276.8 355.7 275.8 357.1 274.9C358.4 273.9 359.8 273.1 361.2 272.3C362.6 271.6 364.0 270.9 365.4 270.4C366.8 269.8 368.2 269.3 369.6 268.9C371.0 268.6 372.5 268.3 373.9 268.1C375.3 268.0 376.7 267.9 378.1 268.0C379.4 268.1 380.8 268.3 382.1 268.6C383.5 269.0 384.8 269.4 386.0 270.0C387.3 270.6 388.5 271.3 389.7 272.2C390.9 273.0 392.0 274.0 393.1 275.1C394.2 276.1 395.2 277.4 396.1 278.7C397.1 280.0 397.9 281.4 398.8 282.9C399.6 284.3 400.3 285.9 401.0 287.6C401.7 289.2 402.3 290.9 402.9 292.7C403.4 294.5 403.9 296.3 404.4 298.1C404.8 300.0 405.2 301.9 405.5 303.8C405.8 305.7 406.0 307.7 406.2 309.7C406.4 311.6 406.6 313.6 406.6 315.6C406.7 317.6 406.7 319.7 406.7 321.7C406.7 323.7 406.6 325.7 406.5 327.7C406.3 329.8 406.1 331.8 405.9 333.8C405.7 335.8 405.4 337.8 405.1 339.8Z"/>
</g>
<ellipse cx="75.3" cy="566.9" rx="42.2" ry="96" transform="rotate(22.5 75.3 566.9)" fill="#00ff00" stroke="#000" stroke-width="1.0"/>
</g>
<path d="M502.2 615.1H649.9" stroke="#fff" stroke-width="2.8" fill="none"/>
<text class="w b" transform="translate(576.4 646.9) scale(0.985 1.09)" style="font-size:25px" text-anchor="middle">0.2 pc</text>
<text class="w" x="33.4" y="52.7">BM556C</text>
<text class="w" x="33.4" y="86.3">2024-05-30</text>
<text class="w" x="644.5" y="52.7" text-anchor="end">23.57 GHz</text>
<text class="w" x="644.3" y="86.3" text-anchor="end" letter-spacing="-0.08">RMS = 0.22 mJy</text>
<path d="M0 6.35h20.6M678 6.35h-20.6M0 60.63h7.9M678 60.63h-7.9M0 114.91h7.9M678 114.91h-7.9M0 169.19h7.9M678 169.19h-7.9M0 223.47h7.9M678 223.47h-7.9M0 277.75h20.6M678 277.75h-20.6M0 332.03h7.9M678 332.03h-7.9M0 386.31h7.9M678 386.31h-7.9M0 440.59h7.9M678 440.59h-7.9M0 494.87h7.9M678 494.87h-7.9M0 549.15h20.6M678 549.15h-20.6M0 603.43h7.9M678 603.43h-7.9M0 657.71h7.9M678 657.71h-7.9M298.4 0v20.2M298.4 678.7v-20.2M634.4 0v7.9M634.4 678.7v-7.9" stroke="#fff" stroke-width="2.3" fill="none"/>
<rect x="0" y="0" width="678" height="678.7" fill="none" stroke="#000" stroke-width="2.1"/>
<text class="k" x="-9.1" y="13.8" text-anchor="end">65°33'54.338"</text>
<text class="k" x="-9.1" y="285.2" text-anchor="end">54.337"</text>
<text class="k" x="-9.1" y="556.6" text-anchor="end">54.336"</text>
<text class="k" y="705.8"><tspan x="210.2" letter-spacing="-1.2">19</tspan><tspan class="s" x="237.8" dy="-9.7">H</tspan><tspan x="251.8" dy="9.7">27</tspan><tspan class="s" x="280.6" dy="-9.7">M</tspan><tspan x="297.5" dy="9.7" letter-spacing="-0.6">19.540</tspan><tspan class="s" x="374.4" dy="-9.7">S</tspan></text>
<text class="k" x="339" y="745.9" text-anchor="middle">RA (J2000)</text>
<text class="k" transform="translate(-186.9 339.2) rotate(-90)" text-anchor="middle">DEC (J2000)</text>
<rect x="685" y="0" width="27" height="678.7" fill="url(#cb)"/>
<path d="M712 662.731h-7.8M712 646.761h-7.8M712 630.792h-7.8M712 614.822h-7.8M712 582.884h-7.8M712 566.914h-7.8M712 550.945h-7.8M712 534.975h-7.8M712 503.036h-7.8M712 487.067h-7.8M712 471.098h-7.8M712 455.128h-7.8M712 423.189h-7.8M712 407.22h-7.8M712 391.251h-7.8M712 375.281h-7.8M712 343.342h-7.8M712 327.373h-7.8M712 311.404h-7.8M712 295.434h-7.8M712 263.495h-7.8M712 247.526h-7.8M712 231.556h-7.8M712 215.587h-7.8M712 183.648h-7.8M712 167.679h-7.8M712 151.709h-7.8M712 135.74h-7.8M712 103.801h-7.8M712 87.8318h-7.8M712 71.8624h-7.8M712 55.8929h-7.8M712 23.9541h-7.8M712 7.98471h-7.8" stroke="#000" stroke-width="1.6" fill="none"/>
<path d="M712 678.7h-17.6M712 598.853h-17.6M712 519.006h-17.6M712 439.159h-17.6M712 359.312h-17.6M712 279.465h-17.6M712 199.618h-17.6M712 119.771h-17.6M712 39.9235h-17.6" stroke="#000" stroke-width="2.1" fill="none"/>
<rect x="685" y="0" width="27" height="678.7" fill="none" stroke="#000" stroke-width="2.1"/>
<text class="k" x="720.7" y="687.6">0.0</text>
<text class="k" x="720.7" y="607.753">0.5</text>
<text class="k" x="720.7" y="527.906">1.0</text>
<text class="k" x="720.7" y="448.059">1.5</text>
<text class="k" x="720.7" y="368.212">2.0</text>
<text class="k" x="720.7" y="288.365">2.5</text>
<text class="k" x="720.7" y="208.518">3.0</text>
<text class="k" x="720.7" y="128.671">3.5</text>
<text class="k" x="720.7" y="48.8235">4.0</text>
<text class="k" transform="translate(772.3 339.2) rotate(90)" text-anchor="middle">mJy/beam</text>
</g>
</svg></body></html>
